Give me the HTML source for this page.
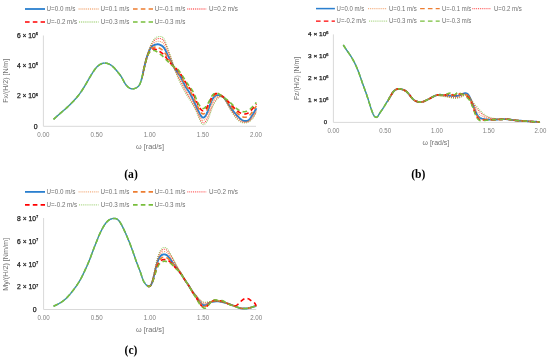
<!DOCTYPE html>
<html><head><meta charset="utf-8"><style>
html,body{margin:0;padding:0;background:#fff;}
svg{display:block;font-family:"Liberation Sans",sans-serif;}
.cap{font-family:"Liberation Serif",serif;font-weight:bold;}
.yt{font-family:"Liberation Sans",sans-serif;stroke:#1a1a1a;stroke-width:0.25px;}
</style></head><body>
<svg width="550" height="361" viewBox="0 0 550 361">
<rect width="550" height="361" fill="#fff"/>
<line x1="25" y1="9.0" x2="45" y2="9.0" stroke="#2a7fcf" stroke-width="1.80"/>
<text x="46.5" y="11.38" font-size="6.6" textLength="28.8" lengthAdjust="spacingAndGlyphs" fill="#707070">U=0.0 m/s</text>
<line x1="78.6" y1="9.0" x2="98.6" y2="9.0" stroke="#ED7D31" stroke-width="1.40" stroke-dasharray="1 0.9" stroke-opacity="0.6"/>
<text x="100.5" y="11.38" font-size="6.6" textLength="28.8" lengthAdjust="spacingAndGlyphs" fill="#707070">U=0.1 m/s</text>
<line x1="133" y1="9.0" x2="153" y2="9.0" stroke="#ED7D31" stroke-width="1.70" stroke-dasharray="4.6 3.2"/>
<text x="154.7" y="11.38" font-size="6.6" textLength="30.6" lengthAdjust="spacingAndGlyphs" fill="#707070">U=-0.1 m/s</text>
<line x1="187.3" y1="9.0" x2="206.5" y2="9.0" stroke="#FF0000" stroke-width="1.40" stroke-dasharray="1 0.9" stroke-opacity="0.6"/>
<text x="209" y="11.38" font-size="6.6" textLength="28.8" lengthAdjust="spacingAndGlyphs" fill="#707070">U=0.2 m/s</text>
<line x1="25" y1="22.0" x2="45" y2="22.0" stroke="#FF0000" stroke-width="1.70" stroke-dasharray="4.6 3.2"/>
<text x="46.5" y="24.38" font-size="6.6" textLength="30.6" lengthAdjust="spacingAndGlyphs" fill="#707070">U=-0.2 m/s</text>
<line x1="79" y1="22.0" x2="98.6" y2="22.0" stroke="#78BE3C" stroke-width="1.40" stroke-dasharray="1 0.9" stroke-opacity="0.6"/>
<text x="100.7" y="24.38" font-size="6.6" textLength="28.8" lengthAdjust="spacingAndGlyphs" fill="#707070">U=0.3 m/s</text>
<line x1="133" y1="22.0" x2="153" y2="22.0" stroke="#78BE3C" stroke-width="1.70" stroke-dasharray="4.6 3.2"/>
<text x="154.7" y="24.38" font-size="6.6" textLength="30.6" lengthAdjust="spacingAndGlyphs" fill="#707070">U=-0.3 m/s</text>
<line x1="43.4" y1="35.5" x2="43.4" y2="126.3" stroke="#d9d9d9" stroke-width="1"/>
<line x1="43.4" y1="126.3" x2="256" y2="126.3" stroke="#d9d9d9" stroke-width="1"/>
<text x="16.90" y="37.90" font-size="6.9" textLength="21.2" lengthAdjust="spacingAndGlyphs" fill="#1a1a1a" class="yt">6 × 10<tspan font-size="4.21" dy="-2.69">6</tspan></text>
<text x="16.90" y="68.10" font-size="6.9" textLength="21.2" lengthAdjust="spacingAndGlyphs" fill="#1a1a1a" class="yt">4 × 10<tspan font-size="4.21" dy="-2.69">6</tspan></text>
<text x="16.90" y="98.40" font-size="6.9" textLength="21.2" lengthAdjust="spacingAndGlyphs" fill="#1a1a1a" class="yt">2 × 10<tspan font-size="4.21" dy="-2.69">6</tspan></text>
<text x="37.70" y="128.70" font-size="6.9" text-anchor="end" fill="#1a1a1a" class="yt">0</text>
<text x="37.35" y="137.00" font-size="6.6" textLength="12.1" lengthAdjust="spacingAndGlyphs" fill="#7f7f7f">0.00</text>
<text x="90.50" y="137.00" font-size="6.6" textLength="12.1" lengthAdjust="spacingAndGlyphs" fill="#7f7f7f">0.50</text>
<text x="143.65" y="137.00" font-size="6.6" textLength="12.1" lengthAdjust="spacingAndGlyphs" fill="#7f7f7f">1.00</text>
<text x="196.80" y="137.00" font-size="6.6" textLength="12.1" lengthAdjust="spacingAndGlyphs" fill="#7f7f7f">1.50</text>
<text x="249.95" y="137.00" font-size="6.6" textLength="12.1" lengthAdjust="spacingAndGlyphs" fill="#7f7f7f">2.00</text>
<text x="136.00" y="148.90" font-size="6.3" textLength="28" lengthAdjust="spacingAndGlyphs" fill="#707070">ω [rad/s]</text>
<text transform="translate(5.8,80.8) rotate(-90)" x="-21.90" y="2.2" font-size="6.4" textLength="43.8" lengthAdjust="spacingAndGlyphs" fill="#707070">Fx/(H/2) [N/m]</text>
<clipPath id="cl1"><rect x="142" y="0" width="600" height="400"/></clipPath>
<clipPath id="sh1"><rect x="0" y="0" width="142" height="400"/></clipPath>
<path d="M53.60,119.30 L54.10,118.85 L54.60,118.39 L55.10,117.94 L55.60,117.48 L56.10,117.03 L56.60,116.58 L57.10,116.13 L57.60,115.68 L58.10,115.24 L58.60,114.79 L59.10,114.35 L59.60,113.91 L60.10,113.47 L60.60,113.04 L61.10,112.61 L61.60,112.18 L62.10,111.75 L62.60,111.33 L63.10,110.90 L63.60,110.47 L64.10,110.04 L64.60,109.61 L65.10,109.17 L65.60,108.74 L66.10,108.29 L66.60,107.85 L67.10,107.39 L67.60,106.93 L68.10,106.46 L68.60,105.99 L69.10,105.51 L69.60,105.03 L70.10,104.54 L70.60,104.04 L71.10,103.53 L71.60,103.03 L72.10,102.51 L72.60,101.99 L73.10,101.47 L73.60,100.94 L74.10,100.40 L74.60,99.86 L75.10,99.31 L75.60,98.76 L76.10,98.19 L76.60,97.62 L77.10,97.03 L77.60,96.43 L78.10,95.81 L78.60,95.18 L79.10,94.53 L79.60,93.86 L80.10,93.18 L80.60,92.47 L81.10,91.75 L81.60,91.01 L82.10,90.25 L82.60,89.48 L83.10,88.70 L83.60,87.90 L84.10,87.09 L84.60,86.27 L85.10,85.44 L85.60,84.60 L86.10,83.75 L86.60,82.89 L87.10,82.03 L87.60,81.17 L88.10,80.30 L88.60,79.44 L89.10,78.58 L89.60,77.71 L90.10,76.86 L90.60,76.01 L91.10,75.17 L91.60,74.34 L92.10,73.52 L92.60,72.73 L93.10,71.95 L93.60,71.20 L94.10,70.47 L94.60,69.77 L95.10,69.11 L95.60,68.48 L96.10,67.88 L96.60,67.33 L97.10,66.81 L97.60,66.32 L98.10,65.87 L98.60,65.46 L99.10,65.08 L99.60,64.73 L100.10,64.42 L100.60,64.15 L101.10,63.90 L101.60,63.69 L102.10,63.52 L102.60,63.37 L103.10,63.26 L103.60,63.17 L104.10,63.12 L104.60,63.09 L105.10,63.10 L105.60,63.13 L106.10,63.19 L106.60,63.27 L107.10,63.39 L107.60,63.53 L108.10,63.70 L108.60,63.89 L109.10,64.11 L109.60,64.35 L110.10,64.62 L110.60,64.92 L111.10,65.24 L111.60,65.59 L112.10,65.97 L112.60,66.38 L113.10,66.82 L113.60,67.30 L114.10,67.80 L114.60,68.34 L115.10,68.89 L115.60,69.47 L116.10,70.06 L116.60,70.67 L117.10,71.28 L117.60,71.90 L118.10,72.51 L118.60,73.12 L119.10,73.73 L119.60,74.34 L120.10,74.98 L120.60,75.66 L121.10,76.40 L121.60,77.20 L122.10,78.08 L122.60,79.01 L123.10,79.97 L123.60,80.93 L124.10,81.87 L124.60,82.74 L125.10,83.55 L125.60,84.28 L126.10,84.95 L126.60,85.56 L127.10,86.11 L127.60,86.60 L128.10,87.04 L128.60,87.43 L129.10,87.76 L129.60,88.05 L130.10,88.29 L130.60,88.49 L131.10,88.64 L131.60,88.75 L132.10,88.81 L132.60,88.83 L133.10,88.82 L133.60,88.76 L134.10,88.66 L134.60,88.53 L135.10,88.35 L135.60,88.14 L136.10,87.89 L136.60,87.61 L137.10,87.28 L137.60,86.93 L138.10,86.52 L138.60,86.02 L139.10,85.39 L139.60,84.57 L140.10,83.53 L140.60,82.21 L141.10,80.61 L141.60,78.77 L142.10,76.76 L142.60,74.64 L143.10,72.47 L143.60,70.27 L144.10,68.07 L144.60,65.90 L145.10,63.79 L145.60,61.76 L146.10,59.83 L146.60,58.02 L147.10,56.35 L147.60,54.83 L148.10,53.43 L148.60,52.16 L149.10,51.00 L149.60,49.93 L150.10,48.97 L150.60,48.10 L151.10,47.35 L151.60,46.72 L152.10,46.21 L152.60,45.81 L153.10,45.50 L153.60,45.26 L154.10,45.06 L154.60,44.90 L155.10,44.75 L155.60,44.61 L156.10,44.49 L156.60,44.39 L157.10,44.32 L157.60,44.30 L158.10,44.31 L158.60,44.37 L159.10,44.48 L159.60,44.62 L160.10,44.81 L160.60,45.03 L161.10,45.29 L161.60,45.58 L162.10,45.91 L162.60,46.29 L163.10,46.75 L163.60,47.29 L164.10,47.94 L164.60,48.70 L165.10,49.59 L165.60,50.57 L166.10,51.62 L166.60,52.70 L167.10,53.78 L167.60,54.82 L168.10,55.82 L168.60,56.79 L169.10,57.76 L169.60,58.72 L170.10,59.70 L170.60,60.70 L171.10,61.72 L171.60,62.74 L172.10,63.76 L172.60,64.76 L173.10,65.73 L173.60,66.67 L174.10,67.56 L174.60,68.39 L175.10,69.17 L175.60,69.90 L176.10,70.60 L176.60,71.27 L177.10,71.93 L177.60,72.58 L178.10,73.23 L178.60,73.90 L179.10,74.59 L179.60,75.31 L180.10,76.08 L180.60,76.90 L181.10,77.78 L181.60,78.73 L182.10,79.73 L182.60,80.77 L183.10,81.82 L183.60,82.88 L184.10,83.92 L184.60,84.92 L185.10,85.88 L185.60,86.77 L186.10,87.59 L186.60,88.35 L187.10,89.08 L187.60,89.78 L188.10,90.47 L188.60,91.18 L189.10,91.91 L189.60,92.70 L190.10,93.55 L190.60,94.47 L191.10,95.45 L191.60,96.47 L192.10,97.53 L192.60,98.61 L193.10,99.70 L193.60,100.79 L194.10,101.88 L194.60,102.96 L195.10,104.04 L195.60,105.12 L196.10,106.19 L196.60,107.25 L197.10,108.31 L197.60,109.36 L198.10,110.39 L198.60,111.41 L199.10,112.40 L199.60,113.38 L200.10,114.30 L200.60,115.16 L201.10,115.93 L201.60,116.57 L202.10,117.07 L202.60,117.41 L203.10,117.57 L203.60,117.55 L204.10,117.35 L204.60,116.97 L205.10,116.43 L205.60,115.72 L206.10,114.86 L206.60,113.87 L207.10,112.76 L207.60,111.54 L208.10,110.23 L208.60,108.85 L209.10,107.44 L209.60,106.02 L210.10,104.63 L210.60,103.30 L211.10,102.06 L211.60,100.93 L212.10,99.89 L212.60,98.96 L213.10,98.14 L213.60,97.43 L214.10,96.83 L214.60,96.33 L215.10,95.92 L215.60,95.60 L216.10,95.37 L216.60,95.21 L217.10,95.12 L217.60,95.09 L218.10,95.09 L218.60,95.14 L219.10,95.21 L219.60,95.32 L220.10,95.45 L220.60,95.62 L221.10,95.81 L221.60,96.04 L222.10,96.30 L222.60,96.60 L223.10,96.95 L223.60,97.35 L224.10,97.82 L224.60,98.35 L225.10,98.95 L225.60,99.63 L226.10,100.36 L226.60,101.14 L227.10,101.96 L227.60,102.80 L228.10,103.64 L228.60,104.48 L229.10,105.30 L229.60,106.09 L230.10,106.85 L230.60,107.59 L231.10,108.30 L231.60,108.99 L232.10,109.66 L232.60,110.31 L233.10,110.95 L233.60,111.58 L234.10,112.19 L234.60,112.80 L235.10,113.39 L235.60,113.97 L236.10,114.54 L236.60,115.10 L237.10,115.65 L237.60,116.18 L238.10,116.70 L238.60,117.20 L239.10,117.68 L239.60,118.15 L240.10,118.59 L240.60,119.00 L241.10,119.39 L241.60,119.74 L242.10,120.05 L242.60,120.32 L243.10,120.54 L243.60,120.72 L244.10,120.85 L244.60,120.94 L245.10,121.00 L245.60,121.01 L246.10,120.99 L246.60,120.93 L247.10,120.81 L247.60,120.64 L248.10,120.39 L248.60,120.06 L249.10,119.63 L249.60,119.10 L250.10,118.50 L250.60,117.82 L251.10,117.10 L251.60,116.32 L252.10,115.52 L252.60,114.71 L253.10,113.89 L253.60,113.05 L254.10,112.21 L254.60,111.37 L255.10,110.52 L255.60,109.67 L256.10,108.81 L256.40,108.30" stroke="#2a7fcf" stroke-width="1.9" fill="none" stroke-linejoin="round" clip-path="url(#cl1)"/>
<path d="M53.60,119.30 L54.10,118.85 L54.60,118.39 L55.10,117.94 L55.60,117.48 L56.10,117.03 L56.60,116.58 L57.10,116.13 L57.60,115.68 L58.10,115.24 L58.60,114.79 L59.10,114.35 L59.60,113.91 L60.10,113.47 L60.60,113.04 L61.10,112.61 L61.60,112.18 L62.10,111.75 L62.60,111.33 L63.10,110.90 L63.60,110.47 L64.10,110.04 L64.60,109.61 L65.10,109.17 L65.60,108.74 L66.10,108.29 L66.60,107.85 L67.10,107.39 L67.60,106.93 L68.10,106.46 L68.60,105.99 L69.10,105.51 L69.60,105.03 L70.10,104.54 L70.60,104.04 L71.10,103.53 L71.60,103.03 L72.10,102.51 L72.60,101.99 L73.10,101.47 L73.60,100.94 L74.10,100.40 L74.60,99.86 L75.10,99.31 L75.60,98.76 L76.10,98.19 L76.60,97.62 L77.10,97.03 L77.60,96.43 L78.10,95.81 L78.60,95.18 L79.10,94.53 L79.60,93.86 L80.10,93.18 L80.60,92.47 L81.10,91.75 L81.60,91.01 L82.10,90.25 L82.60,89.48 L83.10,88.70 L83.60,87.90 L84.10,87.09 L84.60,86.27 L85.10,85.44 L85.60,84.60 L86.10,83.75 L86.60,82.89 L87.10,82.03 L87.60,81.17 L88.10,80.30 L88.60,79.44 L89.10,78.58 L89.60,77.71 L90.10,76.86 L90.60,76.01 L91.10,75.17 L91.60,74.34 L92.10,73.52 L92.60,72.73 L93.10,71.95 L93.60,71.20 L94.10,70.47 L94.60,69.77 L95.10,69.11 L95.60,68.48 L96.10,67.88 L96.60,67.33 L97.10,66.81 L97.60,66.32 L98.10,65.87 L98.60,65.46 L99.10,65.08 L99.60,64.73 L100.10,64.42 L100.60,64.15 L101.10,63.90 L101.60,63.69 L102.10,63.52 L102.60,63.37 L103.10,63.26 L103.60,63.17 L104.10,63.12 L104.60,63.09 L105.10,63.10 L105.60,63.13 L106.10,63.19 L106.60,63.27 L107.10,63.39 L107.60,63.53 L108.10,63.70 L108.60,63.89 L109.10,64.11 L109.60,64.35 L110.10,64.62 L110.60,64.92 L111.10,65.24 L111.60,65.59 L112.10,65.97 L112.60,66.38 L113.10,66.82 L113.60,67.30 L114.10,67.80 L114.60,68.34 L115.10,68.89 L115.60,69.47 L116.10,70.06 L116.60,70.67 L117.10,71.28 L117.60,71.90 L118.10,72.51 L118.60,73.12 L119.10,73.73 L119.60,74.34 L120.10,74.98 L120.60,75.66 L121.10,76.40 L121.60,77.20 L122.10,78.08 L122.60,79.01 L123.10,79.97 L123.60,80.93 L124.10,81.87 L124.60,82.74 L125.10,83.55 L125.60,84.28 L126.10,84.95 L126.60,85.56 L127.10,86.11 L127.60,86.60 L128.10,87.04 L128.60,87.43 L129.10,87.76 L129.60,88.05 L130.10,88.29 L130.60,88.49 L131.10,88.64 L131.60,88.75 L132.10,88.81 L132.60,88.83 L133.10,88.82 L133.60,88.76 L134.10,88.66 L134.60,88.53 L135.10,88.35 L135.60,88.14 L136.10,87.89 L136.60,87.61 L137.10,87.28 L137.60,86.93 L138.10,86.52 L138.60,86.02 L139.10,85.39 L139.60,84.57 L140.10,83.53 L140.60,82.21 L141.10,80.61 L141.60,78.77 L142.10,76.76 L142.60,74.64 L143.10,72.47 L143.60,70.27 L144.10,68.07 L144.60,65.90 L145.10,63.79 L145.60,61.76 L146.10,59.83 L146.60,58.02 L147.10,56.35 L147.60,54.83 L148.10,53.43 L148.60,52.16 L149.10,51.00 L149.60,49.93 L150.10,48.97 L150.60,48.10 L151.10,47.35 L151.60,46.72 L152.10,46.21 L152.60,45.81 L153.10,45.50 L153.60,45.26 L154.10,45.06 L154.60,44.90 L155.10,44.75 L155.60,44.61 L156.10,44.49 L156.60,44.39 L157.10,44.32 L157.60,44.30 L158.10,44.31 L158.60,44.37 L159.10,44.48 L159.60,44.62 L160.10,44.81 L160.60,45.03 L161.10,45.29 L161.60,45.58 L162.10,45.91 L162.60,46.29 L163.10,46.75 L163.60,47.29 L164.10,47.94 L164.60,48.70 L165.10,49.59 L165.60,50.57 L166.10,51.62 L166.60,52.70 L167.10,53.78 L167.60,54.82 L168.10,55.82 L168.60,56.79 L169.10,57.76 L169.60,58.72 L170.10,59.70 L170.60,60.70 L171.10,61.72 L171.60,62.74 L172.10,63.76 L172.60,64.76 L173.10,65.73 L173.60,66.67 L174.10,67.56 L174.60,68.39 L175.10,69.17 L175.60,69.90 L176.10,70.60 L176.60,71.27 L177.10,71.93 L177.60,72.58 L178.10,73.23 L178.60,73.90 L179.10,74.59 L179.60,75.31 L180.10,76.08 L180.60,76.90 L181.10,77.78 L181.60,78.73 L182.10,79.73 L182.60,80.77 L183.10,81.82 L183.60,82.88 L184.10,83.92 L184.60,84.92 L185.10,85.88 L185.60,86.77 L186.10,87.59 L186.60,88.35 L187.10,89.08 L187.60,89.78 L188.10,90.47 L188.60,91.18 L189.10,91.91 L189.60,92.70 L190.10,93.55 L190.60,94.47 L191.10,95.45 L191.60,96.47 L192.10,97.53 L192.60,98.61 L193.10,99.70 L193.60,100.79 L194.10,101.88 L194.60,102.96 L195.10,104.04 L195.60,105.12 L196.10,106.19 L196.60,107.25 L197.10,108.31 L197.60,109.36 L198.10,110.39 L198.60,111.41 L199.10,112.40 L199.60,113.38 L200.10,114.30 L200.60,115.16 L201.10,115.93 L201.60,116.57 L202.10,117.07 L202.60,117.41 L203.10,117.57 L203.60,117.55 L204.10,117.35 L204.60,116.97 L205.10,116.43 L205.60,115.72 L206.10,114.86 L206.60,113.87 L207.10,112.76 L207.60,111.54 L208.10,110.23 L208.60,108.85 L209.10,107.44 L209.60,106.02 L210.10,104.63 L210.60,103.30 L211.10,102.06 L211.60,100.93 L212.10,99.89 L212.60,98.96 L213.10,98.14 L213.60,97.43 L214.10,96.83 L214.60,96.33 L215.10,95.92 L215.60,95.60 L216.10,95.37 L216.60,95.21 L217.10,95.12 L217.60,95.09 L218.10,95.09 L218.60,95.14 L219.10,95.21 L219.60,95.32 L220.10,95.45 L220.60,95.62 L221.10,95.81 L221.60,96.04 L222.10,96.30 L222.60,96.60 L223.10,96.95 L223.60,97.35 L224.10,97.82 L224.60,98.35 L225.10,98.95 L225.60,99.63 L226.10,100.36 L226.60,101.14 L227.10,101.96 L227.60,102.80 L228.10,103.64 L228.60,104.48 L229.10,105.30 L229.60,106.09 L230.10,106.85 L230.60,107.59 L231.10,108.30 L231.60,108.99 L232.10,109.66 L232.60,110.31 L233.10,110.95 L233.60,111.58 L234.10,112.19 L234.60,112.80 L235.10,113.39 L235.60,113.97 L236.10,114.54 L236.60,115.10 L237.10,115.65 L237.60,116.18 L238.10,116.70 L238.60,117.20 L239.10,117.68 L239.60,118.15 L240.10,118.59 L240.60,119.00 L241.10,119.39 L241.60,119.74 L242.10,120.05 L242.60,120.32 L243.10,120.54 L243.60,120.72 L244.10,120.85 L244.60,120.94 L245.10,121.00 L245.60,121.01 L246.10,120.99 L246.60,120.93 L247.10,120.81 L247.60,120.64 L248.10,120.39 L248.60,120.06 L249.10,119.63 L249.60,119.10 L250.10,118.50 L250.60,117.82 L251.10,117.10 L251.60,116.32 L252.10,115.52 L252.60,114.71 L253.10,113.89 L253.60,113.05 L254.10,112.21 L254.60,111.37 L255.10,110.52 L255.60,109.67 L256.10,108.81 L256.40,108.30" stroke="#2a7fcf" stroke-width="1.4" fill="none" stroke-linejoin="round" clip-path="url(#sh1)"/>
<path d="M53.60,119.30 L54.10,118.85 L54.60,118.39 L55.10,117.94 L55.60,117.48 L56.10,117.03 L56.60,116.58 L57.10,116.13 L57.60,115.68 L58.10,115.24 L58.60,114.79 L59.10,114.35 L59.60,113.91 L60.10,113.47 L60.60,113.04 L61.10,112.61 L61.60,112.18 L62.10,111.75 L62.60,111.33 L63.10,110.90 L63.60,110.47 L64.10,110.04 L64.60,109.61 L65.10,109.17 L65.60,108.74 L66.10,108.29 L66.60,107.85 L67.10,107.39 L67.60,106.93 L68.10,106.46 L68.60,105.99 L69.10,105.51 L69.60,105.03 L70.10,104.54 L70.60,104.04 L71.10,103.53 L71.60,103.03 L72.10,102.51 L72.60,101.99 L73.10,101.47 L73.60,100.94 L74.10,100.40 L74.60,99.86 L75.10,99.31 L75.60,98.76 L76.10,98.19 L76.60,97.62 L77.10,97.03 L77.60,96.43 L78.10,95.81 L78.60,95.18 L79.10,94.53 L79.60,93.86 L80.10,93.18 L80.60,92.47 L81.10,91.75 L81.60,91.01 L82.10,90.25 L82.60,89.48 L83.10,88.70 L83.60,87.90 L84.10,87.09 L84.60,86.27 L85.10,85.44 L85.60,84.60 L86.10,83.75 L86.60,82.89 L87.10,82.03 L87.60,81.17 L88.10,80.30 L88.60,79.44 L89.10,78.58 L89.60,77.71 L90.10,76.86 L90.60,76.01 L91.10,75.17 L91.60,74.34 L92.10,73.52 L92.60,72.73 L93.10,71.95 L93.60,71.20 L94.10,70.47 L94.60,69.77 L95.10,69.11 L95.60,68.48 L96.10,67.88 L96.60,67.33 L97.10,66.81 L97.60,66.32 L98.10,65.87 L98.60,65.46 L99.10,65.08 L99.60,64.73 L100.10,64.42 L100.60,64.15 L101.10,63.90 L101.60,63.69 L102.10,63.52 L102.60,63.37 L103.10,63.26 L103.60,63.17 L104.10,63.12 L104.60,63.09 L105.10,63.10 L105.60,63.13 L106.10,63.19 L106.60,63.27 L107.10,63.39 L107.60,63.53 L108.10,63.70 L108.60,63.89 L109.10,64.11 L109.60,64.35 L110.10,64.62 L110.60,64.92 L111.10,65.24 L111.60,65.59 L112.10,65.97 L112.60,66.38 L113.10,66.82 L113.60,67.30 L114.10,67.80 L114.60,68.34 L115.10,68.89 L115.60,69.47 L116.10,70.06 L116.60,70.67 L117.10,71.28 L117.60,71.90 L118.10,72.51 L118.60,73.12 L119.10,73.73 L119.60,74.34 L120.10,74.98 L120.60,75.66 L121.10,76.40 L121.60,77.20 L122.10,78.08 L122.60,79.01 L123.10,79.97 L123.60,80.93 L124.10,81.87 L124.60,82.74 L125.10,83.55 L125.60,84.28 L126.10,84.95 L126.60,85.56 L127.10,86.11 L127.60,86.60 L128.10,87.04 L128.60,87.43 L129.10,87.76 L129.60,88.05 L130.10,88.29 L130.60,88.49 L131.10,88.64 L131.60,88.75 L132.10,88.81 L132.60,88.83 L133.10,88.82 L133.60,88.76 L134.10,88.66 L134.60,88.53 L135.10,88.35 L135.60,88.14 L136.10,87.89 L136.60,87.61 L137.10,87.28 L137.60,86.93 L138.10,86.52 L138.60,86.02 L139.10,85.39 L139.60,84.57 L140.10,83.53 L140.60,82.21 L141.10,80.61 L141.60,78.77 L142.10,76.76 L142.60,74.64 L143.10,72.47 L143.60,70.26 L144.10,68.06 L144.60,65.90 L145.10,63.80 L145.60,61.78 L146.10,59.85 L146.60,58.02 L147.10,56.29 L147.60,54.68 L148.10,53.16 L148.60,51.75 L149.10,50.43 L149.60,49.20 L150.10,48.07 L150.60,47.04 L151.10,46.12 L151.60,45.31 L152.10,44.61 L152.60,44.02 L153.10,43.52 L153.60,43.10 L154.10,42.74 L154.60,42.42 L155.10,42.15 L155.60,41.90 L156.10,41.70 L156.60,41.53 L157.10,41.40 L157.60,41.32 L158.10,41.27 L158.60,41.27 L159.10,41.31 L159.60,41.37 L160.10,41.47 L160.60,41.61 L161.10,41.78 L161.60,42.01 L162.10,42.30 L162.60,42.67 L163.10,43.13 L163.60,43.71 L164.10,44.40 L164.60,45.23 L165.10,46.18 L165.60,47.24 L166.10,48.39 L166.60,49.59 L167.10,50.81 L167.60,52.00 L168.10,53.16 L168.60,54.30 L169.10,55.42 L169.60,56.55 L170.10,57.69 L170.60,58.86 L171.10,60.06 L171.60,61.29 L172.10,62.54 L172.60,63.80 L173.10,65.04 L173.60,66.26 L174.10,67.44 L174.60,68.57 L175.10,69.63 L175.60,70.65 L176.10,71.62 L176.60,72.56 L177.10,73.47 L177.60,74.35 L178.10,75.22 L178.60,76.09 L179.10,76.95 L179.60,77.82 L180.10,78.71 L180.60,79.61 L181.10,80.55 L181.60,81.51 L182.10,82.50 L182.60,83.50 L183.10,84.51 L183.60,85.51 L184.10,86.50 L184.60,87.47 L185.10,88.41 L185.60,89.30 L186.10,90.14 L186.60,90.95 L187.10,91.72 L187.60,92.47 L188.10,93.21 L188.60,93.95 L189.10,94.71 L189.60,95.49 L190.10,96.31 L190.60,97.18 L191.10,98.09 L191.60,99.04 L192.10,100.01 L192.60,101.00 L193.10,102.00 L193.60,103.02 L194.10,104.04 L194.60,105.07 L195.10,106.10 L195.60,107.14 L196.10,108.20 L196.60,109.26 L197.10,110.34 L197.60,111.43 L198.10,112.53 L198.60,113.64 L199.10,114.74 L199.60,115.82 L200.10,116.85 L200.60,117.79 L201.10,118.63 L201.60,119.32 L202.10,119.85 L202.60,120.20 L203.10,120.38 L203.60,120.38 L204.10,120.21 L204.60,119.88 L205.10,119.40 L205.60,118.79 L206.10,118.06 L206.60,117.20 L207.10,116.23 L207.60,115.13 L208.10,113.93 L208.60,112.62 L209.10,111.25 L209.60,109.83 L210.10,108.41 L210.60,107.01 L211.10,105.67 L211.60,104.41 L212.10,103.24 L212.60,102.17 L213.10,101.21 L213.60,100.36 L214.10,99.60 L214.60,98.93 L215.10,98.35 L215.60,97.86 L216.10,97.43 L216.60,97.08 L217.10,96.78 L217.60,96.53 L218.10,96.33 L218.60,96.18 L219.10,96.08 L219.60,96.03 L220.10,96.03 L220.60,96.08 L221.10,96.20 L221.60,96.36 L222.10,96.59 L222.60,96.88 L223.10,97.23 L223.60,97.65 L224.10,98.14 L224.60,98.71 L225.10,99.36 L225.60,100.07 L226.10,100.85 L226.60,101.67 L227.10,102.52 L227.60,103.40 L228.10,104.29 L228.60,105.18 L229.10,106.06 L229.60,106.91 L230.10,107.73 L230.60,108.53 L231.10,109.31 L231.60,110.07 L232.10,110.81 L232.60,111.52 L233.10,112.22 L233.60,112.90 L234.10,113.56 L234.60,114.20 L235.10,114.82 L235.60,115.42 L236.10,116.01 L236.60,116.57 L237.10,117.11 L237.60,117.63 L238.10,118.12 L238.60,118.60 L239.10,119.04 L239.60,119.46 L240.10,119.85 L240.60,120.21 L241.10,120.54 L241.60,120.83 L242.10,121.08 L242.60,121.30 L243.10,121.47 L243.60,121.61 L244.10,121.71 L244.60,121.77 L245.10,121.79 L245.60,121.78 L246.10,121.74 L246.60,121.67 L247.10,121.55 L247.60,121.37 L248.10,121.14 L248.60,120.85 L249.10,120.48 L249.60,120.04 L250.10,119.53 L250.60,118.96 L251.10,118.35 L251.60,117.69 L252.10,116.99 L252.60,116.26 L253.10,115.51 L253.60,114.73 L254.10,113.93 L254.60,113.10 L255.10,112.25 L255.60,111.38 L256.10,110.51 L256.40,109.98" stroke="#ED7D31" stroke-width="1.1" stroke-dasharray="1 1.1" fill="none" stroke-linejoin="round" clip-path="url(#cl1)" stroke-opacity="0.75"/>
<path d="M53.60,119.30 L54.10,118.85 L54.60,118.39 L55.10,117.94 L55.60,117.48 L56.10,117.03 L56.60,116.58 L57.10,116.13 L57.60,115.68 L58.10,115.24 L58.60,114.79 L59.10,114.35 L59.60,113.91 L60.10,113.47 L60.60,113.04 L61.10,112.61 L61.60,112.18 L62.10,111.75 L62.60,111.33 L63.10,110.90 L63.60,110.47 L64.10,110.04 L64.60,109.61 L65.10,109.17 L65.60,108.74 L66.10,108.29 L66.60,107.85 L67.10,107.39 L67.60,106.93 L68.10,106.46 L68.60,105.99 L69.10,105.51 L69.60,105.03 L70.10,104.54 L70.60,104.04 L71.10,103.53 L71.60,103.03 L72.10,102.51 L72.60,101.99 L73.10,101.47 L73.60,100.94 L74.10,100.40 L74.60,99.86 L75.10,99.31 L75.60,98.76 L76.10,98.19 L76.60,97.62 L77.10,97.03 L77.60,96.43 L78.10,95.81 L78.60,95.18 L79.10,94.53 L79.60,93.86 L80.10,93.18 L80.60,92.47 L81.10,91.75 L81.60,91.01 L82.10,90.25 L82.60,89.48 L83.10,88.70 L83.60,87.90 L84.10,87.09 L84.60,86.27 L85.10,85.44 L85.60,84.60 L86.10,83.75 L86.60,82.89 L87.10,82.03 L87.60,81.17 L88.10,80.30 L88.60,79.44 L89.10,78.58 L89.60,77.71 L90.10,76.86 L90.60,76.01 L91.10,75.17 L91.60,74.34 L92.10,73.52 L92.60,72.73 L93.10,71.95 L93.60,71.20 L94.10,70.47 L94.60,69.77 L95.10,69.11 L95.60,68.48 L96.10,67.88 L96.60,67.33 L97.10,66.81 L97.60,66.32 L98.10,65.87 L98.60,65.46 L99.10,65.08 L99.60,64.73 L100.10,64.42 L100.60,64.15 L101.10,63.90 L101.60,63.69 L102.10,63.52 L102.60,63.37 L103.10,63.26 L103.60,63.17 L104.10,63.12 L104.60,63.09 L105.10,63.10 L105.60,63.13 L106.10,63.19 L106.60,63.27 L107.10,63.39 L107.60,63.53 L108.10,63.70 L108.60,63.89 L109.10,64.11 L109.60,64.35 L110.10,64.62 L110.60,64.92 L111.10,65.24 L111.60,65.59 L112.10,65.97 L112.60,66.38 L113.10,66.82 L113.60,67.30 L114.10,67.80 L114.60,68.34 L115.10,68.89 L115.60,69.47 L116.10,70.06 L116.60,70.67 L117.10,71.28 L117.60,71.90 L118.10,72.51 L118.60,73.12 L119.10,73.73 L119.60,74.34 L120.10,74.98 L120.60,75.66 L121.10,76.40 L121.60,77.20 L122.10,78.08 L122.60,79.01 L123.10,79.97 L123.60,80.93 L124.10,81.87 L124.60,82.74 L125.10,83.55 L125.60,84.28 L126.10,84.95 L126.60,85.56 L127.10,86.11 L127.60,86.60 L128.10,87.04 L128.60,87.43 L129.10,87.76 L129.60,88.05 L130.10,88.29 L130.60,88.49 L131.10,88.64 L131.60,88.75 L132.10,88.81 L132.60,88.83 L133.10,88.82 L133.60,88.76 L134.10,88.66 L134.60,88.53 L135.10,88.35 L135.60,88.14 L136.10,87.89 L136.60,87.61 L137.10,87.28 L137.60,86.93 L138.10,86.52 L138.60,86.02 L139.10,85.39 L139.60,84.57 L140.10,83.53 L140.60,82.21 L141.10,80.61 L141.60,78.77 L142.10,76.76 L142.60,74.64 L143.10,72.46 L143.60,70.25 L144.10,68.05 L144.60,65.90 L145.10,63.82 L145.60,61.84 L146.10,59.97 L146.60,58.23 L147.10,56.63 L147.60,55.20 L148.10,53.91 L148.60,52.76 L149.10,51.74 L149.60,50.83 L150.10,50.03 L150.60,49.35 L151.10,48.76 L151.60,48.29 L152.10,47.91 L152.60,47.63 L153.10,47.42 L153.60,47.29 L154.10,47.20 L154.60,47.15 L155.10,47.13 L155.60,47.14 L156.10,47.19 L156.60,47.26 L157.10,47.37 L157.60,47.50 L158.10,47.67 L158.60,47.85 L159.10,48.06 L159.60,48.29 L160.10,48.54 L160.60,48.81 L161.10,49.11 L161.60,49.44 L162.10,49.81 L162.60,50.22 L163.10,50.68 L163.60,51.21 L164.10,51.80 L164.60,52.46 L165.10,53.19 L165.60,53.98 L166.10,54.81 L166.60,55.65 L167.10,56.50 L167.60,57.32 L168.10,58.13 L168.60,58.92 L169.10,59.71 L169.60,60.50 L170.10,61.29 L170.60,62.10 L171.10,62.89 L171.60,63.68 L172.10,64.44 L172.60,65.17 L173.10,65.88 L173.60,66.56 L174.10,67.20 L174.60,67.81 L175.10,68.40 L175.60,68.97 L176.10,69.52 L176.60,70.08 L177.10,70.65 L177.60,71.24 L178.10,71.85 L178.60,72.49 L179.10,73.15 L179.60,73.85 L180.10,74.58 L180.60,75.36 L181.10,76.19 L181.60,77.06 L182.10,77.97 L182.60,78.90 L183.10,79.85 L183.60,80.80 L184.10,81.73 L184.60,82.65 L185.10,83.54 L185.60,84.39 L186.10,85.19 L186.60,85.95 L187.10,86.68 L187.60,87.39 L188.10,88.09 L188.60,88.80 L189.10,89.51 L189.60,90.25 L190.10,91.02 L190.60,91.85 L191.10,92.71 L191.60,93.62 L192.10,94.56 L192.60,95.54 L193.10,96.55 L193.60,97.59 L194.10,98.66 L194.60,99.77 L195.10,100.89 L195.60,102.01 L196.10,103.14 L196.60,104.24 L197.10,105.32 L197.60,106.37 L198.10,107.39 L198.60,108.38 L199.10,109.32 L199.60,110.23 L200.10,111.07 L200.60,111.85 L201.10,112.54 L201.60,113.11 L202.10,113.55 L202.60,113.83 L203.10,113.95 L203.60,113.89 L204.10,113.68 L204.60,113.32 L205.10,112.82 L205.60,112.19 L206.10,111.44 L206.60,110.59 L207.10,109.63 L207.60,108.58 L208.10,107.44 L208.60,106.24 L209.10,104.99 L209.60,103.73 L210.10,102.49 L210.60,101.30 L211.10,100.18 L211.60,99.16 L212.10,98.23 L212.60,97.40 L213.10,96.68 L213.60,96.06 L214.10,95.54 L214.60,95.11 L215.10,94.78 L215.60,94.54 L216.10,94.38 L216.60,94.30 L217.10,94.29 L217.60,94.33 L218.10,94.42 L218.60,94.56 L219.10,94.72 L219.60,94.91 L220.10,95.13 L220.60,95.38 L221.10,95.64 L221.60,95.92 L222.10,96.22 L222.60,96.55 L223.10,96.91 L223.60,97.30 L224.10,97.72 L224.60,98.19 L225.10,98.69 L225.60,99.25 L226.10,99.84 L226.60,100.45 L227.10,101.10 L227.60,101.76 L228.10,102.43 L228.60,103.11 L229.10,103.78 L229.60,104.44 L230.10,105.08 L230.60,105.72 L231.10,106.34 L231.60,106.95 L232.10,107.55 L232.60,108.14 L233.10,108.72 L233.60,109.29 L234.10,109.85 L234.60,110.40 L235.10,110.94 L235.60,111.46 L236.10,111.97 L236.60,112.47 L237.10,112.95 L237.60,113.42 L238.10,113.87 L238.60,114.30 L239.10,114.71 L239.60,115.10 L240.10,115.47 L240.60,115.80 L241.10,116.11 L241.60,116.39 L242.10,116.63 L242.60,116.83 L243.10,116.99 L243.60,117.12 L244.10,117.20 L244.60,117.24 L245.10,117.25 L245.60,117.22 L246.10,117.15 L246.60,117.05 L247.10,116.90 L247.60,116.70 L248.10,116.45 L248.60,116.13 L249.10,115.73 L249.60,115.27 L250.10,114.74 L250.60,114.16 L251.10,113.54 L251.60,112.88 L252.10,112.19 L252.60,111.49 L253.10,110.77 L253.60,110.05 L254.10,109.33 L254.60,108.60 L255.10,107.87 L255.60,107.15 L256.10,106.42 L256.40,105.98" stroke="#ED7D31" stroke-width="1.6" stroke-dasharray="4.6 3.2" fill="none" stroke-linejoin="round" clip-path="url(#cl1)"/>
<path d="M53.60,119.30 L54.10,118.85 L54.60,118.39 L55.10,117.94 L55.60,117.48 L56.10,117.03 L56.60,116.58 L57.10,116.13 L57.60,115.68 L58.10,115.24 L58.60,114.79 L59.10,114.35 L59.60,113.91 L60.10,113.47 L60.60,113.04 L61.10,112.61 L61.60,112.18 L62.10,111.75 L62.60,111.33 L63.10,110.90 L63.60,110.47 L64.10,110.04 L64.60,109.61 L65.10,109.17 L65.60,108.74 L66.10,108.29 L66.60,107.85 L67.10,107.39 L67.60,106.93 L68.10,106.46 L68.60,105.99 L69.10,105.51 L69.60,105.03 L70.10,104.54 L70.60,104.04 L71.10,103.53 L71.60,103.03 L72.10,102.51 L72.60,101.99 L73.10,101.47 L73.60,100.94 L74.10,100.40 L74.60,99.86 L75.10,99.31 L75.60,98.76 L76.10,98.19 L76.60,97.62 L77.10,97.03 L77.60,96.43 L78.10,95.81 L78.60,95.18 L79.10,94.53 L79.60,93.86 L80.10,93.18 L80.60,92.47 L81.10,91.75 L81.60,91.01 L82.10,90.25 L82.60,89.48 L83.10,88.70 L83.60,87.90 L84.10,87.09 L84.60,86.27 L85.10,85.44 L85.60,84.60 L86.10,83.75 L86.60,82.89 L87.10,82.03 L87.60,81.17 L88.10,80.30 L88.60,79.44 L89.10,78.58 L89.60,77.71 L90.10,76.86 L90.60,76.01 L91.10,75.17 L91.60,74.34 L92.10,73.52 L92.60,72.73 L93.10,71.95 L93.60,71.20 L94.10,70.47 L94.60,69.77 L95.10,69.11 L95.60,68.48 L96.10,67.88 L96.60,67.33 L97.10,66.81 L97.60,66.32 L98.10,65.87 L98.60,65.46 L99.10,65.08 L99.60,64.73 L100.10,64.42 L100.60,64.15 L101.10,63.90 L101.60,63.69 L102.10,63.52 L102.60,63.37 L103.10,63.26 L103.60,63.17 L104.10,63.12 L104.60,63.09 L105.10,63.10 L105.60,63.13 L106.10,63.19 L106.60,63.27 L107.10,63.39 L107.60,63.53 L108.10,63.70 L108.60,63.89 L109.10,64.11 L109.60,64.35 L110.10,64.62 L110.60,64.92 L111.10,65.24 L111.60,65.59 L112.10,65.97 L112.60,66.38 L113.10,66.82 L113.60,67.30 L114.10,67.80 L114.60,68.34 L115.10,68.89 L115.60,69.47 L116.10,70.06 L116.60,70.67 L117.10,71.28 L117.60,71.90 L118.10,72.51 L118.60,73.12 L119.10,73.73 L119.60,74.34 L120.10,74.98 L120.60,75.66 L121.10,76.40 L121.60,77.20 L122.10,78.08 L122.60,79.01 L123.10,79.97 L123.60,80.93 L124.10,81.87 L124.60,82.74 L125.10,83.55 L125.60,84.28 L126.10,84.95 L126.60,85.56 L127.10,86.11 L127.60,86.60 L128.10,87.04 L128.60,87.43 L129.10,87.76 L129.60,88.05 L130.10,88.29 L130.60,88.49 L131.10,88.64 L131.60,88.75 L132.10,88.81 L132.60,88.83 L133.10,88.82 L133.60,88.76 L134.10,88.66 L134.60,88.53 L135.10,88.35 L135.60,88.14 L136.10,87.89 L136.60,87.61 L137.10,87.28 L137.60,86.93 L138.10,86.52 L138.60,86.02 L139.10,85.39 L139.60,84.57 L140.10,83.53 L140.60,82.21 L141.10,80.61 L141.60,78.77 L142.10,76.76 L142.60,74.64 L143.10,72.46 L143.60,70.26 L144.10,68.06 L144.60,65.90 L145.10,63.81 L145.60,61.80 L146.10,59.87 L146.60,58.02 L147.10,56.24 L147.60,54.55 L148.10,52.93 L148.60,51.39 L149.10,49.93 L149.60,48.57 L150.10,47.29 L150.60,46.12 L151.10,45.04 L151.60,44.08 L152.10,43.22 L152.60,42.46 L153.10,41.80 L153.60,41.21 L154.10,40.70 L154.60,40.26 L155.10,39.87 L155.60,39.54 L156.10,39.26 L156.60,39.03 L157.10,38.85 L157.60,38.71 L158.10,38.62 L158.60,38.56 L159.10,38.53 L159.60,38.53 L160.10,38.55 L160.60,38.61 L161.10,38.72 L161.60,38.89 L162.10,39.14 L162.60,39.50 L163.10,39.97 L163.60,40.57 L164.10,41.31 L164.60,42.19 L165.10,43.19 L165.60,44.33 L166.10,45.57 L166.60,46.88 L167.10,48.21 L167.60,49.54 L168.10,50.84 L168.60,52.11 L169.10,53.37 L169.60,54.64 L170.10,55.93 L170.60,57.26 L171.10,58.62 L171.60,60.03 L172.10,61.48 L172.60,62.96 L173.10,64.44 L173.60,65.91 L174.10,67.34 L174.60,68.72 L175.10,70.04 L175.60,71.30 L176.10,72.52 L176.60,73.69 L177.10,74.81 L177.60,75.91 L178.10,76.97 L178.60,78.01 L179.10,79.02 L179.60,80.02 L180.10,81.01 L180.60,81.99 L181.10,82.97 L181.60,83.94 L182.10,84.92 L182.60,85.89 L183.10,86.86 L183.60,87.82 L184.10,88.77 L184.60,89.70 L185.10,90.62 L185.60,91.51 L186.10,92.37 L186.60,93.21 L187.10,94.03 L187.60,94.83 L188.10,95.61 L188.60,96.38 L189.10,97.15 L189.60,97.93 L190.10,98.73 L190.60,99.56 L191.10,100.41 L191.60,101.28 L192.10,102.18 L192.60,103.09 L193.10,104.02 L193.60,104.97 L194.10,105.93 L194.60,106.91 L195.10,107.90 L195.60,108.92 L196.10,109.96 L196.60,111.02 L197.10,112.12 L197.60,113.24 L198.10,114.41 L198.60,115.60 L199.10,116.79 L199.60,117.96 L200.10,119.07 L200.60,120.09 L201.10,120.99 L201.60,121.72 L202.10,122.27 L202.60,122.64 L203.10,122.83 L203.60,122.85 L204.10,122.70 L204.60,122.42 L205.10,122.01 L205.60,121.48 L206.10,120.85 L206.60,120.11 L207.10,119.26 L207.60,118.28 L208.10,117.17 L208.60,115.92 L209.10,114.58 L209.60,113.16 L210.10,111.71 L210.60,110.26 L211.10,108.83 L211.60,107.46 L212.10,106.17 L212.60,104.98 L213.10,103.90 L213.60,102.91 L214.10,102.02 L214.60,101.21 L215.10,100.49 L215.60,99.83 L216.10,99.24 L216.60,98.71 L217.10,98.22 L217.60,97.79 L218.10,97.42 L218.60,97.10 L219.10,96.84 L219.60,96.65 L220.10,96.53 L220.60,96.49 L221.10,96.53 L221.60,96.65 L222.10,96.84 L222.60,97.12 L223.10,97.48 L223.60,97.91 L224.10,98.43 L224.60,99.03 L225.10,99.71 L225.60,100.46 L226.10,101.27 L226.60,102.13 L227.10,103.02 L227.60,103.94 L228.10,104.87 L228.60,105.80 L229.10,106.72 L229.60,107.62 L230.10,108.50 L230.60,109.36 L231.10,110.20 L231.60,111.01 L232.10,111.81 L232.60,112.58 L233.10,113.33 L233.60,114.05 L234.10,114.75 L234.60,115.42 L235.10,116.07 L235.60,116.69 L236.10,117.29 L236.60,117.85 L237.10,118.39 L237.60,118.90 L238.10,119.37 L238.60,119.82 L239.10,120.23 L239.60,120.61 L240.10,120.96 L240.60,121.27 L241.10,121.54 L241.60,121.78 L242.10,121.99 L242.60,122.15 L243.10,122.29 L243.60,122.39 L244.10,122.45 L244.60,122.49 L245.10,122.49 L245.60,122.46 L246.10,122.40 L246.60,122.31 L247.10,122.18 L247.60,122.02 L248.10,121.80 L248.60,121.54 L249.10,121.22 L249.60,120.85 L250.10,120.43 L250.60,119.96 L251.10,119.44 L251.60,118.88 L252.10,118.27 L252.60,117.62 L253.10,116.93 L253.60,116.20 L254.10,115.43 L254.60,114.61 L255.10,113.76 L255.60,112.88 L256.10,111.99 L256.40,111.45" stroke="#FF0000" stroke-width="1.1" stroke-dasharray="1 1.1" fill="none" stroke-linejoin="round" clip-path="url(#cl1)" stroke-opacity="0.75"/>
<path d="M53.60,119.30 L54.10,118.85 L54.60,118.39 L55.10,117.94 L55.60,117.48 L56.10,117.03 L56.60,116.58 L57.10,116.13 L57.60,115.68 L58.10,115.24 L58.60,114.79 L59.10,114.35 L59.60,113.91 L60.10,113.47 L60.60,113.04 L61.10,112.61 L61.60,112.18 L62.10,111.75 L62.60,111.33 L63.10,110.90 L63.60,110.47 L64.10,110.04 L64.60,109.61 L65.10,109.17 L65.60,108.74 L66.10,108.29 L66.60,107.85 L67.10,107.39 L67.60,106.93 L68.10,106.46 L68.60,105.99 L69.10,105.51 L69.60,105.03 L70.10,104.54 L70.60,104.04 L71.10,103.53 L71.60,103.03 L72.10,102.51 L72.60,101.99 L73.10,101.47 L73.60,100.94 L74.10,100.40 L74.60,99.86 L75.10,99.31 L75.60,98.76 L76.10,98.19 L76.60,97.62 L77.10,97.03 L77.60,96.43 L78.10,95.81 L78.60,95.18 L79.10,94.53 L79.60,93.86 L80.10,93.18 L80.60,92.47 L81.10,91.75 L81.60,91.01 L82.10,90.25 L82.60,89.48 L83.10,88.70 L83.60,87.90 L84.10,87.09 L84.60,86.27 L85.10,85.44 L85.60,84.60 L86.10,83.75 L86.60,82.89 L87.10,82.03 L87.60,81.17 L88.10,80.30 L88.60,79.44 L89.10,78.58 L89.60,77.71 L90.10,76.86 L90.60,76.01 L91.10,75.17 L91.60,74.34 L92.10,73.52 L92.60,72.73 L93.10,71.95 L93.60,71.20 L94.10,70.47 L94.60,69.77 L95.10,69.11 L95.60,68.48 L96.10,67.88 L96.60,67.33 L97.10,66.81 L97.60,66.32 L98.10,65.87 L98.60,65.46 L99.10,65.08 L99.60,64.73 L100.10,64.42 L100.60,64.15 L101.10,63.90 L101.60,63.69 L102.10,63.52 L102.60,63.37 L103.10,63.26 L103.60,63.17 L104.10,63.12 L104.60,63.09 L105.10,63.10 L105.60,63.13 L106.10,63.19 L106.60,63.27 L107.10,63.39 L107.60,63.53 L108.10,63.70 L108.60,63.89 L109.10,64.11 L109.60,64.35 L110.10,64.62 L110.60,64.92 L111.10,65.24 L111.60,65.59 L112.10,65.97 L112.60,66.38 L113.10,66.82 L113.60,67.30 L114.10,67.80 L114.60,68.34 L115.10,68.89 L115.60,69.47 L116.10,70.06 L116.60,70.67 L117.10,71.28 L117.60,71.90 L118.10,72.51 L118.60,73.12 L119.10,73.73 L119.60,74.34 L120.10,74.98 L120.60,75.66 L121.10,76.40 L121.60,77.20 L122.10,78.08 L122.60,79.01 L123.10,79.97 L123.60,80.93 L124.10,81.87 L124.60,82.74 L125.10,83.55 L125.60,84.28 L126.10,84.95 L126.60,85.56 L127.10,86.11 L127.60,86.60 L128.10,87.04 L128.60,87.43 L129.10,87.76 L129.60,88.05 L130.10,88.29 L130.60,88.49 L131.10,88.64 L131.60,88.74 L132.10,88.81 L132.60,88.83 L133.10,88.82 L133.60,88.76 L134.10,88.66 L134.60,88.53 L135.10,88.36 L135.60,88.14 L136.10,87.89 L136.60,87.61 L137.10,87.28 L137.60,86.93 L138.10,86.52 L138.60,86.02 L139.10,85.38 L139.60,84.57 L140.10,83.53 L140.60,82.21 L141.10,80.61 L141.60,78.78 L142.10,76.77 L142.60,74.64 L143.10,72.45 L143.60,70.24 L144.10,68.04 L144.60,65.90 L145.10,63.85 L145.60,61.91 L146.10,60.09 L146.60,58.41 L147.10,56.88 L147.60,55.52 L148.10,54.33 L148.60,53.28 L149.10,52.38 L149.60,51.62 L150.10,50.97 L150.60,50.43 L151.10,50.00 L151.60,49.66 L152.10,49.41 L152.60,49.22 L153.10,49.11 L153.60,49.06 L154.10,49.07 L154.60,49.12 L155.10,49.22 L155.60,49.36 L156.10,49.55 L156.60,49.78 L157.10,50.03 L157.60,50.31 L158.10,50.60 L158.60,50.90 L159.10,51.19 L159.60,51.49 L160.10,51.80 L160.60,52.12 L161.10,52.46 L161.60,52.82 L162.10,53.22 L162.60,53.66 L163.10,54.13 L163.60,54.63 L164.10,55.17 L164.60,55.75 L165.10,56.35 L165.60,56.97 L166.10,57.60 L166.60,58.24 L167.10,58.88 L167.60,59.51 L168.10,60.14 L168.60,60.78 L169.10,61.42 L169.60,62.06 L170.10,62.69 L170.60,63.32 L171.10,63.92 L171.60,64.50 L172.10,65.03 L172.60,65.53 L173.10,66.01 L173.60,66.46 L174.10,66.89 L174.60,67.31 L175.10,67.72 L175.60,68.14 L176.10,68.58 L176.60,69.04 L177.10,69.54 L177.60,70.08 L178.10,70.65 L178.60,71.25 L179.10,71.89 L179.60,72.57 L180.10,73.27 L180.60,74.02 L181.10,74.79 L181.60,75.59 L182.10,76.42 L182.60,77.27 L183.10,78.12 L183.60,78.97 L184.10,79.83 L184.60,80.67 L185.10,81.49 L185.60,82.30 L186.10,83.08 L186.60,83.84 L187.10,84.58 L187.60,85.30 L188.10,86.01 L188.60,86.71 L189.10,87.41 L189.60,88.10 L190.10,88.82 L190.60,89.55 L191.10,90.32 L191.60,91.12 L192.10,91.96 L192.60,92.85 L193.10,93.79 L193.60,94.79 L194.10,95.85 L194.60,96.97 L195.10,98.13 L195.60,99.30 L196.10,100.47 L196.60,101.61 L197.10,102.71 L197.60,103.77 L198.10,104.77 L198.60,105.73 L199.10,106.63 L199.60,107.47 L200.10,108.25 L200.60,108.95 L201.10,109.57 L201.60,110.08 L202.10,110.46 L202.60,110.70 L203.10,110.78 L203.60,110.69 L204.10,110.47 L204.60,110.12 L205.10,109.65 L205.60,109.10 L206.10,108.45 L206.60,107.72 L207.10,106.90 L207.60,105.99 L208.10,105.00 L208.60,103.95 L209.10,102.85 L209.60,101.73 L210.10,100.62 L210.60,99.55 L211.10,98.54 L211.60,97.61 L212.10,96.77 L212.60,96.04 L213.10,95.40 L213.60,94.85 L214.10,94.41 L214.60,94.05 L215.10,93.79 L215.60,93.61 L216.10,93.51 L216.60,93.50 L217.10,93.55 L217.60,93.67 L218.10,93.84 L218.60,94.05 L219.10,94.29 L219.60,94.56 L220.10,94.86 L220.60,95.16 L221.10,95.48 L221.60,95.81 L222.10,96.15 L222.60,96.51 L223.10,96.87 L223.60,97.25 L224.10,97.64 L224.60,98.05 L225.10,98.47 L225.60,98.91 L226.10,99.37 L226.60,99.85 L227.10,100.34 L227.60,100.85 L228.10,101.37 L228.60,101.90 L229.10,102.44 L229.60,102.99 L230.10,103.53 L230.60,104.08 L231.10,104.62 L231.60,105.17 L232.10,105.70 L232.60,106.24 L233.10,106.77 L233.60,107.29 L234.10,107.80 L234.60,108.30 L235.10,108.79 L235.60,109.26 L236.10,109.72 L236.60,110.17 L237.10,110.59 L237.60,111.00 L238.10,111.39 L238.60,111.76 L239.10,112.11 L239.60,112.44 L240.10,112.73 L240.60,113.00 L241.10,113.25 L241.60,113.46 L242.10,113.64 L242.60,113.78 L243.10,113.89 L243.60,113.97 L244.10,114.00 L244.60,114.00 L245.10,113.97 L245.60,113.90 L246.10,113.80 L246.60,113.66 L247.10,113.48 L247.60,113.26 L248.10,113.00 L248.60,112.68 L249.10,112.32 L249.60,111.91 L250.10,111.45 L250.60,110.96 L251.10,110.43 L251.60,109.86 L252.10,109.27 L252.60,108.67 L253.10,108.05 L253.60,107.43 L254.10,106.80 L254.60,106.18 L255.10,105.56 L255.60,104.94 L256.10,104.32 L256.40,103.95" stroke="#FF0000" stroke-width="1.6" stroke-dasharray="4.6 3.2" fill="none" stroke-linejoin="round" clip-path="url(#cl1)"/>
<path d="M53.60,119.30 L54.10,118.85 L54.60,118.39 L55.10,117.94 L55.60,117.48 L56.10,117.03 L56.60,116.58 L57.10,116.13 L57.60,115.68 L58.10,115.24 L58.60,114.79 L59.10,114.35 L59.60,113.91 L60.10,113.47 L60.60,113.04 L61.10,112.61 L61.60,112.18 L62.10,111.75 L62.60,111.33 L63.10,110.90 L63.60,110.47 L64.10,110.04 L64.60,109.61 L65.10,109.17 L65.60,108.74 L66.10,108.29 L66.60,107.85 L67.10,107.39 L67.60,106.93 L68.10,106.46 L68.60,105.99 L69.10,105.51 L69.60,105.03 L70.10,104.54 L70.60,104.04 L71.10,103.53 L71.60,103.03 L72.10,102.51 L72.60,101.99 L73.10,101.47 L73.60,100.94 L74.10,100.40 L74.60,99.86 L75.10,99.31 L75.60,98.76 L76.10,98.19 L76.60,97.62 L77.10,97.03 L77.60,96.43 L78.10,95.81 L78.60,95.18 L79.10,94.53 L79.60,93.86 L80.10,93.18 L80.60,92.47 L81.10,91.75 L81.60,91.01 L82.10,90.25 L82.60,89.48 L83.10,88.70 L83.60,87.90 L84.10,87.09 L84.60,86.27 L85.10,85.44 L85.60,84.60 L86.10,83.75 L86.60,82.89 L87.10,82.03 L87.60,81.17 L88.10,80.30 L88.60,79.44 L89.10,78.58 L89.60,77.71 L90.10,76.86 L90.60,76.01 L91.10,75.17 L91.60,74.34 L92.10,73.52 L92.60,72.73 L93.10,71.95 L93.60,71.20 L94.10,70.47 L94.60,69.77 L95.10,69.11 L95.60,68.48 L96.10,67.88 L96.60,67.33 L97.10,66.81 L97.60,66.32 L98.10,65.87 L98.60,65.46 L99.10,65.08 L99.60,64.73 L100.10,64.42 L100.60,64.15 L101.10,63.90 L101.60,63.69 L102.10,63.52 L102.60,63.37 L103.10,63.26 L103.60,63.17 L104.10,63.12 L104.60,63.09 L105.10,63.10 L105.60,63.13 L106.10,63.19 L106.60,63.27 L107.10,63.39 L107.60,63.53 L108.10,63.70 L108.60,63.89 L109.10,64.11 L109.60,64.35 L110.10,64.62 L110.60,64.92 L111.10,65.24 L111.60,65.59 L112.10,65.97 L112.60,66.38 L113.10,66.82 L113.60,67.30 L114.10,67.80 L114.60,68.34 L115.10,68.89 L115.60,69.47 L116.10,70.06 L116.60,70.67 L117.10,71.28 L117.60,71.90 L118.10,72.51 L118.60,73.12 L119.10,73.73 L119.60,74.34 L120.10,74.98 L120.60,75.66 L121.10,76.40 L121.60,77.20 L122.10,78.08 L122.60,79.01 L123.10,79.97 L123.60,80.93 L124.10,81.87 L124.60,82.74 L125.10,83.55 L125.60,84.28 L126.10,84.95 L126.60,85.56 L127.10,86.11 L127.60,86.60 L128.10,87.04 L128.60,87.43 L129.10,87.76 L129.60,88.05 L130.10,88.29 L130.60,88.49 L131.10,88.64 L131.60,88.75 L132.10,88.81 L132.60,88.83 L133.10,88.82 L133.60,88.76 L134.10,88.66 L134.60,88.53 L135.10,88.35 L135.60,88.14 L136.10,87.89 L136.60,87.61 L137.10,87.28 L137.60,86.93 L138.10,86.52 L138.60,86.02 L139.10,85.39 L139.60,84.57 L140.10,83.53 L140.60,82.21 L141.10,80.61 L141.60,78.77 L142.10,76.76 L142.60,74.64 L143.10,72.46 L143.60,70.25 L144.10,68.05 L144.60,65.90 L145.10,63.82 L145.60,61.82 L146.10,59.88 L146.60,58.02 L147.10,56.21 L147.60,54.45 L148.10,52.76 L148.60,51.13 L149.10,49.58 L149.60,48.11 L150.10,46.73 L150.60,45.45 L151.10,44.27 L151.60,43.20 L152.10,42.23 L152.60,41.35 L153.10,40.57 L153.60,39.87 L154.10,39.25 L154.60,38.71 L155.10,38.25 L155.60,37.85 L156.10,37.52 L156.60,37.24 L157.10,37.02 L157.60,36.85 L158.10,36.72 L158.60,36.62 L159.10,36.55 L159.60,36.50 L160.10,36.47 L160.60,36.47 L161.10,36.53 L161.60,36.66 L162.10,36.89 L162.60,37.23 L163.10,37.71 L163.60,38.33 L164.10,39.10 L164.60,40.02 L165.10,41.06 L165.60,42.25 L166.10,43.55 L166.60,44.94 L167.10,46.36 L167.60,47.78 L168.10,49.17 L168.60,50.55 L169.10,51.91 L169.60,53.29 L170.10,54.68 L170.60,56.11 L171.10,57.58 L171.60,59.12 L172.10,60.72 L172.60,62.36 L173.10,64.01 L173.60,65.66 L174.10,67.27 L174.60,68.83 L175.10,70.33 L175.60,71.77 L176.10,73.16 L176.60,74.49 L177.10,75.78 L177.60,77.02 L178.10,78.22 L178.60,79.38 L179.10,80.50 L179.60,81.59 L180.10,82.65 L180.60,83.69 L181.10,84.69 L181.60,85.68 L182.10,86.65 L182.60,87.60 L183.10,88.54 L183.60,89.46 L184.10,90.38 L184.60,91.29 L185.10,92.20 L185.60,93.09 L186.10,93.97 L186.60,94.83 L187.10,95.68 L187.60,96.51 L188.10,97.32 L188.60,98.11 L189.10,98.89 L189.60,99.67 L190.10,100.46 L190.60,101.25 L191.10,102.06 L191.60,102.89 L192.10,103.73 L192.60,104.58 L193.10,105.46 L193.60,106.36 L194.10,107.28 L194.60,108.22 L195.10,109.19 L195.60,110.19 L196.10,111.21 L196.60,112.28 L197.10,113.39 L197.60,114.54 L198.10,115.75 L198.60,116.99 L199.10,118.26 L199.60,119.49 L200.10,120.66 L200.60,121.74 L201.10,122.67 L201.60,123.44 L202.10,124.00 L202.60,124.38 L203.10,124.58 L203.60,124.61 L204.10,124.49 L204.60,124.23 L205.10,123.87 L205.60,123.40 L206.10,122.85 L206.60,122.20 L207.10,121.43 L207.60,120.53 L208.10,119.48 L208.60,118.28 L209.10,116.96 L209.60,115.54 L210.10,114.07 L210.60,112.58 L211.10,111.09 L211.60,109.64 L212.10,108.26 L212.60,106.99 L213.10,105.81 L213.60,104.74 L214.10,103.75 L214.60,102.84 L215.10,102.01 L215.60,101.24 L216.10,100.53 L216.60,99.87 L217.10,99.26 L217.60,98.70 L218.10,98.19 L218.60,97.75 L219.10,97.39 L219.60,97.10 L220.10,96.90 L220.60,96.79 L221.10,96.77 L221.60,96.85 L222.10,97.03 L222.60,97.29 L223.10,97.65 L223.60,98.10 L224.10,98.64 L224.60,99.26 L225.10,99.96 L225.60,100.74 L226.10,101.57 L226.60,102.45 L227.10,103.37 L227.60,104.31 L228.10,105.27 L228.60,106.24 L229.10,107.19 L229.60,108.13 L230.10,109.05 L230.60,109.95 L231.10,110.83 L231.60,111.69 L232.10,112.52 L232.60,113.33 L233.10,114.12 L233.60,114.87 L234.10,115.60 L234.60,116.30 L235.10,116.97 L235.60,117.60 L236.10,118.20 L236.60,118.77 L237.10,119.31 L237.60,119.80 L238.10,120.27 L238.60,120.69 L239.10,121.08 L239.60,121.43 L240.10,121.75 L240.60,122.02 L241.10,122.26 L241.60,122.46 L242.10,122.63 L242.60,122.77 L243.10,122.87 L243.60,122.94 L244.10,122.99 L244.60,123.00 L245.10,122.99 L245.60,122.95 L246.10,122.88 L246.60,122.77 L247.10,122.64 L247.60,122.47 L248.10,122.27 L248.60,122.03 L249.10,121.75 L249.60,121.43 L250.10,121.07 L250.60,120.67 L251.10,120.22 L251.60,119.73 L252.10,119.19 L252.60,118.60 L253.10,117.95 L253.60,117.25 L254.10,116.50 L254.60,115.69 L255.10,114.84 L255.60,113.95 L256.10,113.05 L256.40,112.50" stroke="#78BE3C" stroke-width="1.1" stroke-dasharray="1 1.1" fill="none" stroke-linejoin="round" clip-path="url(#cl1)" stroke-opacity="0.75"/>
<path d="M53.60,119.30 L54.10,118.85 L54.60,118.39 L55.10,117.94 L55.60,117.48 L56.10,117.03 L56.60,116.58 L57.10,116.13 L57.60,115.68 L58.10,115.24 L58.60,114.79 L59.10,114.35 L59.60,113.91 L60.10,113.47 L60.60,113.04 L61.10,112.61 L61.60,112.18 L62.10,111.75 L62.60,111.33 L63.10,110.90 L63.60,110.47 L64.10,110.04 L64.60,109.61 L65.10,109.17 L65.60,108.74 L66.10,108.29 L66.60,107.85 L67.10,107.39 L67.60,106.93 L68.10,106.46 L68.60,105.99 L69.10,105.51 L69.60,105.03 L70.10,104.54 L70.60,104.04 L71.10,103.53 L71.60,103.03 L72.10,102.51 L72.60,101.99 L73.10,101.47 L73.60,100.94 L74.10,100.40 L74.60,99.86 L75.10,99.31 L75.60,98.76 L76.10,98.19 L76.60,97.62 L77.10,97.03 L77.60,96.43 L78.10,95.81 L78.60,95.18 L79.10,94.53 L79.60,93.86 L80.10,93.18 L80.60,92.47 L81.10,91.75 L81.60,91.01 L82.10,90.25 L82.60,89.48 L83.10,88.70 L83.60,87.90 L84.10,87.09 L84.60,86.27 L85.10,85.44 L85.60,84.60 L86.10,83.75 L86.60,82.89 L87.10,82.03 L87.60,81.17 L88.10,80.30 L88.60,79.44 L89.10,78.58 L89.60,77.71 L90.10,76.86 L90.60,76.01 L91.10,75.17 L91.60,74.34 L92.10,73.52 L92.60,72.73 L93.10,71.95 L93.60,71.20 L94.10,70.47 L94.60,69.77 L95.10,69.11 L95.60,68.48 L96.10,67.88 L96.60,67.33 L97.10,66.81 L97.60,66.32 L98.10,65.87 L98.60,65.46 L99.10,65.08 L99.60,64.73 L100.10,64.42 L100.60,64.15 L101.10,63.90 L101.60,63.69 L102.10,63.52 L102.60,63.37 L103.10,63.26 L103.60,63.17 L104.10,63.12 L104.60,63.09 L105.10,63.10 L105.60,63.13 L106.10,63.19 L106.60,63.27 L107.10,63.39 L107.60,63.53 L108.10,63.70 L108.60,63.89 L109.10,64.11 L109.60,64.35 L110.10,64.62 L110.60,64.92 L111.10,65.24 L111.60,65.59 L112.10,65.97 L112.60,66.38 L113.10,66.82 L113.60,67.30 L114.10,67.80 L114.60,68.34 L115.10,68.89 L115.60,69.47 L116.10,70.06 L116.60,70.67 L117.10,71.28 L117.60,71.90 L118.10,72.51 L118.60,73.12 L119.10,73.73 L119.60,74.34 L120.10,74.98 L120.60,75.66 L121.10,76.40 L121.60,77.20 L122.10,78.08 L122.60,79.01 L123.10,79.97 L123.60,80.93 L124.10,81.87 L124.60,82.74 L125.10,83.55 L125.60,84.28 L126.10,84.95 L126.60,85.56 L127.10,86.11 L127.60,86.60 L128.10,87.04 L128.60,87.43 L129.10,87.76 L129.60,88.05 L130.10,88.29 L130.60,88.49 L131.10,88.64 L131.60,88.75 L132.10,88.81 L132.60,88.83 L133.10,88.82 L133.60,88.76 L134.10,88.66 L134.60,88.53 L135.10,88.35 L135.60,88.14 L136.10,87.89 L136.60,87.61 L137.10,87.28 L137.60,86.93 L138.10,86.52 L138.60,86.02 L139.10,85.39 L139.60,84.57 L140.10,83.53 L140.60,82.21 L141.10,80.61 L141.60,78.77 L142.10,76.76 L142.60,74.64 L143.10,72.46 L143.60,70.25 L144.10,68.05 L144.60,65.90 L145.10,63.82 L145.60,61.82 L146.10,59.88 L146.60,58.02 L147.10,56.21 L147.60,54.45 L148.10,52.76 L148.60,51.13 L149.10,49.58 L149.60,48.11 L150.10,46.73 L150.60,45.45 L151.10,44.27 L151.60,43.20 L152.10,42.23 L152.60,41.35 L153.10,40.57 L153.60,39.87 L154.10,39.25 L154.60,38.71 L155.10,38.25 L155.60,37.85 L156.10,37.52 L156.60,37.24 L157.10,37.02 L157.60,36.85 L158.10,36.72 L158.60,36.62 L159.10,36.55 L159.60,36.50 L160.10,36.47 L160.60,36.47 L161.10,36.53 L161.60,36.66 L162.10,36.89 L162.60,37.23 L163.10,37.71 L163.60,38.33 L164.10,39.10 L164.60,40.02 L165.10,41.06 L165.60,42.25 L166.10,43.55 L166.60,44.94 L167.10,46.36 L167.60,47.78 L168.10,49.17 L168.60,50.55 L169.10,51.91 L169.60,53.29 L170.10,54.68 L170.60,56.11 L171.10,57.58 L171.60,59.12 L172.10,60.72 L172.60,62.36 L173.10,64.01 L173.60,65.66 L174.10,67.27 L174.60,68.83 L175.10,70.33 L175.60,71.77 L176.10,73.16 L176.60,74.49 L177.10,75.78 L177.60,77.02 L178.10,78.22 L178.60,79.38 L179.10,80.50 L179.60,81.59 L180.10,82.65 L180.60,83.69 L181.10,84.69 L181.60,85.68 L182.10,86.65 L182.60,87.60 L183.10,88.54 L183.60,89.46 L184.10,90.38 L184.60,91.29 L185.10,92.20 L185.60,93.09 L186.10,93.97 L186.60,94.83 L187.10,95.68 L187.60,96.51 L188.10,97.32 L188.60,98.11 L189.10,98.89 L189.60,99.67 L190.10,100.46 L190.60,101.25 L191.10,102.06 L191.60,102.89 L192.10,103.73 L192.60,104.58 L193.10,105.46 L193.60,106.36 L194.10,107.28 L194.60,108.22 L195.10,109.19 L195.60,110.19 L196.10,111.21 L196.60,112.28 L197.10,113.39 L197.60,114.54 L198.10,115.75 L198.60,116.99 L199.10,118.26 L199.60,119.49 L200.10,120.66 L200.60,121.74 L201.10,122.67 L201.60,123.44 L202.10,124.00 L202.60,124.38 L203.10,124.58 L203.60,124.61 L204.10,124.49 L204.60,124.23 L205.10,123.87 L205.60,123.40 L206.10,122.85 L206.60,122.20 L207.10,121.43 L207.60,120.53 L208.10,119.48 L208.60,118.28 L209.10,116.96 L209.60,115.54 L210.10,114.07 L210.60,112.58 L211.10,111.09 L211.60,109.64 L212.10,108.26 L212.60,106.99 L213.10,105.81 L213.60,104.74 L214.10,103.75 L214.60,102.84 L215.10,102.01 L215.60,101.24 L216.10,100.53 L216.60,99.87 L217.10,99.26 L217.60,98.70 L218.10,98.19 L218.60,97.75 L219.10,97.39 L219.60,97.10 L220.10,96.90 L220.60,96.79 L221.10,96.77 L221.60,96.85 L222.10,97.03 L222.60,97.29 L223.10,97.65 L223.60,98.10 L224.10,98.64 L224.60,99.26 L225.10,99.96 L225.60,100.74 L226.10,101.57 L226.60,102.45 L227.10,103.37 L227.60,104.31 L228.10,105.27 L228.60,106.24 L229.10,107.19 L229.60,108.13 L230.10,109.05 L230.60,109.95 L231.10,110.83 L231.60,111.69 L232.10,112.52 L232.60,113.33 L233.10,114.12 L233.60,114.87 L234.10,115.60 L234.60,116.30 L235.10,116.97 L235.60,117.60 L236.10,118.20 L236.60,118.77 L237.10,119.31 L237.60,119.80 L238.10,120.27 L238.60,120.69 L239.10,121.08 L239.60,121.43 L240.10,121.75 L240.60,122.02 L241.10,122.26 L241.60,122.46 L242.10,122.63 L242.60,122.77 L243.10,122.87 L243.60,122.94 L244.10,122.99 L244.60,123.00 L245.10,122.99 L245.60,122.95 L246.10,122.88 L246.60,122.77 L247.10,122.64 L247.60,122.47 L248.10,122.27 L248.60,122.03 L249.10,121.75 L249.60,121.43 L250.10,121.07 L250.60,120.67 L251.10,120.22 L251.60,119.73 L252.10,119.19 L252.60,118.60 L253.10,117.95 L253.60,117.25 L254.10,116.50 L254.60,115.69 L255.10,114.84 L255.60,113.95 L256.10,113.05 L256.40,112.50" stroke="#78BE3C" stroke-width="1.1" stroke-dasharray="1 1.1" fill="none" stroke-linejoin="round" clip-path="url(#sh1)" stroke-opacity="1.0"/>
<path d="M53.60,119.30 L54.10,118.85 L54.60,118.39 L55.10,117.94 L55.60,117.48 L56.10,117.03 L56.60,116.58 L57.10,116.13 L57.60,115.68 L58.10,115.24 L58.60,114.79 L59.10,114.35 L59.60,113.91 L60.10,113.47 L60.60,113.04 L61.10,112.61 L61.60,112.18 L62.10,111.75 L62.60,111.33 L63.10,110.90 L63.60,110.47 L64.10,110.04 L64.60,109.61 L65.10,109.17 L65.60,108.74 L66.10,108.29 L66.60,107.85 L67.10,107.39 L67.60,106.93 L68.10,106.46 L68.60,105.99 L69.10,105.51 L69.60,105.03 L70.10,104.54 L70.60,104.04 L71.10,103.53 L71.60,103.03 L72.10,102.51 L72.60,101.99 L73.10,101.47 L73.60,100.94 L74.10,100.40 L74.60,99.86 L75.10,99.31 L75.60,98.76 L76.10,98.19 L76.60,97.62 L77.10,97.03 L77.60,96.43 L78.10,95.81 L78.60,95.18 L79.10,94.53 L79.60,93.86 L80.10,93.18 L80.60,92.47 L81.10,91.75 L81.60,91.01 L82.10,90.25 L82.60,89.48 L83.10,88.70 L83.60,87.90 L84.10,87.09 L84.60,86.27 L85.10,85.44 L85.60,84.60 L86.10,83.75 L86.60,82.89 L87.10,82.03 L87.60,81.17 L88.10,80.30 L88.60,79.44 L89.10,78.58 L89.60,77.71 L90.10,76.86 L90.60,76.01 L91.10,75.17 L91.60,74.34 L92.10,73.52 L92.60,72.73 L93.10,71.95 L93.60,71.20 L94.10,70.47 L94.60,69.77 L95.10,69.11 L95.60,68.48 L96.10,67.88 L96.60,67.33 L97.10,66.81 L97.60,66.32 L98.10,65.87 L98.60,65.46 L99.10,65.08 L99.60,64.73 L100.10,64.42 L100.60,64.15 L101.10,63.90 L101.60,63.69 L102.10,63.52 L102.60,63.37 L103.10,63.26 L103.60,63.17 L104.10,63.12 L104.60,63.09 L105.10,63.10 L105.60,63.13 L106.10,63.19 L106.60,63.27 L107.10,63.39 L107.60,63.53 L108.10,63.70 L108.60,63.89 L109.10,64.11 L109.60,64.35 L110.10,64.62 L110.60,64.92 L111.10,65.24 L111.60,65.59 L112.10,65.97 L112.60,66.38 L113.10,66.82 L113.60,67.30 L114.10,67.80 L114.60,68.34 L115.10,68.89 L115.60,69.47 L116.10,70.06 L116.60,70.67 L117.10,71.28 L117.60,71.90 L118.10,72.51 L118.60,73.12 L119.10,73.73 L119.60,74.34 L120.10,74.98 L120.60,75.66 L121.10,76.40 L121.60,77.20 L122.10,78.08 L122.60,79.01 L123.10,79.97 L123.60,80.93 L124.10,81.87 L124.60,82.74 L125.10,83.55 L125.60,84.28 L126.10,84.95 L126.60,85.56 L127.10,86.11 L127.60,86.60 L128.10,87.04 L128.60,87.43 L129.10,87.76 L129.60,88.05 L130.10,88.29 L130.60,88.49 L131.10,88.64 L131.60,88.74 L132.10,88.81 L132.60,88.83 L133.10,88.82 L133.60,88.76 L134.10,88.66 L134.60,88.53 L135.10,88.36 L135.60,88.14 L136.10,87.89 L136.60,87.61 L137.10,87.28 L137.60,86.93 L138.10,86.52 L138.60,86.02 L139.10,85.38 L139.60,84.57 L140.10,83.53 L140.60,82.21 L141.10,80.61 L141.60,78.78 L142.10,76.77 L142.60,74.64 L143.10,72.44 L143.60,70.23 L144.10,68.03 L144.60,65.90 L145.10,63.87 L145.60,61.96 L146.10,60.17 L146.60,58.54 L147.10,57.06 L147.60,55.75 L148.10,54.62 L148.60,53.66 L149.10,52.85 L149.60,52.18 L150.10,51.64 L150.60,51.21 L151.10,50.88 L151.60,50.64 L152.10,50.47 L152.60,50.36 L153.10,50.32 L153.60,50.33 L154.10,50.40 L154.60,50.53 L155.10,50.71 L155.60,50.95 L156.10,51.24 L156.60,51.57 L157.10,51.93 L157.60,52.31 L158.10,52.70 L158.60,53.07 L159.10,53.43 L159.60,53.78 L160.10,54.12 L160.60,54.48 L161.10,54.84 L161.60,55.24 L162.10,55.66 L162.60,56.11 L163.10,56.59 L163.60,57.08 L164.10,57.59 L164.60,58.10 L165.10,58.60 L165.60,59.10 L166.10,59.59 L166.60,60.08 L167.10,60.58 L167.60,61.08 L168.10,61.59 L168.60,62.10 L169.10,62.64 L169.60,63.17 L170.10,63.69 L170.60,64.19 L171.10,64.66 L171.60,65.08 L172.10,65.46 L172.60,65.79 L173.10,66.10 L173.60,66.39 L174.10,66.67 L174.60,66.95 L175.10,67.24 L175.60,67.56 L176.10,67.91 L176.60,68.30 L177.10,68.75 L177.60,69.24 L178.10,69.79 L178.60,70.37 L179.10,70.99 L179.60,71.65 L180.10,72.34 L180.60,73.06 L181.10,73.79 L181.60,74.55 L182.10,75.32 L182.60,76.10 L183.10,76.88 L183.60,77.67 L184.10,78.46 L184.60,79.25 L185.10,80.03 L185.60,80.81 L186.10,81.57 L186.60,82.33 L187.10,83.08 L187.60,83.81 L188.10,84.53 L188.60,85.23 L189.10,85.91 L189.60,86.57 L190.10,87.24 L190.60,87.91 L191.10,88.61 L191.60,89.33 L192.10,90.10 L192.60,90.93 L193.10,91.82 L193.60,92.79 L194.10,93.84 L194.60,94.98 L195.10,96.16 L195.60,97.36 L196.10,98.56 L196.60,99.73 L197.10,100.84 L197.60,101.90 L198.10,102.90 L198.60,103.83 L199.10,104.70 L199.60,105.50 L200.10,106.23 L200.60,106.88 L201.10,107.45 L201.60,107.91 L202.10,108.26 L202.60,108.46 L203.10,108.51 L203.60,108.41 L204.10,108.17 L204.60,107.83 L205.10,107.40 L205.60,106.89 L206.10,106.31 L206.60,105.67 L207.10,104.94 L207.60,104.14 L208.10,103.26 L208.60,102.31 L209.10,101.32 L209.60,100.30 L210.10,99.29 L210.60,98.30 L211.10,97.36 L211.60,96.50 L212.10,95.73 L212.60,95.06 L213.10,94.48 L213.60,94.00 L214.10,93.60 L214.60,93.30 L215.10,93.08 L215.60,92.95 L216.10,92.90 L216.60,92.93 L217.10,93.03 L217.60,93.20 L218.10,93.42 L218.60,93.68 L219.10,93.98 L219.60,94.31 L220.10,94.66 L220.60,95.01 L221.10,95.37 L221.60,95.74 L222.10,96.11 L222.60,96.47 L223.10,96.84 L223.60,97.21 L224.10,97.58 L224.60,97.95 L225.10,98.31 L225.60,98.68 L226.10,99.04 L226.60,99.42 L227.10,99.80 L227.60,100.20 L228.10,100.62 L228.60,101.05 L229.10,101.49 L229.60,101.95 L230.10,102.43 L230.60,102.91 L231.10,103.40 L231.60,103.89 L232.10,104.39 L232.60,104.88 L233.10,105.37 L233.60,105.86 L234.10,106.33 L234.60,106.80 L235.10,107.25 L235.60,107.69 L236.10,108.12 L236.60,108.52 L237.10,108.91 L237.60,109.28 L238.10,109.63 L238.60,109.95 L239.10,110.25 L239.60,110.53 L240.10,110.78 L240.60,111.01 L241.10,111.20 L241.60,111.37 L242.10,111.50 L242.60,111.60 L243.10,111.67 L243.60,111.71 L244.10,111.72 L244.60,111.69 L245.10,111.63 L245.60,111.53 L246.10,111.40 L246.60,111.24 L247.10,111.04 L247.60,110.80 L248.10,110.53 L248.60,110.22 L249.10,109.88 L249.60,109.51 L250.10,109.11 L250.60,108.67 L251.10,108.20 L251.60,107.71 L252.10,107.19 L252.60,106.65 L253.10,106.11 L253.60,105.55 L254.10,105.00 L254.60,104.45 L255.10,103.91 L255.60,103.36 L256.10,102.82 L256.40,102.50" stroke="#78BE3C" stroke-width="1.6" stroke-dasharray="4.6 3.2" fill="none" stroke-linejoin="round"/>
<line x1="316" y1="8.6" x2="334.9" y2="8.6" stroke="#2a7fcf" stroke-width="1.53"/>
<text x="336.6" y="10.87" font-size="6.3" textLength="27.7" lengthAdjust="spacingAndGlyphs" fill="#707070">U=0.0 m/s</text>
<line x1="368" y1="8.6" x2="386.8" y2="8.6" stroke="#ED7D31" stroke-width="1.19" stroke-dasharray="1 0.9" stroke-opacity="0.6"/>
<text x="389" y="10.87" font-size="6.3" textLength="27.7" lengthAdjust="spacingAndGlyphs" fill="#707070">U=0.1 m/s</text>
<line x1="420.1" y1="8.6" x2="439.7" y2="8.6" stroke="#ED7D31" stroke-width="1.44" stroke-dasharray="4.6 3.2"/>
<text x="441.9" y="10.87" font-size="6.3" textLength="29.4" lengthAdjust="spacingAndGlyphs" fill="#707070">U=-0.1 m/s</text>
<line x1="472.3" y1="8.6" x2="491.3" y2="8.6" stroke="#FF0000" stroke-width="1.19" stroke-dasharray="1 0.9" stroke-opacity="0.6"/>
<text x="494" y="10.87" font-size="6.3" textLength="27.7" lengthAdjust="spacingAndGlyphs" fill="#707070">U=0.2 m/s</text>
<line x1="316" y1="21.1" x2="334.9" y2="21.1" stroke="#FF0000" stroke-width="1.44" stroke-dasharray="4.6 3.2"/>
<text x="336.6" y="23.37" font-size="6.3" textLength="29.4" lengthAdjust="spacingAndGlyphs" fill="#707070">U=-0.2 m/s</text>
<line x1="369" y1="21.1" x2="387.2" y2="21.1" stroke="#78BE3C" stroke-width="1.19" stroke-dasharray="1 0.9" stroke-opacity="0.6"/>
<text x="389" y="23.37" font-size="6.3" textLength="27.7" lengthAdjust="spacingAndGlyphs" fill="#707070">U=0.3 m/s</text>
<line x1="420.1" y1="21.1" x2="439.7" y2="21.1" stroke="#78BE3C" stroke-width="1.44" stroke-dasharray="4.6 3.2"/>
<text x="441.9" y="23.37" font-size="6.3" textLength="29.4" lengthAdjust="spacingAndGlyphs" fill="#707070">U=-0.3 m/s</text>
<line x1="333.4" y1="34.4" x2="333.4" y2="122.4" stroke="#d9d9d9" stroke-width="1"/>
<line x1="333.4" y1="122.4" x2="540.4" y2="122.4" stroke="#d9d9d9" stroke-width="1"/>
<text x="308.10" y="35.89" font-size="6.0" textLength="20.4" lengthAdjust="spacingAndGlyphs" fill="#1a1a1a" class="yt">4 × 10<tspan font-size="3.66" dy="-2.34">6</tspan></text>
<text x="308.10" y="57.89" font-size="6.0" textLength="20.4" lengthAdjust="spacingAndGlyphs" fill="#1a1a1a" class="yt">3 × 10<tspan font-size="3.66" dy="-2.34">6</tspan></text>
<text x="308.10" y="79.89" font-size="6.0" textLength="20.4" lengthAdjust="spacingAndGlyphs" fill="#1a1a1a" class="yt">2 × 10<tspan font-size="3.66" dy="-2.34">6</tspan></text>
<text x="308.10" y="101.89" font-size="6.0" textLength="20.4" lengthAdjust="spacingAndGlyphs" fill="#1a1a1a" class="yt">1 × 10<tspan font-size="3.66" dy="-2.34">6</tspan></text>
<text x="327.00" y="123.89" font-size="6.0" text-anchor="end" fill="#1a1a1a" class="yt">0</text>
<text x="327.50" y="133.00" font-size="6.6" textLength="11.8" lengthAdjust="spacingAndGlyphs" fill="#7f7f7f">0.00</text>
<text x="379.25" y="133.00" font-size="6.6" textLength="11.8" lengthAdjust="spacingAndGlyphs" fill="#7f7f7f">0.50</text>
<text x="431.00" y="133.00" font-size="6.6" textLength="11.8" lengthAdjust="spacingAndGlyphs" fill="#7f7f7f">1.00</text>
<text x="482.75" y="133.00" font-size="6.6" textLength="11.8" lengthAdjust="spacingAndGlyphs" fill="#7f7f7f">1.50</text>
<text x="534.50" y="133.00" font-size="6.6" textLength="11.8" lengthAdjust="spacingAndGlyphs" fill="#7f7f7f">2.00</text>
<text x="422.55" y="144.80" font-size="6.3" textLength="26.7" lengthAdjust="spacingAndGlyphs" fill="#707070">ω [rad/s]</text>
<text transform="translate(297.1,78.5) rotate(-90)" x="-21.60" y="2.2" font-size="6.4" textLength="43.2" lengthAdjust="spacingAndGlyphs" fill="#707070">Fz/(H/2) [N/m]</text>
<clipPath id="cl2"><rect x="388" y="0" width="600" height="400"/></clipPath>
<clipPath id="sh2"><rect x="0" y="0" width="388" height="400"/></clipPath>
<path d="M343.30,45.00 L343.80,45.77 L344.30,46.54 L344.80,47.31 L345.30,48.07 L345.80,48.82 L346.30,49.56 L346.80,50.29 L347.30,51.01 L347.80,51.72 L348.30,52.43 L348.80,53.15 L349.30,53.87 L349.80,54.60 L350.30,55.35 L350.80,56.12 L351.30,56.92 L351.80,57.75 L352.30,58.60 L352.80,59.49 L353.30,60.40 L353.80,61.34 L354.30,62.30 L354.80,63.30 L355.30,64.32 L355.80,65.38 L356.30,66.48 L356.80,67.62 L357.30,68.81 L357.80,70.05 L358.30,71.34 L358.80,72.68 L359.30,74.05 L359.80,75.46 L360.30,76.89 L360.80,78.33 L361.30,79.79 L361.80,81.24 L362.30,82.68 L362.80,84.10 L363.30,85.49 L363.80,86.86 L364.30,88.22 L364.80,89.58 L365.30,90.95 L365.80,92.35 L366.30,93.78 L366.80,95.24 L367.30,96.74 L367.80,98.28 L368.30,99.83 L368.80,101.41 L369.30,103.00 L369.80,104.60 L370.30,106.19 L370.80,107.76 L371.30,109.27 L371.80,110.72 L372.30,112.08 L372.80,113.33 L373.30,114.43 L373.80,115.38 L374.30,116.14 L374.80,116.69 L375.30,117.06 L375.80,117.28 L376.30,117.34 L376.80,117.23 L377.30,116.90 L377.80,116.30 L378.30,115.52 L378.80,114.65 L379.30,113.80 L379.80,113.02 L380.30,112.29 L380.80,111.59 L381.30,110.90 L381.80,110.21 L382.30,109.50 L382.80,108.75 L383.30,107.97 L383.80,107.17 L384.30,106.34 L384.80,105.51 L385.30,104.67 L385.80,103.83 L386.30,103.00 L386.80,102.19 L387.30,101.38 L387.80,100.59 L388.30,99.80 L388.80,99.00 L389.30,98.19 L389.80,97.37 L390.30,96.53 L390.80,95.67 L391.30,94.82 L391.80,93.98 L392.30,93.18 L392.80,92.43 L393.30,91.76 L393.80,91.18 L394.30,90.70 L394.80,90.30 L395.30,89.97 L395.80,89.70 L396.30,89.46 L396.80,89.26 L397.30,89.09 L397.80,88.97 L398.30,88.89 L398.80,88.85 L399.30,88.85 L399.80,88.89 L400.30,88.96 L400.80,89.06 L401.30,89.18 L401.80,89.32 L402.30,89.47 L402.80,89.63 L403.30,89.80 L403.80,89.99 L404.30,90.20 L404.80,90.44 L405.30,90.72 L405.80,91.04 L406.30,91.42 L406.80,91.85 L407.30,92.35 L407.80,92.89 L408.30,93.47 L408.80,94.07 L409.30,94.70 L409.80,95.34 L410.30,95.99 L410.80,96.62 L411.30,97.25 L411.80,97.85 L412.30,98.42 L412.80,98.95 L413.30,99.43 L413.80,99.86 L414.30,100.24 L414.80,100.56 L415.30,100.83 L415.80,101.07 L416.30,101.27 L416.80,101.45 L417.30,101.60 L417.80,101.74 L418.30,101.86 L418.80,101.95 L419.30,102.03 L419.80,102.08 L420.30,102.11 L420.80,102.10 L421.30,102.07 L421.80,102.00 L422.30,101.90 L422.80,101.76 L423.30,101.60 L423.80,101.41 L424.30,101.20 L424.80,100.98 L425.30,100.74 L425.80,100.50 L426.30,100.25 L426.80,100.00 L427.30,99.75 L427.80,99.50 L428.30,99.25 L428.80,99.00 L429.30,98.74 L429.80,98.48 L430.30,98.22 L430.80,97.95 L431.30,97.68 L431.80,97.41 L432.30,97.13 L432.80,96.86 L433.30,96.60 L433.80,96.35 L434.30,96.10 L434.80,95.88 L435.30,95.68 L435.80,95.49 L436.30,95.33 L436.80,95.20 L437.30,95.08 L437.80,94.99 L438.30,94.91 L438.80,94.86 L439.30,94.82 L439.80,94.80 L440.30,94.80 L440.80,94.81 L441.30,94.84 L441.80,94.87 L442.30,94.92 L442.80,94.97 L443.30,95.03 L443.80,95.09 L444.30,95.15 L444.80,95.22 L445.30,95.28 L445.80,95.33 L446.30,95.38 L446.80,95.43 L447.30,95.48 L447.80,95.52 L448.30,95.56 L448.80,95.60 L449.30,95.64 L449.80,95.68 L450.30,95.73 L450.80,95.77 L451.30,95.82 L451.80,95.87 L452.30,95.92 L452.80,95.97 L453.30,96.01 L453.80,96.05 L454.30,96.08 L454.80,96.09 L455.30,96.09 L455.80,96.07 L456.30,96.03 L456.80,95.97 L457.30,95.89 L457.80,95.79 L458.30,95.66 L458.80,95.52 L459.30,95.36 L459.80,95.19 L460.30,95.00 L460.80,94.80 L461.30,94.60 L461.80,94.38 L462.30,94.15 L462.80,93.93 L463.30,93.71 L463.80,93.52 L464.30,93.36 L464.80,93.25 L465.30,93.19 L465.80,93.21 L466.30,93.31 L466.80,93.51 L467.30,93.81 L467.80,94.23 L468.30,94.78 L468.80,95.47 L469.30,96.31 L469.80,97.31 L470.30,98.44 L470.80,99.66 L471.30,100.93 L471.80,102.20 L472.30,103.45 L472.80,104.68 L473.30,105.91 L473.80,107.15 L474.30,108.41 L474.80,109.66 L475.30,110.89 L475.80,112.06 L476.30,113.17 L476.80,114.19 L477.30,115.08 L477.80,115.83 L478.30,116.45 L478.80,116.95 L479.30,117.36 L479.80,117.70 L480.30,117.99 L480.80,118.24 L481.30,118.46 L481.80,118.64 L482.30,118.79 L482.80,118.93 L483.30,119.04 L483.80,119.14 L484.30,119.23 L484.80,119.31 L485.30,119.37 L485.80,119.43 L486.30,119.49 L486.80,119.53 L487.30,119.56 L487.80,119.59 L488.30,119.61 L488.80,119.63 L489.30,119.64 L489.80,119.64 L490.30,119.64 L490.80,119.64 L491.30,119.63 L491.80,119.62 L492.30,119.61 L492.80,119.60 L493.30,119.59 L493.80,119.57 L494.30,119.56 L494.80,119.54 L495.30,119.53 L495.80,119.51 L496.30,119.49 L496.80,119.47 L497.30,119.45 L497.80,119.43 L498.30,119.41 L498.80,119.38 L499.30,119.36 L499.80,119.34 L500.30,119.31 L500.80,119.28 L501.30,119.26 L501.80,119.23 L502.30,119.21 L502.80,119.18 L503.30,119.16 L503.80,119.15 L504.30,119.14 L504.80,119.14 L505.30,119.14 L505.80,119.15 L506.30,119.17 L506.80,119.20 L507.30,119.24 L507.80,119.29 L508.30,119.35 L508.80,119.41 L509.30,119.49 L509.80,119.56 L510.30,119.64 L510.80,119.72 L511.30,119.80 L511.80,119.88 L512.30,119.96 L512.80,120.04 L513.30,120.11 L513.80,120.18 L514.30,120.25 L514.80,120.30 L515.30,120.36 L515.80,120.41 L516.30,120.46 L516.80,120.50 L517.30,120.54 L517.80,120.58 L518.30,120.62 L518.80,120.65 L519.30,120.69 L519.80,120.72 L520.30,120.75 L520.80,120.78 L521.30,120.81 L521.80,120.84 L522.30,120.87 L522.80,120.90 L523.30,120.93 L523.80,120.96 L524.30,120.99 L524.80,121.02 L525.30,121.06 L525.80,121.09 L526.30,121.13 L526.80,121.17 L527.30,121.21 L527.80,121.25 L528.30,121.29 L528.80,121.33 L529.30,121.37 L529.80,121.41 L530.30,121.45 L530.80,121.49 L531.30,121.53 L531.80,121.57 L532.30,121.60 L532.80,121.63 L533.30,121.66 L533.80,121.69 L534.30,121.71 L534.80,121.73 L535.30,121.76 L535.80,121.77 L536.30,121.79 L536.80,121.81 L537.30,121.83 L537.80,121.84 L538.30,121.86 L538.80,121.87 L539.30,121.88 L539.80,121.90 L539.90,121.90" stroke="#2a7fcf" stroke-width="1.9" fill="none" stroke-linejoin="round" clip-path="url(#cl2)"/>
<path d="M343.30,45.00 L343.80,45.77 L344.30,46.54 L344.80,47.31 L345.30,48.07 L345.80,48.82 L346.30,49.56 L346.80,50.29 L347.30,51.01 L347.80,51.72 L348.30,52.43 L348.80,53.15 L349.30,53.87 L349.80,54.60 L350.30,55.35 L350.80,56.12 L351.30,56.92 L351.80,57.75 L352.30,58.60 L352.80,59.49 L353.30,60.40 L353.80,61.34 L354.30,62.30 L354.80,63.30 L355.30,64.32 L355.80,65.38 L356.30,66.48 L356.80,67.62 L357.30,68.81 L357.80,70.05 L358.30,71.34 L358.80,72.68 L359.30,74.05 L359.80,75.46 L360.30,76.89 L360.80,78.33 L361.30,79.79 L361.80,81.24 L362.30,82.68 L362.80,84.10 L363.30,85.49 L363.80,86.86 L364.30,88.22 L364.80,89.58 L365.30,90.95 L365.80,92.35 L366.30,93.78 L366.80,95.24 L367.30,96.74 L367.80,98.28 L368.30,99.83 L368.80,101.41 L369.30,103.00 L369.80,104.60 L370.30,106.19 L370.80,107.76 L371.30,109.27 L371.80,110.72 L372.30,112.08 L372.80,113.33 L373.30,114.43 L373.80,115.38 L374.30,116.14 L374.80,116.69 L375.30,117.06 L375.80,117.28 L376.30,117.34 L376.80,117.23 L377.30,116.90 L377.80,116.30 L378.30,115.52 L378.80,114.65 L379.30,113.80 L379.80,113.02 L380.30,112.29 L380.80,111.59 L381.30,110.90 L381.80,110.21 L382.30,109.50 L382.80,108.75 L383.30,107.97 L383.80,107.17 L384.30,106.34 L384.80,105.51 L385.30,104.67 L385.80,103.83 L386.30,103.00 L386.80,102.19 L387.30,101.38 L387.80,100.59 L388.30,99.80 L388.80,99.00 L389.30,98.19 L389.80,97.37 L390.30,96.53 L390.80,95.67 L391.30,94.82 L391.80,93.98 L392.30,93.18 L392.80,92.43 L393.30,91.76 L393.80,91.18 L394.30,90.70 L394.80,90.30 L395.30,89.97 L395.80,89.70 L396.30,89.46 L396.80,89.26 L397.30,89.09 L397.80,88.97 L398.30,88.89 L398.80,88.85 L399.30,88.85 L399.80,88.89 L400.30,88.96 L400.80,89.06 L401.30,89.18 L401.80,89.32 L402.30,89.47 L402.80,89.63 L403.30,89.80 L403.80,89.99 L404.30,90.20 L404.80,90.44 L405.30,90.72 L405.80,91.04 L406.30,91.42 L406.80,91.85 L407.30,92.35 L407.80,92.89 L408.30,93.47 L408.80,94.07 L409.30,94.70 L409.80,95.34 L410.30,95.99 L410.80,96.62 L411.30,97.25 L411.80,97.85 L412.30,98.42 L412.80,98.95 L413.30,99.43 L413.80,99.86 L414.30,100.24 L414.80,100.56 L415.30,100.83 L415.80,101.07 L416.30,101.27 L416.80,101.45 L417.30,101.60 L417.80,101.74 L418.30,101.86 L418.80,101.95 L419.30,102.03 L419.80,102.08 L420.30,102.11 L420.80,102.10 L421.30,102.07 L421.80,102.00 L422.30,101.90 L422.80,101.76 L423.30,101.60 L423.80,101.41 L424.30,101.20 L424.80,100.98 L425.30,100.74 L425.80,100.50 L426.30,100.25 L426.80,100.00 L427.30,99.75 L427.80,99.50 L428.30,99.25 L428.80,99.00 L429.30,98.74 L429.80,98.48 L430.30,98.22 L430.80,97.95 L431.30,97.68 L431.80,97.41 L432.30,97.13 L432.80,96.86 L433.30,96.60 L433.80,96.35 L434.30,96.10 L434.80,95.88 L435.30,95.68 L435.80,95.49 L436.30,95.33 L436.80,95.20 L437.30,95.08 L437.80,94.99 L438.30,94.91 L438.80,94.86 L439.30,94.82 L439.80,94.80 L440.30,94.80 L440.80,94.81 L441.30,94.84 L441.80,94.87 L442.30,94.92 L442.80,94.97 L443.30,95.03 L443.80,95.09 L444.30,95.15 L444.80,95.22 L445.30,95.28 L445.80,95.33 L446.30,95.38 L446.80,95.43 L447.30,95.48 L447.80,95.52 L448.30,95.56 L448.80,95.60 L449.30,95.64 L449.80,95.68 L450.30,95.73 L450.80,95.77 L451.30,95.82 L451.80,95.87 L452.30,95.92 L452.80,95.97 L453.30,96.01 L453.80,96.05 L454.30,96.08 L454.80,96.09 L455.30,96.09 L455.80,96.07 L456.30,96.03 L456.80,95.97 L457.30,95.89 L457.80,95.79 L458.30,95.66 L458.80,95.52 L459.30,95.36 L459.80,95.19 L460.30,95.00 L460.80,94.80 L461.30,94.60 L461.80,94.38 L462.30,94.15 L462.80,93.93 L463.30,93.71 L463.80,93.52 L464.30,93.36 L464.80,93.25 L465.30,93.19 L465.80,93.21 L466.30,93.31 L466.80,93.51 L467.30,93.81 L467.80,94.23 L468.30,94.78 L468.80,95.47 L469.30,96.31 L469.80,97.31 L470.30,98.44 L470.80,99.66 L471.30,100.93 L471.80,102.20 L472.30,103.45 L472.80,104.68 L473.30,105.91 L473.80,107.15 L474.30,108.41 L474.80,109.66 L475.30,110.89 L475.80,112.06 L476.30,113.17 L476.80,114.19 L477.30,115.08 L477.80,115.83 L478.30,116.45 L478.80,116.95 L479.30,117.36 L479.80,117.70 L480.30,117.99 L480.80,118.24 L481.30,118.46 L481.80,118.64 L482.30,118.79 L482.80,118.93 L483.30,119.04 L483.80,119.14 L484.30,119.23 L484.80,119.31 L485.30,119.37 L485.80,119.43 L486.30,119.49 L486.80,119.53 L487.30,119.56 L487.80,119.59 L488.30,119.61 L488.80,119.63 L489.30,119.64 L489.80,119.64 L490.30,119.64 L490.80,119.64 L491.30,119.63 L491.80,119.62 L492.30,119.61 L492.80,119.60 L493.30,119.59 L493.80,119.57 L494.30,119.56 L494.80,119.54 L495.30,119.53 L495.80,119.51 L496.30,119.49 L496.80,119.47 L497.30,119.45 L497.80,119.43 L498.30,119.41 L498.80,119.38 L499.30,119.36 L499.80,119.34 L500.30,119.31 L500.80,119.28 L501.30,119.26 L501.80,119.23 L502.30,119.21 L502.80,119.18 L503.30,119.16 L503.80,119.15 L504.30,119.14 L504.80,119.14 L505.30,119.14 L505.80,119.15 L506.30,119.17 L506.80,119.20 L507.30,119.24 L507.80,119.29 L508.30,119.35 L508.80,119.41 L509.30,119.49 L509.80,119.56 L510.30,119.64 L510.80,119.72 L511.30,119.80 L511.80,119.88 L512.30,119.96 L512.80,120.04 L513.30,120.11 L513.80,120.18 L514.30,120.25 L514.80,120.30 L515.30,120.36 L515.80,120.41 L516.30,120.46 L516.80,120.50 L517.30,120.54 L517.80,120.58 L518.30,120.62 L518.80,120.65 L519.30,120.69 L519.80,120.72 L520.30,120.75 L520.80,120.78 L521.30,120.81 L521.80,120.84 L522.30,120.87 L522.80,120.90 L523.30,120.93 L523.80,120.96 L524.30,120.99 L524.80,121.02 L525.30,121.06 L525.80,121.09 L526.30,121.13 L526.80,121.17 L527.30,121.21 L527.80,121.25 L528.30,121.29 L528.80,121.33 L529.30,121.37 L529.80,121.41 L530.30,121.45 L530.80,121.49 L531.30,121.53 L531.80,121.57 L532.30,121.60 L532.80,121.63 L533.30,121.66 L533.80,121.69 L534.30,121.71 L534.80,121.73 L535.30,121.76 L535.80,121.77 L536.30,121.79 L536.80,121.81 L537.30,121.83 L537.80,121.84 L538.30,121.86 L538.80,121.87 L539.30,121.88 L539.80,121.90 L539.90,121.90" stroke="#2a7fcf" stroke-width="1.4" fill="none" stroke-linejoin="round" clip-path="url(#sh2)"/>
<path d="M343.30,45.00 L343.80,45.77 L344.30,46.54 L344.80,47.31 L345.30,48.07 L345.80,48.82 L346.30,49.56 L346.80,50.29 L347.30,51.01 L347.80,51.72 L348.30,52.43 L348.80,53.15 L349.30,53.87 L349.80,54.60 L350.30,55.35 L350.80,56.12 L351.30,56.92 L351.80,57.75 L352.30,58.60 L352.80,59.49 L353.30,60.40 L353.80,61.34 L354.30,62.30 L354.80,63.30 L355.30,64.32 L355.80,65.38 L356.30,66.48 L356.80,67.62 L357.30,68.81 L357.80,70.05 L358.30,71.34 L358.80,72.68 L359.30,74.05 L359.80,75.46 L360.30,76.89 L360.80,78.33 L361.30,79.79 L361.80,81.24 L362.30,82.68 L362.80,84.10 L363.30,85.49 L363.80,86.86 L364.30,88.22 L364.80,89.58 L365.30,90.95 L365.80,92.35 L366.30,93.78 L366.80,95.24 L367.30,96.74 L367.80,98.28 L368.30,99.83 L368.80,101.41 L369.30,103.00 L369.80,104.60 L370.30,106.19 L370.80,107.76 L371.30,109.27 L371.80,110.72 L372.30,112.08 L372.80,113.33 L373.30,114.43 L373.80,115.38 L374.30,116.14 L374.80,116.69 L375.30,117.06 L375.80,117.28 L376.30,117.34 L376.80,117.23 L377.30,116.90 L377.80,116.30 L378.30,115.52 L378.80,114.65 L379.30,113.80 L379.80,113.02 L380.30,112.29 L380.80,111.59 L381.30,110.90 L381.80,110.21 L382.30,109.50 L382.80,108.75 L383.30,107.97 L383.80,107.17 L384.30,106.34 L384.80,105.51 L385.30,104.67 L385.80,103.83 L386.30,103.00 L386.80,102.19 L387.30,101.38 L387.80,100.59 L388.30,99.80 L388.80,99.00 L389.30,98.19 L389.80,97.37 L390.30,96.53 L390.80,95.67 L391.30,94.82 L391.80,93.98 L392.30,93.18 L392.80,92.43 L393.30,91.76 L393.80,91.18 L394.30,90.70 L394.80,90.30 L395.30,89.97 L395.80,89.70 L396.30,89.46 L396.80,89.26 L397.30,89.09 L397.80,88.97 L398.30,88.89 L398.80,88.85 L399.30,88.85 L399.80,88.89 L400.30,88.96 L400.80,89.06 L401.30,89.18 L401.80,89.32 L402.30,89.47 L402.80,89.63 L403.30,89.80 L403.80,89.99 L404.30,90.20 L404.80,90.44 L405.30,90.72 L405.80,91.04 L406.30,91.42 L406.80,91.85 L407.30,92.35 L407.80,92.89 L408.30,93.47 L408.80,94.07 L409.30,94.70 L409.80,95.34 L410.30,95.99 L410.80,96.62 L411.30,97.25 L411.80,97.85 L412.30,98.42 L412.80,98.95 L413.30,99.43 L413.80,99.86 L414.30,100.24 L414.80,100.56 L415.30,100.83 L415.80,101.07 L416.30,101.27 L416.80,101.45 L417.30,101.60 L417.80,101.74 L418.30,101.86 L418.80,101.95 L419.30,102.03 L419.80,102.08 L420.30,102.11 L420.80,102.10 L421.30,102.07 L421.80,102.00 L422.30,101.90 L422.80,101.76 L423.30,101.59 L423.80,101.41 L424.30,101.20 L424.80,100.97 L425.30,100.74 L425.80,100.50 L426.30,100.25 L426.80,100.00 L427.30,99.76 L427.80,99.51 L428.30,99.26 L428.80,99.01 L429.30,98.76 L429.80,98.50 L430.30,98.23 L430.80,97.96 L431.30,97.67 L431.80,97.39 L432.30,97.10 L432.80,96.82 L433.30,96.55 L433.80,96.29 L434.30,96.06 L434.80,95.85 L435.30,95.66 L435.80,95.52 L436.30,95.40 L436.80,95.32 L437.30,95.26 L437.80,95.23 L438.30,95.22 L438.80,95.22 L439.30,95.24 L439.80,95.27 L440.30,95.30 L440.80,95.34 L441.30,95.39 L441.80,95.43 L442.30,95.49 L442.80,95.54 L443.30,95.60 L443.80,95.66 L444.30,95.72 L444.80,95.78 L445.30,95.84 L445.80,95.91 L446.30,95.97 L446.80,96.03 L447.30,96.10 L447.80,96.16 L448.30,96.23 L448.80,96.30 L449.30,96.36 L449.80,96.43 L450.30,96.50 L450.80,96.57 L451.30,96.63 L451.80,96.70 L452.30,96.77 L452.80,96.82 L453.30,96.88 L453.80,96.92 L454.30,96.96 L454.80,96.98 L455.30,96.98 L455.80,96.97 L456.30,96.95 L456.80,96.90 L457.30,96.83 L457.80,96.74 L458.30,96.63 L458.80,96.50 L459.30,96.35 L459.80,96.19 L460.30,96.00 L460.80,95.80 L461.30,95.58 L461.80,95.35 L462.30,95.11 L462.80,94.86 L463.30,94.63 L463.80,94.42 L464.30,94.25 L464.80,94.12 L465.30,94.04 L465.80,94.04 L466.30,94.12 L466.80,94.28 L467.30,94.53 L467.80,94.88 L468.30,95.33 L468.80,95.90 L469.30,96.58 L469.80,97.38 L470.30,98.29 L470.80,99.28 L471.30,100.33 L471.80,101.41 L472.30,102.49 L472.80,103.55 L473.30,104.59 L473.80,105.60 L474.30,106.61 L474.80,107.59 L475.30,108.55 L475.80,109.48 L476.30,110.36 L476.80,111.19 L477.30,111.95 L477.80,112.63 L478.30,113.22 L478.80,113.74 L479.30,114.21 L479.80,114.63 L480.30,115.01 L480.80,115.37 L481.30,115.71 L481.80,116.03 L482.30,116.32 L482.80,116.60 L483.30,116.85 L483.80,117.09 L484.30,117.31 L484.80,117.51 L485.30,117.69 L485.80,117.86 L486.30,118.00 L486.80,118.14 L487.30,118.26 L487.80,118.37 L488.30,118.47 L488.80,118.57 L489.30,118.65 L489.80,118.73 L490.30,118.80 L490.80,118.86 L491.30,118.91 L491.80,118.96 L492.30,119.00 L492.80,119.04 L493.30,119.07 L493.80,119.10 L494.30,119.12 L494.80,119.14 L495.30,119.16 L495.80,119.18 L496.30,119.20 L496.80,119.21 L497.30,119.22 L497.80,119.23 L498.30,119.23 L498.80,119.24 L499.30,119.24 L499.80,119.24 L500.30,119.24 L500.80,119.23 L501.30,119.23 L501.80,119.22 L502.30,119.20 L502.80,119.19 L503.30,119.18 L503.80,119.16 L504.30,119.15 L504.80,119.15 L505.30,119.15 L505.80,119.16 L506.30,119.17 L506.80,119.20 L507.30,119.24 L507.80,119.29 L508.30,119.34 L508.80,119.41 L509.30,119.48 L509.80,119.55 L510.30,119.63 L510.80,119.72 L511.30,119.80 L511.80,119.88 L512.30,119.96 L512.80,120.04 L513.30,120.11 L513.80,120.18 L514.30,120.25 L514.80,120.31 L515.30,120.36 L515.80,120.41 L516.30,120.46 L516.80,120.50 L517.30,120.54 L517.80,120.58 L518.30,120.62 L518.80,120.65 L519.30,120.69 L519.80,120.72 L520.30,120.75 L520.80,120.78 L521.30,120.81 L521.80,120.84 L522.30,120.87 L522.80,120.90 L523.30,120.93 L523.80,120.96 L524.30,120.99 L524.80,121.02 L525.30,121.06 L525.80,121.09 L526.30,121.13 L526.80,121.17 L527.30,121.21 L527.80,121.25 L528.30,121.29 L528.80,121.33 L529.30,121.37 L529.80,121.41 L530.30,121.45 L530.80,121.49 L531.30,121.53 L531.80,121.57 L532.30,121.60 L532.80,121.63 L533.30,121.66 L533.80,121.69 L534.30,121.71 L534.80,121.73 L535.30,121.76 L535.80,121.77 L536.30,121.79 L536.80,121.81 L537.30,121.83 L537.80,121.84 L538.30,121.86 L538.80,121.87 L539.30,121.88 L539.80,121.90 L539.90,121.90" stroke="#ED7D31" stroke-width="1.1" stroke-dasharray="1 1.1" fill="none" stroke-linejoin="round" clip-path="url(#cl2)" stroke-opacity="0.75"/>
<path d="M343.30,45.00 L343.80,45.77 L344.30,46.54 L344.80,47.31 L345.30,48.07 L345.80,48.82 L346.30,49.56 L346.80,50.29 L347.30,51.01 L347.80,51.72 L348.30,52.43 L348.80,53.15 L349.30,53.87 L349.80,54.60 L350.30,55.35 L350.80,56.12 L351.30,56.92 L351.80,57.75 L352.30,58.60 L352.80,59.49 L353.30,60.40 L353.80,61.34 L354.30,62.30 L354.80,63.30 L355.30,64.32 L355.80,65.38 L356.30,66.48 L356.80,67.62 L357.30,68.81 L357.80,70.05 L358.30,71.34 L358.80,72.68 L359.30,74.05 L359.80,75.46 L360.30,76.89 L360.80,78.33 L361.30,79.79 L361.80,81.24 L362.30,82.68 L362.80,84.10 L363.30,85.49 L363.80,86.86 L364.30,88.22 L364.80,89.58 L365.30,90.95 L365.80,92.35 L366.30,93.78 L366.80,95.24 L367.30,96.74 L367.80,98.28 L368.30,99.83 L368.80,101.41 L369.30,103.00 L369.80,104.60 L370.30,106.19 L370.80,107.76 L371.30,109.27 L371.80,110.72 L372.30,112.08 L372.80,113.33 L373.30,114.43 L373.80,115.38 L374.30,116.14 L374.80,116.69 L375.30,117.06 L375.80,117.28 L376.30,117.34 L376.80,117.23 L377.30,116.90 L377.80,116.30 L378.30,115.52 L378.80,114.65 L379.30,113.80 L379.80,113.02 L380.30,112.29 L380.80,111.59 L381.30,110.90 L381.80,110.21 L382.30,109.50 L382.80,108.75 L383.30,107.97 L383.80,107.17 L384.30,106.34 L384.80,105.51 L385.30,104.67 L385.80,103.83 L386.30,103.00 L386.80,102.19 L387.30,101.38 L387.80,100.59 L388.30,99.80 L388.80,99.00 L389.30,98.19 L389.80,97.37 L390.30,96.53 L390.80,95.67 L391.30,94.82 L391.80,93.98 L392.30,93.18 L392.80,92.43 L393.30,91.76 L393.80,91.18 L394.30,90.70 L394.80,90.30 L395.30,89.97 L395.80,89.70 L396.30,89.46 L396.80,89.26 L397.30,89.09 L397.80,88.97 L398.30,88.89 L398.80,88.85 L399.30,88.85 L399.80,88.89 L400.30,88.96 L400.80,89.06 L401.30,89.18 L401.80,89.32 L402.30,89.47 L402.80,89.63 L403.30,89.80 L403.80,89.99 L404.30,90.20 L404.80,90.44 L405.30,90.72 L405.80,91.04 L406.30,91.42 L406.80,91.85 L407.30,92.35 L407.80,92.89 L408.30,93.47 L408.80,94.07 L409.30,94.70 L409.80,95.34 L410.30,95.99 L410.80,96.62 L411.30,97.25 L411.80,97.85 L412.30,98.42 L412.80,98.95 L413.30,99.43 L413.80,99.86 L414.30,100.24 L414.80,100.56 L415.30,100.83 L415.80,101.07 L416.30,101.27 L416.80,101.45 L417.30,101.60 L417.80,101.74 L418.30,101.86 L418.80,101.95 L419.30,102.03 L419.80,102.08 L420.30,102.11 L420.80,102.10 L421.30,102.07 L421.80,102.00 L422.30,101.90 L422.80,101.76 L423.30,101.60 L423.80,101.41 L424.30,101.20 L424.80,100.98 L425.30,100.74 L425.80,100.50 L426.30,100.25 L426.80,100.00 L427.30,99.75 L427.80,99.50 L428.30,99.25 L428.80,99.00 L429.30,98.74 L429.80,98.49 L430.30,98.22 L430.80,97.95 L431.30,97.68 L431.80,97.40 L432.30,97.13 L432.80,96.85 L433.30,96.59 L433.80,96.34 L434.30,96.10 L434.80,95.87 L435.30,95.67 L435.80,95.50 L436.30,95.35 L436.80,95.22 L437.30,95.12 L437.80,95.03 L438.30,94.97 L438.80,94.92 L439.30,94.90 L439.80,94.88 L440.30,94.88 L440.80,94.89 L441.30,94.91 L441.80,94.94 L442.30,94.97 L442.80,94.99 L443.30,95.02 L443.80,95.04 L444.30,95.06 L444.80,95.06 L445.30,95.05 L445.80,95.03 L446.30,94.99 L446.80,94.93 L447.30,94.87 L447.80,94.80 L448.30,94.74 L448.80,94.69 L449.30,94.66 L449.80,94.66 L450.30,94.68 L450.80,94.74 L451.30,94.85 L451.80,94.99 L452.30,95.15 L452.80,95.31 L453.30,95.45 L453.80,95.55 L454.30,95.58 L454.80,95.53 L455.30,95.40 L455.80,95.23 L456.30,95.02 L456.80,94.80 L457.30,94.61 L457.80,94.46 L458.30,94.37 L458.80,94.33 L459.30,94.33 L459.80,94.34 L460.30,94.35 L460.80,94.36 L461.30,94.34 L461.80,94.29 L462.30,94.22 L462.80,94.15 L463.30,94.10 L463.80,94.07 L464.30,94.09 L464.80,94.16 L465.30,94.29 L465.80,94.48 L466.30,94.72 L466.80,95.03 L467.30,95.40 L467.80,95.84 L468.30,96.37 L468.80,97.00 L469.30,97.76 L469.80,98.64 L470.30,99.66 L470.80,100.77 L471.30,101.96 L471.80,103.20 L472.30,104.46 L472.80,105.74 L473.30,107.04 L473.80,108.36 L474.30,109.69 L474.80,110.99 L475.30,112.23 L475.80,113.41 L476.30,114.49 L476.80,115.48 L477.30,116.33 L477.80,117.06 L478.30,117.64 L478.80,118.12 L479.30,118.49 L479.80,118.79 L480.30,119.03 L480.80,119.22 L481.30,119.36 L481.80,119.47 L482.30,119.54 L482.80,119.60 L483.30,119.65 L483.80,119.69 L484.30,119.72 L484.80,119.75 L485.30,119.77 L485.80,119.79 L486.30,119.80 L486.80,119.80 L487.30,119.81 L487.80,119.80 L488.30,119.80 L488.80,119.79 L489.30,119.78 L489.80,119.77 L490.30,119.75 L490.80,119.73 L491.30,119.72 L491.80,119.70 L492.30,119.68 L492.80,119.66 L493.30,119.65 L493.80,119.63 L494.30,119.61 L494.80,119.60 L495.30,119.58 L495.80,119.56 L496.30,119.55 L496.80,119.53 L497.30,119.51 L497.80,119.49 L498.30,119.47 L498.80,119.45 L499.30,119.43 L499.80,119.41 L500.30,119.38 L500.80,119.36 L501.30,119.33 L501.80,119.30 L502.30,119.28 L502.80,119.25 L503.30,119.22 L503.80,119.20 L504.30,119.18 L504.80,119.17 L505.30,119.16 L505.80,119.16 L506.30,119.18 L506.80,119.20 L507.30,119.24 L507.80,119.28 L508.30,119.34 L508.80,119.40 L509.30,119.47 L509.80,119.55 L510.30,119.63 L510.80,119.71 L511.30,119.80 L511.80,119.88 L512.30,119.96 L512.80,120.04 L513.30,120.11 L513.80,120.18 L514.30,120.25 L514.80,120.31 L515.30,120.36 L515.80,120.41 L516.30,120.46 L516.80,120.50 L517.30,120.55 L517.80,120.58 L518.30,120.62 L518.80,120.65 L519.30,120.69 L519.80,120.72 L520.30,120.75 L520.80,120.78 L521.30,120.81 L521.80,120.84 L522.30,120.87 L522.80,120.90 L523.30,120.93 L523.80,120.96 L524.30,120.99 L524.80,121.02 L525.30,121.06 L525.80,121.09 L526.30,121.13 L526.80,121.17 L527.30,121.21 L527.80,121.25 L528.30,121.29 L528.80,121.33 L529.30,121.37 L529.80,121.41 L530.30,121.45 L530.80,121.49 L531.30,121.53 L531.80,121.57 L532.30,121.60 L532.80,121.63 L533.30,121.66 L533.80,121.69 L534.30,121.71 L534.80,121.73 L535.30,121.76 L535.80,121.77 L536.30,121.79 L536.80,121.81 L537.30,121.83 L537.80,121.84 L538.30,121.86 L538.80,121.87 L539.30,121.88 L539.80,121.90 L539.90,121.90" stroke="#ED7D31" stroke-width="1.6" stroke-dasharray="4.6 3.2" stroke-dashoffset="3.2" fill="none" stroke-linejoin="round" clip-path="url(#cl2)"/>
<path d="M343.30,45.00 L343.80,45.77 L344.30,46.54 L344.80,47.31 L345.30,48.07 L345.80,48.82 L346.30,49.56 L346.80,50.29 L347.30,51.01 L347.80,51.72 L348.30,52.43 L348.80,53.15 L349.30,53.87 L349.80,54.60 L350.30,55.35 L350.80,56.12 L351.30,56.92 L351.80,57.75 L352.30,58.60 L352.80,59.49 L353.30,60.40 L353.80,61.34 L354.30,62.30 L354.80,63.30 L355.30,64.32 L355.80,65.38 L356.30,66.48 L356.80,67.62 L357.30,68.81 L357.80,70.05 L358.30,71.34 L358.80,72.68 L359.30,74.05 L359.80,75.46 L360.30,76.89 L360.80,78.33 L361.30,79.79 L361.80,81.24 L362.30,82.68 L362.80,84.10 L363.30,85.49 L363.80,86.86 L364.30,88.22 L364.80,89.58 L365.30,90.95 L365.80,92.35 L366.30,93.78 L366.80,95.24 L367.30,96.74 L367.80,98.28 L368.30,99.83 L368.80,101.41 L369.30,103.00 L369.80,104.60 L370.30,106.19 L370.80,107.76 L371.30,109.27 L371.80,110.72 L372.30,112.08 L372.80,113.33 L373.30,114.43 L373.80,115.38 L374.30,116.14 L374.80,116.69 L375.30,117.06 L375.80,117.28 L376.30,117.34 L376.80,117.23 L377.30,116.90 L377.80,116.30 L378.30,115.52 L378.80,114.65 L379.30,113.80 L379.80,113.02 L380.30,112.29 L380.80,111.59 L381.30,110.90 L381.80,110.21 L382.30,109.50 L382.80,108.75 L383.30,107.97 L383.80,107.17 L384.30,106.34 L384.80,105.51 L385.30,104.67 L385.80,103.83 L386.30,103.00 L386.80,102.19 L387.30,101.38 L387.80,100.59 L388.30,99.80 L388.80,99.00 L389.30,98.19 L389.80,97.37 L390.30,96.53 L390.80,95.67 L391.30,94.82 L391.80,93.98 L392.30,93.18 L392.80,92.43 L393.30,91.76 L393.80,91.18 L394.30,90.70 L394.80,90.30 L395.30,89.97 L395.80,89.70 L396.30,89.46 L396.80,89.26 L397.30,89.09 L397.80,88.97 L398.30,88.89 L398.80,88.85 L399.30,88.85 L399.80,88.89 L400.30,88.96 L400.80,89.06 L401.30,89.18 L401.80,89.32 L402.30,89.47 L402.80,89.63 L403.30,89.80 L403.80,89.99 L404.30,90.20 L404.80,90.44 L405.30,90.72 L405.80,91.04 L406.30,91.42 L406.80,91.85 L407.30,92.35 L407.80,92.89 L408.30,93.47 L408.80,94.07 L409.30,94.70 L409.80,95.34 L410.30,95.99 L410.80,96.62 L411.30,97.25 L411.80,97.85 L412.30,98.42 L412.80,98.95 L413.30,99.43 L413.80,99.86 L414.30,100.24 L414.80,100.56 L415.30,100.83 L415.80,101.07 L416.30,101.27 L416.80,101.45 L417.30,101.60 L417.80,101.74 L418.30,101.86 L418.80,101.96 L419.30,102.03 L419.80,102.08 L420.30,102.11 L420.80,102.11 L421.30,102.07 L421.80,102.00 L422.30,101.90 L422.80,101.76 L423.30,101.59 L423.80,101.40 L424.30,101.20 L424.80,100.97 L425.30,100.74 L425.80,100.49 L426.30,100.25 L426.80,100.00 L427.30,99.76 L427.80,99.52 L428.30,99.27 L428.80,99.02 L429.30,98.77 L429.80,98.51 L430.30,98.24 L430.80,97.96 L431.30,97.67 L431.80,97.37 L432.30,97.08 L432.80,96.79 L433.30,96.51 L433.80,96.25 L434.30,96.02 L434.80,95.82 L435.30,95.65 L435.80,95.53 L436.30,95.46 L436.80,95.42 L437.30,95.42 L437.80,95.44 L438.30,95.48 L438.80,95.54 L439.30,95.60 L439.80,95.67 L440.30,95.74 L440.80,95.81 L441.30,95.87 L441.80,95.93 L442.30,95.98 L442.80,96.04 L443.30,96.10 L443.80,96.16 L444.30,96.22 L444.80,96.28 L445.30,96.34 L445.80,96.41 L446.30,96.48 L446.80,96.56 L447.30,96.64 L447.80,96.73 L448.30,96.82 L448.80,96.91 L449.30,97.00 L449.80,97.09 L450.30,97.18 L450.80,97.26 L451.30,97.35 L451.80,97.43 L452.30,97.50 L452.80,97.57 L453.30,97.63 L453.80,97.69 L454.30,97.73 L454.80,97.75 L455.30,97.77 L455.80,97.76 L456.30,97.75 L456.80,97.71 L457.30,97.65 L457.80,97.57 L458.30,97.48 L458.80,97.36 L459.30,97.22 L459.80,97.06 L460.30,96.88 L460.80,96.67 L461.30,96.44 L461.80,96.19 L462.30,95.94 L462.80,95.68 L463.30,95.43 L463.80,95.21 L464.30,95.02 L464.80,94.88 L465.30,94.79 L465.80,94.77 L466.30,94.82 L466.80,94.95 L467.30,95.16 L467.80,95.45 L468.30,95.81 L468.80,96.27 L469.30,96.81 L469.80,97.44 L470.30,98.16 L470.80,98.95 L471.30,99.82 L471.80,100.73 L472.30,101.65 L472.80,102.55 L473.30,103.43 L473.80,104.25 L474.30,105.04 L474.80,105.79 L475.30,106.51 L475.80,107.22 L476.30,107.91 L476.80,108.58 L477.30,109.22 L477.80,109.83 L478.30,110.40 L478.80,110.94 L479.30,111.45 L479.80,111.93 L480.30,112.41 L480.80,112.86 L481.30,113.31 L481.80,113.74 L482.30,114.16 L482.80,114.56 L483.30,114.94 L483.80,115.30 L484.30,115.64 L484.80,115.95 L485.30,116.22 L485.80,116.48 L486.30,116.71 L486.80,116.92 L487.30,117.12 L487.80,117.30 L488.30,117.48 L488.80,117.64 L489.30,117.79 L489.80,117.93 L490.30,118.06 L490.80,118.18 L491.30,118.28 L491.80,118.38 L492.30,118.47 L492.80,118.54 L493.30,118.62 L493.80,118.68 L494.30,118.74 L494.80,118.80 L495.30,118.85 L495.80,118.89 L496.30,118.94 L496.80,118.98 L497.30,119.02 L497.80,119.05 L498.30,119.08 L498.80,119.11 L499.30,119.14 L499.80,119.16 L500.30,119.18 L500.80,119.19 L501.30,119.20 L501.80,119.21 L502.30,119.20 L502.80,119.20 L503.30,119.19 L503.80,119.18 L504.30,119.17 L504.80,119.16 L505.30,119.16 L505.80,119.16 L506.30,119.18 L506.80,119.20 L507.30,119.24 L507.80,119.28 L508.30,119.34 L508.80,119.40 L509.30,119.47 L509.80,119.55 L510.30,119.63 L510.80,119.71 L511.30,119.80 L511.80,119.88 L512.30,119.96 L512.80,120.04 L513.30,120.11 L513.80,120.18 L514.30,120.25 L514.80,120.31 L515.30,120.36 L515.80,120.41 L516.30,120.46 L516.80,120.50 L517.30,120.55 L517.80,120.58 L518.30,120.62 L518.80,120.65 L519.30,120.69 L519.80,120.72 L520.30,120.75 L520.80,120.78 L521.30,120.81 L521.80,120.84 L522.30,120.87 L522.80,120.90 L523.30,120.93 L523.80,120.96 L524.30,120.99 L524.80,121.02 L525.30,121.06 L525.80,121.09 L526.30,121.13 L526.80,121.17 L527.30,121.21 L527.80,121.25 L528.30,121.29 L528.80,121.33 L529.30,121.37 L529.80,121.41 L530.30,121.45 L530.80,121.49 L531.30,121.53 L531.80,121.57 L532.30,121.60 L532.80,121.63 L533.30,121.66 L533.80,121.69 L534.30,121.71 L534.80,121.73 L535.30,121.76 L535.80,121.77 L536.30,121.79 L536.80,121.81 L537.30,121.83 L537.80,121.84 L538.30,121.86 L538.80,121.87 L539.30,121.88 L539.80,121.90 L539.90,121.90" stroke="#FF0000" stroke-width="1.1" stroke-dasharray="1 1.1" fill="none" stroke-linejoin="round" clip-path="url(#cl2)" stroke-opacity="0.75"/>
<path d="M343.30,45.00 L343.80,45.77 L344.30,46.54 L344.80,47.31 L345.30,48.07 L345.80,48.82 L346.30,49.56 L346.80,50.29 L347.30,51.01 L347.80,51.72 L348.30,52.43 L348.80,53.15 L349.30,53.87 L349.80,54.60 L350.30,55.35 L350.80,56.12 L351.30,56.92 L351.80,57.75 L352.30,58.60 L352.80,59.49 L353.30,60.40 L353.80,61.34 L354.30,62.30 L354.80,63.30 L355.30,64.32 L355.80,65.38 L356.30,66.48 L356.80,67.62 L357.30,68.81 L357.80,70.05 L358.30,71.34 L358.80,72.68 L359.30,74.05 L359.80,75.46 L360.30,76.89 L360.80,78.33 L361.30,79.79 L361.80,81.24 L362.30,82.68 L362.80,84.10 L363.30,85.49 L363.80,86.86 L364.30,88.22 L364.80,89.58 L365.30,90.95 L365.80,92.35 L366.30,93.78 L366.80,95.24 L367.30,96.74 L367.80,98.28 L368.30,99.83 L368.80,101.41 L369.30,103.00 L369.80,104.60 L370.30,106.19 L370.80,107.76 L371.30,109.27 L371.80,110.72 L372.30,112.08 L372.80,113.33 L373.30,114.43 L373.80,115.38 L374.30,116.14 L374.80,116.69 L375.30,117.06 L375.80,117.28 L376.30,117.34 L376.80,117.23 L377.30,116.90 L377.80,116.30 L378.30,115.52 L378.80,114.65 L379.30,113.80 L379.80,113.02 L380.30,112.29 L380.80,111.59 L381.30,110.90 L381.80,110.21 L382.30,109.50 L382.80,108.75 L383.30,107.97 L383.80,107.17 L384.30,106.34 L384.80,105.51 L385.30,104.67 L385.80,103.83 L386.30,103.00 L386.80,102.19 L387.30,101.38 L387.80,100.59 L388.30,99.80 L388.80,99.00 L389.30,98.19 L389.80,97.37 L390.30,96.53 L390.80,95.67 L391.30,94.82 L391.80,93.98 L392.30,93.18 L392.80,92.43 L393.30,91.76 L393.80,91.18 L394.30,90.70 L394.80,90.30 L395.30,89.97 L395.80,89.70 L396.30,89.46 L396.80,89.26 L397.30,89.09 L397.80,88.97 L398.30,88.89 L398.80,88.85 L399.30,88.85 L399.80,88.89 L400.30,88.96 L400.80,89.06 L401.30,89.18 L401.80,89.32 L402.30,89.47 L402.80,89.63 L403.30,89.80 L403.80,89.99 L404.30,90.20 L404.80,90.44 L405.30,90.72 L405.80,91.04 L406.30,91.42 L406.80,91.85 L407.30,92.35 L407.80,92.89 L408.30,93.47 L408.80,94.07 L409.30,94.70 L409.80,95.34 L410.30,95.99 L410.80,96.62 L411.30,97.25 L411.80,97.85 L412.30,98.42 L412.80,98.95 L413.30,99.43 L413.80,99.86 L414.30,100.24 L414.80,100.56 L415.30,100.83 L415.80,101.07 L416.30,101.27 L416.80,101.45 L417.30,101.60 L417.80,101.74 L418.30,101.86 L418.80,101.95 L419.30,102.03 L419.80,102.08 L420.30,102.11 L420.80,102.10 L421.30,102.07 L421.80,102.00 L422.30,101.90 L422.80,101.76 L423.30,101.60 L423.80,101.41 L424.30,101.20 L424.80,100.98 L425.30,100.74 L425.80,100.50 L426.30,100.25 L426.80,100.00 L427.30,99.75 L427.80,99.50 L428.30,99.25 L428.80,99.00 L429.30,98.75 L429.80,98.49 L430.30,98.22 L430.80,97.95 L431.30,97.68 L431.80,97.40 L432.30,97.12 L432.80,96.85 L433.30,96.58 L433.80,96.33 L434.30,96.09 L434.80,95.87 L435.30,95.67 L435.80,95.50 L436.30,95.36 L436.80,95.24 L437.30,95.15 L437.80,95.07 L438.30,95.02 L438.80,94.98 L439.30,94.96 L439.80,94.95 L440.30,94.95 L440.80,94.96 L441.30,94.98 L441.80,94.99 L442.30,95.01 L442.80,95.01 L443.30,95.01 L443.80,95.00 L444.30,94.97 L444.80,94.93 L445.30,94.86 L445.80,94.76 L446.30,94.64 L446.80,94.49 L447.30,94.33 L447.80,94.17 L448.30,94.02 L448.80,93.90 L449.30,93.81 L449.80,93.76 L450.30,93.77 L450.80,93.84 L451.30,94.00 L451.80,94.22 L452.30,94.48 L452.80,94.74 L453.30,94.96 L453.80,95.11 L454.30,95.14 L454.80,95.04 L455.30,94.80 L455.80,94.49 L456.30,94.13 L456.80,93.78 L457.30,93.49 L457.80,93.30 L458.30,93.24 L458.80,93.29 L459.30,93.42 L459.80,93.60 L460.30,93.79 L460.80,93.97 L461.30,94.11 L461.80,94.21 L462.30,94.28 L462.80,94.35 L463.30,94.43 L463.80,94.55 L464.30,94.73 L464.80,94.96 L465.30,95.25 L465.80,95.59 L466.30,95.96 L466.80,96.36 L467.30,96.79 L467.80,97.25 L468.30,97.76 L468.80,98.34 L469.30,99.02 L469.80,99.81 L470.30,100.72 L470.80,101.75 L471.30,102.87 L471.80,104.07 L472.30,105.34 L472.80,106.66 L473.30,108.03 L473.80,109.42 L474.30,110.81 L474.80,112.15 L475.30,113.41 L475.80,114.58 L476.30,115.65 L476.80,116.60 L477.30,117.43 L477.80,118.12 L478.30,118.69 L478.80,119.14 L479.30,119.48 L479.80,119.75 L480.30,119.94 L480.80,120.07 L481.30,120.15 L481.80,120.19 L482.30,120.20 L482.80,120.20 L483.30,120.19 L483.80,120.17 L484.30,120.15 L484.80,120.14 L485.30,120.12 L485.80,120.09 L486.30,120.07 L486.80,120.05 L487.30,120.02 L487.80,119.99 L488.30,119.96 L488.80,119.93 L489.30,119.90 L489.80,119.88 L490.30,119.85 L490.80,119.82 L491.30,119.79 L491.80,119.76 L492.30,119.74 L492.80,119.72 L493.30,119.70 L493.80,119.68 L494.30,119.66 L494.80,119.64 L495.30,119.63 L495.80,119.61 L496.30,119.60 L496.80,119.58 L497.30,119.56 L497.80,119.55 L498.30,119.53 L498.80,119.51 L499.30,119.49 L499.80,119.47 L500.30,119.45 L500.80,119.42 L501.30,119.40 L501.80,119.37 L502.30,119.34 L502.80,119.30 L503.30,119.27 L503.80,119.24 L504.30,119.22 L504.80,119.19 L505.30,119.18 L505.80,119.18 L506.30,119.18 L506.80,119.20 L507.30,119.23 L507.80,119.27 L508.30,119.33 L508.80,119.39 L509.30,119.46 L509.80,119.54 L510.30,119.62 L510.80,119.70 L511.30,119.79 L511.80,119.87 L512.30,119.96 L512.80,120.04 L513.30,120.11 L513.80,120.19 L514.30,120.25 L514.80,120.31 L515.30,120.37 L515.80,120.42 L516.30,120.46 L516.80,120.51 L517.30,120.55 L517.80,120.59 L518.30,120.62 L518.80,120.66 L519.30,120.69 L519.80,120.72 L520.30,120.75 L520.80,120.78 L521.30,120.81 L521.80,120.84 L522.30,120.87 L522.80,120.90 L523.30,120.93 L523.80,120.96 L524.30,120.99 L524.80,121.02 L525.30,121.06 L525.80,121.09 L526.30,121.13 L526.80,121.17 L527.30,121.21 L527.80,121.25 L528.30,121.29 L528.80,121.33 L529.30,121.37 L529.80,121.41 L530.30,121.45 L530.80,121.49 L531.30,121.53 L531.80,121.57 L532.30,121.60 L532.80,121.63 L533.30,121.66 L533.80,121.69 L534.30,121.71 L534.80,121.73 L535.30,121.75 L535.80,121.77 L536.30,121.79 L536.80,121.81 L537.30,121.83 L537.80,121.84 L538.30,121.86 L538.80,121.87 L539.30,121.88 L539.80,121.90 L539.90,121.90" stroke="#FF0000" stroke-width="1.6" stroke-dasharray="4.6 3.2" stroke-dashoffset="1.5" fill="none" stroke-linejoin="round" clip-path="url(#cl2)"/>
<path d="M343.30,45.00 L343.80,45.77 L344.30,46.54 L344.80,47.31 L345.30,48.07 L345.80,48.82 L346.30,49.56 L346.80,50.29 L347.30,51.01 L347.80,51.72 L348.30,52.43 L348.80,53.15 L349.30,53.87 L349.80,54.60 L350.30,55.35 L350.80,56.12 L351.30,56.92 L351.80,57.75 L352.30,58.60 L352.80,59.49 L353.30,60.40 L353.80,61.34 L354.30,62.30 L354.80,63.30 L355.30,64.32 L355.80,65.38 L356.30,66.48 L356.80,67.62 L357.30,68.81 L357.80,70.05 L358.30,71.34 L358.80,72.68 L359.30,74.05 L359.80,75.46 L360.30,76.89 L360.80,78.33 L361.30,79.79 L361.80,81.24 L362.30,82.68 L362.80,84.10 L363.30,85.49 L363.80,86.86 L364.30,88.22 L364.80,89.58 L365.30,90.95 L365.80,92.35 L366.30,93.78 L366.80,95.24 L367.30,96.74 L367.80,98.28 L368.30,99.83 L368.80,101.41 L369.30,103.00 L369.80,104.60 L370.30,106.19 L370.80,107.76 L371.30,109.27 L371.80,110.72 L372.30,112.08 L372.80,113.33 L373.30,114.43 L373.80,115.38 L374.30,116.14 L374.80,116.69 L375.30,117.06 L375.80,117.28 L376.30,117.34 L376.80,117.23 L377.30,116.90 L377.80,116.30 L378.30,115.52 L378.80,114.65 L379.30,113.80 L379.80,113.02 L380.30,112.29 L380.80,111.59 L381.30,110.90 L381.80,110.21 L382.30,109.50 L382.80,108.75 L383.30,107.97 L383.80,107.17 L384.30,106.34 L384.80,105.51 L385.30,104.67 L385.80,103.83 L386.30,103.00 L386.80,102.19 L387.30,101.38 L387.80,100.59 L388.30,99.80 L388.80,99.00 L389.30,98.19 L389.80,97.37 L390.30,96.53 L390.80,95.67 L391.30,94.82 L391.80,93.98 L392.30,93.18 L392.80,92.43 L393.30,91.76 L393.80,91.18 L394.30,90.70 L394.80,90.30 L395.30,89.97 L395.80,89.70 L396.30,89.46 L396.80,89.26 L397.30,89.09 L397.80,88.97 L398.30,88.89 L398.80,88.85 L399.30,88.85 L399.80,88.89 L400.30,88.96 L400.80,89.06 L401.30,89.18 L401.80,89.32 L402.30,89.47 L402.80,89.63 L403.30,89.80 L403.80,89.99 L404.30,90.20 L404.80,90.44 L405.30,90.72 L405.80,91.04 L406.30,91.42 L406.80,91.85 L407.30,92.35 L407.80,92.89 L408.30,93.47 L408.80,94.07 L409.30,94.70 L409.80,95.34 L410.30,95.99 L410.80,96.62 L411.30,97.25 L411.80,97.85 L412.30,98.42 L412.80,98.95 L413.30,99.43 L413.80,99.86 L414.30,100.24 L414.80,100.56 L415.30,100.83 L415.80,101.07 L416.30,101.27 L416.80,101.45 L417.30,101.60 L417.80,101.74 L418.30,101.86 L418.80,101.96 L419.30,102.03 L419.80,102.08 L420.30,102.11 L420.80,102.11 L421.30,102.07 L421.80,102.00 L422.30,101.89 L422.80,101.76 L423.30,101.59 L423.80,101.40 L424.30,101.19 L424.80,100.97 L425.30,100.73 L425.80,100.49 L426.30,100.25 L426.80,100.01 L427.30,99.76 L427.80,99.52 L428.30,99.28 L428.80,99.03 L429.30,98.78 L429.80,98.51 L430.30,98.24 L430.80,97.96 L431.30,97.66 L431.80,97.36 L432.30,97.06 L432.80,96.76 L433.30,96.48 L433.80,96.22 L434.30,95.99 L434.80,95.79 L435.30,95.65 L435.80,95.55 L436.30,95.50 L436.80,95.50 L437.30,95.53 L437.80,95.59 L438.30,95.67 L438.80,95.76 L439.30,95.86 L439.80,95.96 L440.30,96.05 L440.80,96.14 L441.30,96.21 L441.80,96.28 L442.30,96.34 L442.80,96.40 L443.30,96.45 L443.80,96.51 L444.30,96.57 L444.80,96.63 L445.30,96.70 L445.80,96.77 L446.30,96.85 L446.80,96.94 L447.30,97.03 L447.80,97.13 L448.30,97.24 L448.80,97.34 L449.30,97.45 L449.80,97.55 L450.30,97.66 L450.80,97.76 L451.30,97.86 L451.80,97.95 L452.30,98.03 L452.80,98.11 L453.30,98.17 L453.80,98.23 L454.30,98.27 L454.80,98.31 L455.30,98.33 L455.80,98.33 L456.30,98.32 L456.80,98.29 L457.30,98.24 L457.80,98.17 L458.30,98.08 L458.80,97.97 L459.30,97.84 L459.80,97.68 L460.30,97.50 L460.80,97.29 L461.30,97.06 L461.80,96.80 L462.30,96.53 L462.80,96.26 L463.30,96.01 L463.80,95.77 L464.30,95.58 L464.80,95.42 L465.30,95.32 L465.80,95.29 L466.30,95.33 L466.80,95.43 L467.30,95.61 L467.80,95.85 L468.30,96.16 L468.80,96.53 L469.30,96.97 L469.80,97.48 L470.30,98.06 L470.80,98.72 L471.30,99.45 L471.80,100.23 L472.30,101.04 L472.80,101.84 L473.30,102.60 L473.80,103.29 L474.30,103.91 L474.80,104.50 L475.30,105.05 L475.80,105.60 L476.30,106.15 L476.80,106.71 L477.30,107.27 L477.80,107.82 L478.30,108.38 L478.80,108.93 L479.30,109.47 L479.80,110.01 L480.30,110.55 L480.80,111.07 L481.30,111.59 L481.80,112.11 L482.30,112.61 L482.80,113.11 L483.30,113.58 L483.80,114.02 L484.30,114.44 L484.80,114.83 L485.30,115.17 L485.80,115.49 L486.30,115.78 L486.80,116.05 L487.30,116.30 L487.80,116.54 L488.30,116.77 L488.80,116.98 L489.30,117.18 L489.80,117.36 L490.30,117.54 L490.80,117.69 L491.30,117.84 L491.80,117.97 L492.30,118.08 L492.80,118.19 L493.30,118.29 L493.80,118.38 L494.30,118.47 L494.80,118.55 L495.30,118.62 L495.80,118.69 L496.30,118.75 L496.80,118.81 L497.30,118.87 L497.80,118.92 L498.30,118.97 L498.80,119.02 L499.30,119.06 L499.80,119.10 L500.30,119.13 L500.80,119.16 L501.30,119.18 L501.80,119.20 L502.30,119.20 L502.80,119.20 L503.30,119.20 L503.80,119.19 L504.30,119.18 L504.80,119.17 L505.30,119.17 L505.80,119.17 L506.30,119.18 L506.80,119.20 L507.30,119.23 L507.80,119.28 L508.30,119.33 L508.80,119.40 L509.30,119.47 L509.80,119.54 L510.30,119.63 L510.80,119.71 L511.30,119.79 L511.80,119.88 L512.30,119.96 L512.80,120.04 L513.30,120.11 L513.80,120.18 L514.30,120.25 L514.80,120.31 L515.30,120.36 L515.80,120.41 L516.30,120.46 L516.80,120.51 L517.30,120.55 L517.80,120.58 L518.30,120.62 L518.80,120.65 L519.30,120.69 L519.80,120.72 L520.30,120.75 L520.80,120.78 L521.30,120.81 L521.80,120.84 L522.30,120.87 L522.80,120.90 L523.30,120.93 L523.80,120.96 L524.30,120.99 L524.80,121.02 L525.30,121.06 L525.80,121.09 L526.30,121.13 L526.80,121.17 L527.30,121.21 L527.80,121.25 L528.30,121.29 L528.80,121.33 L529.30,121.37 L529.80,121.41 L530.30,121.45 L530.80,121.49 L531.30,121.53 L531.80,121.57 L532.30,121.60 L532.80,121.63 L533.30,121.66 L533.80,121.69 L534.30,121.71 L534.80,121.73 L535.30,121.76 L535.80,121.77 L536.30,121.79 L536.80,121.81 L537.30,121.83 L537.80,121.84 L538.30,121.86 L538.80,121.87 L539.30,121.88 L539.80,121.90 L539.90,121.90" stroke="#78BE3C" stroke-width="1.1" stroke-dasharray="1 1.1" fill="none" stroke-linejoin="round" clip-path="url(#cl2)" stroke-opacity="0.75"/>
<path d="M343.30,45.00 L343.80,45.77 L344.30,46.54 L344.80,47.31 L345.30,48.07 L345.80,48.82 L346.30,49.56 L346.80,50.29 L347.30,51.01 L347.80,51.72 L348.30,52.43 L348.80,53.15 L349.30,53.87 L349.80,54.60 L350.30,55.35 L350.80,56.12 L351.30,56.92 L351.80,57.75 L352.30,58.60 L352.80,59.49 L353.30,60.40 L353.80,61.34 L354.30,62.30 L354.80,63.30 L355.30,64.32 L355.80,65.38 L356.30,66.48 L356.80,67.62 L357.30,68.81 L357.80,70.05 L358.30,71.34 L358.80,72.68 L359.30,74.05 L359.80,75.46 L360.30,76.89 L360.80,78.33 L361.30,79.79 L361.80,81.24 L362.30,82.68 L362.80,84.10 L363.30,85.49 L363.80,86.86 L364.30,88.22 L364.80,89.58 L365.30,90.95 L365.80,92.35 L366.30,93.78 L366.80,95.24 L367.30,96.74 L367.80,98.28 L368.30,99.83 L368.80,101.41 L369.30,103.00 L369.80,104.60 L370.30,106.19 L370.80,107.76 L371.30,109.27 L371.80,110.72 L372.30,112.08 L372.80,113.33 L373.30,114.43 L373.80,115.38 L374.30,116.14 L374.80,116.69 L375.30,117.06 L375.80,117.28 L376.30,117.34 L376.80,117.23 L377.30,116.90 L377.80,116.30 L378.30,115.52 L378.80,114.65 L379.30,113.80 L379.80,113.02 L380.30,112.29 L380.80,111.59 L381.30,110.90 L381.80,110.21 L382.30,109.50 L382.80,108.75 L383.30,107.97 L383.80,107.17 L384.30,106.34 L384.80,105.51 L385.30,104.67 L385.80,103.83 L386.30,103.00 L386.80,102.19 L387.30,101.38 L387.80,100.59 L388.30,99.80 L388.80,99.00 L389.30,98.19 L389.80,97.37 L390.30,96.53 L390.80,95.67 L391.30,94.82 L391.80,93.98 L392.30,93.18 L392.80,92.43 L393.30,91.76 L393.80,91.18 L394.30,90.70 L394.80,90.30 L395.30,89.97 L395.80,89.70 L396.30,89.46 L396.80,89.26 L397.30,89.09 L397.80,88.97 L398.30,88.89 L398.80,88.85 L399.30,88.85 L399.80,88.89 L400.30,88.96 L400.80,89.06 L401.30,89.18 L401.80,89.32 L402.30,89.47 L402.80,89.63 L403.30,89.80 L403.80,89.99 L404.30,90.20 L404.80,90.44 L405.30,90.72 L405.80,91.04 L406.30,91.42 L406.80,91.85 L407.30,92.35 L407.80,92.89 L408.30,93.47 L408.80,94.07 L409.30,94.70 L409.80,95.34 L410.30,95.99 L410.80,96.62 L411.30,97.25 L411.80,97.85 L412.30,98.42 L412.80,98.95 L413.30,99.43 L413.80,99.86 L414.30,100.24 L414.80,100.56 L415.30,100.83 L415.80,101.07 L416.30,101.27 L416.80,101.45 L417.30,101.60 L417.80,101.74 L418.30,101.86 L418.80,101.96 L419.30,102.03 L419.80,102.08 L420.30,102.11 L420.80,102.11 L421.30,102.07 L421.80,102.00 L422.30,101.89 L422.80,101.76 L423.30,101.59 L423.80,101.40 L424.30,101.19 L424.80,100.97 L425.30,100.73 L425.80,100.49 L426.30,100.25 L426.80,100.01 L427.30,99.76 L427.80,99.52 L428.30,99.28 L428.80,99.03 L429.30,98.78 L429.80,98.51 L430.30,98.24 L430.80,97.96 L431.30,97.66 L431.80,97.36 L432.30,97.06 L432.80,96.76 L433.30,96.48 L433.80,96.22 L434.30,95.99 L434.80,95.79 L435.30,95.65 L435.80,95.55 L436.30,95.50 L436.80,95.50 L437.30,95.53 L437.80,95.59 L438.30,95.67 L438.80,95.76 L439.30,95.86 L439.80,95.96 L440.30,96.05 L440.80,96.14 L441.30,96.21 L441.80,96.28 L442.30,96.34 L442.80,96.40 L443.30,96.45 L443.80,96.51 L444.30,96.57 L444.80,96.63 L445.30,96.70 L445.80,96.77 L446.30,96.85 L446.80,96.94 L447.30,97.03 L447.80,97.13 L448.30,97.24 L448.80,97.34 L449.30,97.45 L449.80,97.55 L450.30,97.66 L450.80,97.76 L451.30,97.86 L451.80,97.95 L452.30,98.03 L452.80,98.11 L453.30,98.17 L453.80,98.23 L454.30,98.27 L454.80,98.31 L455.30,98.33 L455.80,98.33 L456.30,98.32 L456.80,98.29 L457.30,98.24 L457.80,98.17 L458.30,98.08 L458.80,97.97 L459.30,97.84 L459.80,97.68 L460.30,97.50 L460.80,97.29 L461.30,97.06 L461.80,96.80 L462.30,96.53 L462.80,96.26 L463.30,96.01 L463.80,95.77 L464.30,95.58 L464.80,95.42 L465.30,95.32 L465.80,95.29 L466.30,95.33 L466.80,95.43 L467.30,95.61 L467.80,95.85 L468.30,96.16 L468.80,96.53 L469.30,96.97 L469.80,97.48 L470.30,98.06 L470.80,98.72 L471.30,99.45 L471.80,100.23 L472.30,101.04 L472.80,101.84 L473.30,102.60 L473.80,103.29 L474.30,103.91 L474.80,104.50 L475.30,105.05 L475.80,105.60 L476.30,106.15 L476.80,106.71 L477.30,107.27 L477.80,107.82 L478.30,108.38 L478.80,108.93 L479.30,109.47 L479.80,110.01 L480.30,110.55 L480.80,111.07 L481.30,111.59 L481.80,112.11 L482.30,112.61 L482.80,113.11 L483.30,113.58 L483.80,114.02 L484.30,114.44 L484.80,114.83 L485.30,115.17 L485.80,115.49 L486.30,115.78 L486.80,116.05 L487.30,116.30 L487.80,116.54 L488.30,116.77 L488.80,116.98 L489.30,117.18 L489.80,117.36 L490.30,117.54 L490.80,117.69 L491.30,117.84 L491.80,117.97 L492.30,118.08 L492.80,118.19 L493.30,118.29 L493.80,118.38 L494.30,118.47 L494.80,118.55 L495.30,118.62 L495.80,118.69 L496.30,118.75 L496.80,118.81 L497.30,118.87 L497.80,118.92 L498.30,118.97 L498.80,119.02 L499.30,119.06 L499.80,119.10 L500.30,119.13 L500.80,119.16 L501.30,119.18 L501.80,119.20 L502.30,119.20 L502.80,119.20 L503.30,119.20 L503.80,119.19 L504.30,119.18 L504.80,119.17 L505.30,119.17 L505.80,119.17 L506.30,119.18 L506.80,119.20 L507.30,119.23 L507.80,119.28 L508.30,119.33 L508.80,119.40 L509.30,119.47 L509.80,119.54 L510.30,119.63 L510.80,119.71 L511.30,119.79 L511.80,119.88 L512.30,119.96 L512.80,120.04 L513.30,120.11 L513.80,120.18 L514.30,120.25 L514.80,120.31 L515.30,120.36 L515.80,120.41 L516.30,120.46 L516.80,120.51 L517.30,120.55 L517.80,120.58 L518.30,120.62 L518.80,120.65 L519.30,120.69 L519.80,120.72 L520.30,120.75 L520.80,120.78 L521.30,120.81 L521.80,120.84 L522.30,120.87 L522.80,120.90 L523.30,120.93 L523.80,120.96 L524.30,120.99 L524.80,121.02 L525.30,121.06 L525.80,121.09 L526.30,121.13 L526.80,121.17 L527.30,121.21 L527.80,121.25 L528.30,121.29 L528.80,121.33 L529.30,121.37 L529.80,121.41 L530.30,121.45 L530.80,121.49 L531.30,121.53 L531.80,121.57 L532.30,121.60 L532.80,121.63 L533.30,121.66 L533.80,121.69 L534.30,121.71 L534.80,121.73 L535.30,121.76 L535.80,121.77 L536.30,121.79 L536.80,121.81 L537.30,121.83 L537.80,121.84 L538.30,121.86 L538.80,121.87 L539.30,121.88 L539.80,121.90 L539.90,121.90" stroke="#78BE3C" stroke-width="1.1" stroke-dasharray="1 1.1" fill="none" stroke-linejoin="round" clip-path="url(#sh2)" stroke-opacity="1.0"/>
<path d="M343.30,45.00 L343.80,45.77 L344.30,46.54 L344.80,47.31 L345.30,48.07 L345.80,48.82 L346.30,49.56 L346.80,50.29 L347.30,51.01 L347.80,51.72 L348.30,52.43 L348.80,53.15 L349.30,53.87 L349.80,54.60 L350.30,55.35 L350.80,56.12 L351.30,56.92 L351.80,57.75 L352.30,58.60 L352.80,59.49 L353.30,60.40 L353.80,61.34 L354.30,62.30 L354.80,63.30 L355.30,64.32 L355.80,65.38 L356.30,66.48 L356.80,67.62 L357.30,68.81 L357.80,70.05 L358.30,71.34 L358.80,72.68 L359.30,74.05 L359.80,75.46 L360.30,76.89 L360.80,78.33 L361.30,79.79 L361.80,81.24 L362.30,82.68 L362.80,84.10 L363.30,85.49 L363.80,86.86 L364.30,88.22 L364.80,89.58 L365.30,90.95 L365.80,92.35 L366.30,93.78 L366.80,95.24 L367.30,96.74 L367.80,98.28 L368.30,99.83 L368.80,101.41 L369.30,103.00 L369.80,104.60 L370.30,106.19 L370.80,107.76 L371.30,109.27 L371.80,110.72 L372.30,112.08 L372.80,113.33 L373.30,114.43 L373.80,115.38 L374.30,116.14 L374.80,116.69 L375.30,117.06 L375.80,117.28 L376.30,117.34 L376.80,117.23 L377.30,116.90 L377.80,116.30 L378.30,115.52 L378.80,114.65 L379.30,113.80 L379.80,113.02 L380.30,112.29 L380.80,111.59 L381.30,110.90 L381.80,110.21 L382.30,109.50 L382.80,108.75 L383.30,107.97 L383.80,107.17 L384.30,106.34 L384.80,105.51 L385.30,104.67 L385.80,103.83 L386.30,103.00 L386.80,102.19 L387.30,101.38 L387.80,100.59 L388.30,99.80 L388.80,99.00 L389.30,98.19 L389.80,97.37 L390.30,96.53 L390.80,95.67 L391.30,94.82 L391.80,93.98 L392.30,93.18 L392.80,92.43 L393.30,91.76 L393.80,91.18 L394.30,90.70 L394.80,90.30 L395.30,89.97 L395.80,89.70 L396.30,89.46 L396.80,89.26 L397.30,89.09 L397.80,88.97 L398.30,88.89 L398.80,88.85 L399.30,88.85 L399.80,88.89 L400.30,88.96 L400.80,89.06 L401.30,89.18 L401.80,89.32 L402.30,89.47 L402.80,89.63 L403.30,89.80 L403.80,89.99 L404.30,90.20 L404.80,90.44 L405.30,90.72 L405.80,91.04 L406.30,91.42 L406.80,91.85 L407.30,92.35 L407.80,92.89 L408.30,93.47 L408.80,94.07 L409.30,94.70 L409.80,95.34 L410.30,95.99 L410.80,96.62 L411.30,97.25 L411.80,97.85 L412.30,98.42 L412.80,98.95 L413.30,99.43 L413.80,99.86 L414.30,100.24 L414.80,100.56 L415.30,100.83 L415.80,101.07 L416.30,101.27 L416.80,101.45 L417.30,101.60 L417.80,101.74 L418.30,101.86 L418.80,101.95 L419.30,102.03 L419.80,102.08 L420.30,102.11 L420.80,102.10 L421.30,102.07 L421.80,102.00 L422.30,101.90 L422.80,101.76 L423.30,101.60 L423.80,101.41 L424.30,101.20 L424.80,100.98 L425.30,100.74 L425.80,100.50 L426.30,100.25 L426.80,100.00 L427.30,99.75 L427.80,99.51 L428.30,99.26 L428.80,99.00 L429.30,98.75 L429.80,98.49 L430.30,98.23 L430.80,97.95 L431.30,97.68 L431.80,97.40 L432.30,97.12 L432.80,96.84 L433.30,96.58 L433.80,96.32 L434.30,96.08 L434.80,95.86 L435.30,95.67 L435.80,95.50 L436.30,95.37 L436.80,95.26 L437.30,95.17 L437.80,95.10 L438.30,95.05 L438.80,95.02 L439.30,95.01 L439.80,95.00 L440.30,95.00 L440.80,95.01 L441.30,95.02 L441.80,95.03 L442.30,95.04 L442.80,95.03 L443.30,95.01 L443.80,94.97 L444.30,94.91 L444.80,94.83 L445.30,94.71 L445.80,94.57 L446.30,94.39 L446.80,94.17 L447.30,93.95 L447.80,93.72 L448.30,93.51 L448.80,93.33 L449.30,93.19 L449.80,93.12 L450.30,93.11 L450.80,93.20 L451.30,93.39 L451.80,93.67 L452.30,94.00 L452.80,94.33 L453.30,94.61 L453.80,94.79 L454.30,94.83 L454.80,94.69 L455.30,94.38 L455.80,93.96 L456.30,93.49 L456.80,93.05 L457.30,92.69 L457.80,92.47 L458.30,92.44 L458.80,92.55 L459.30,92.77 L459.80,93.06 L460.30,93.38 L460.80,93.69 L461.30,93.95 L461.80,94.15 L462.30,94.32 L462.80,94.49 L463.30,94.67 L463.80,94.89 L464.30,95.18 L464.80,95.53 L465.30,95.94 L465.80,96.38 L466.30,96.84 L466.80,97.31 L467.30,97.78 L467.80,98.25 L468.30,98.75 L468.80,99.30 L469.30,99.92 L469.80,100.64 L470.30,101.48 L470.80,102.44 L471.30,103.52 L471.80,104.69 L472.30,105.97 L472.80,107.32 L473.30,108.74 L473.80,110.18 L474.30,111.61 L474.80,112.98 L475.30,114.25 L475.80,115.42 L476.30,116.48 L476.80,117.41 L477.30,118.21 L477.80,118.89 L478.30,119.43 L478.80,119.86 L479.30,120.19 L479.80,120.43 L480.30,120.59 L480.80,120.68 L481.30,120.71 L481.80,120.71 L482.30,120.67 L482.80,120.62 L483.30,120.57 L483.80,120.51 L484.30,120.46 L484.80,120.41 L485.30,120.36 L485.80,120.31 L486.30,120.27 L486.80,120.22 L487.30,120.17 L487.80,120.13 L488.30,120.08 L488.80,120.04 L489.30,119.99 L489.80,119.95 L490.30,119.91 L490.80,119.88 L491.30,119.84 L491.80,119.81 L492.30,119.78 L492.80,119.76 L493.30,119.73 L493.80,119.71 L494.30,119.69 L494.80,119.68 L495.30,119.66 L495.80,119.65 L496.30,119.63 L496.80,119.62 L497.30,119.60 L497.80,119.59 L498.30,119.57 L498.80,119.55 L499.30,119.54 L499.80,119.52 L500.30,119.49 L500.80,119.47 L501.30,119.44 L501.80,119.41 L502.30,119.38 L502.80,119.34 L503.30,119.31 L503.80,119.27 L504.30,119.24 L504.80,119.21 L505.30,119.20 L505.80,119.19 L506.30,119.19 L506.80,119.20 L507.30,119.23 L507.80,119.27 L508.30,119.32 L508.80,119.38 L509.30,119.45 L509.80,119.53 L510.30,119.61 L510.80,119.70 L511.30,119.78 L511.80,119.87 L512.30,119.96 L512.80,120.04 L513.30,120.11 L513.80,120.19 L514.30,120.25 L514.80,120.31 L515.30,120.37 L515.80,120.42 L516.30,120.47 L516.80,120.51 L517.30,120.55 L517.80,120.59 L518.30,120.62 L518.80,120.66 L519.30,120.69 L519.80,120.72 L520.30,120.75 L520.80,120.78 L521.30,120.81 L521.80,120.84 L522.30,120.87 L522.80,120.90 L523.30,120.93 L523.80,120.96 L524.30,120.99 L524.80,121.02 L525.30,121.06 L525.80,121.09 L526.30,121.13 L526.80,121.17 L527.30,121.21 L527.80,121.25 L528.30,121.29 L528.80,121.33 L529.30,121.37 L529.80,121.41 L530.30,121.45 L530.80,121.49 L531.30,121.53 L531.80,121.57 L532.30,121.60 L532.80,121.63 L533.30,121.66 L533.80,121.69 L534.30,121.71 L534.80,121.73 L535.30,121.75 L535.80,121.77 L536.30,121.79 L536.80,121.81 L537.30,121.83 L537.80,121.84 L538.30,121.86 L538.80,121.87 L539.30,121.88 L539.80,121.90 L539.90,121.90" stroke="#78BE3C" stroke-width="1.6" stroke-dasharray="4.6 3.2" fill="none" stroke-linejoin="round"/>
<line x1="25" y1="191.9" x2="45" y2="191.9" stroke="#2a7fcf" stroke-width="1.80"/>
<text x="46.5" y="194.28" font-size="6.6" textLength="28.8" lengthAdjust="spacingAndGlyphs" fill="#707070">U=0.0 m/s</text>
<line x1="78.6" y1="191.9" x2="98.6" y2="191.9" stroke="#ED7D31" stroke-width="1.40" stroke-dasharray="1 0.9" stroke-opacity="0.6"/>
<text x="100.5" y="194.28" font-size="6.6" textLength="28.8" lengthAdjust="spacingAndGlyphs" fill="#707070">U=0.1 m/s</text>
<line x1="133" y1="191.9" x2="153" y2="191.9" stroke="#ED7D31" stroke-width="1.70" stroke-dasharray="4.6 3.2"/>
<text x="154.7" y="194.28" font-size="6.6" textLength="30.6" lengthAdjust="spacingAndGlyphs" fill="#707070">U=-0.1 m/s</text>
<line x1="187.3" y1="191.9" x2="206.5" y2="191.9" stroke="#FF0000" stroke-width="1.40" stroke-dasharray="1 0.9" stroke-opacity="0.6"/>
<text x="209" y="194.28" font-size="6.6" textLength="28.8" lengthAdjust="spacingAndGlyphs" fill="#707070">U=0.2 m/s</text>
<line x1="25" y1="204.9" x2="45" y2="204.9" stroke="#FF0000" stroke-width="1.70" stroke-dasharray="4.6 3.2"/>
<text x="46.5" y="207.28" font-size="6.6" textLength="30.6" lengthAdjust="spacingAndGlyphs" fill="#707070">U=-0.2 m/s</text>
<line x1="79" y1="204.9" x2="98.6" y2="204.9" stroke="#78BE3C" stroke-width="1.40" stroke-dasharray="1 0.9" stroke-opacity="0.6"/>
<text x="100.7" y="207.28" font-size="6.6" textLength="28.8" lengthAdjust="spacingAndGlyphs" fill="#707070">U=0.3 m/s</text>
<line x1="133" y1="204.9" x2="153" y2="204.9" stroke="#78BE3C" stroke-width="1.70" stroke-dasharray="4.6 3.2"/>
<text x="154.7" y="207.28" font-size="6.6" textLength="30.6" lengthAdjust="spacingAndGlyphs" fill="#707070">U=-0.3 m/s</text>
<line x1="43.6" y1="218" x2="43.6" y2="309.5" stroke="#d9d9d9" stroke-width="1"/>
<line x1="43.6" y1="309.5" x2="256.2" y2="309.5" stroke="#d9d9d9" stroke-width="1"/>
<text x="17.10" y="220.80" font-size="6.9" textLength="21.2" lengthAdjust="spacingAndGlyphs" fill="#1a1a1a" class="yt">8 × 10<tspan font-size="4.21" dy="-2.69">7</tspan></text>
<text x="17.10" y="243.70" font-size="6.9" textLength="21.2" lengthAdjust="spacingAndGlyphs" fill="#1a1a1a" class="yt">6 × 10<tspan font-size="4.21" dy="-2.69">7</tspan></text>
<text x="17.10" y="266.50" font-size="6.9" textLength="21.2" lengthAdjust="spacingAndGlyphs" fill="#1a1a1a" class="yt">4 × 10<tspan font-size="4.21" dy="-2.69">7</tspan></text>
<text x="17.10" y="289.40" font-size="6.9" textLength="21.2" lengthAdjust="spacingAndGlyphs" fill="#1a1a1a" class="yt">2 × 10<tspan font-size="4.21" dy="-2.69">7</tspan></text>
<text x="36.60" y="312.30" font-size="6.9" text-anchor="end" fill="#1a1a1a" class="yt">0</text>
<text x="37.55" y="320.40" font-size="6.6" textLength="12.1" lengthAdjust="spacingAndGlyphs" fill="#7f7f7f">0.00</text>
<text x="90.70" y="320.40" font-size="6.6" textLength="12.1" lengthAdjust="spacingAndGlyphs" fill="#7f7f7f">0.50</text>
<text x="143.85" y="320.40" font-size="6.6" textLength="12.1" lengthAdjust="spacingAndGlyphs" fill="#7f7f7f">1.00</text>
<text x="197.00" y="320.40" font-size="6.6" textLength="12.1" lengthAdjust="spacingAndGlyphs" fill="#7f7f7f">1.50</text>
<text x="250.15" y="320.40" font-size="6.6" textLength="12.1" lengthAdjust="spacingAndGlyphs" fill="#7f7f7f">2.00</text>
<text x="136.00" y="331.70" font-size="6.3" textLength="28" lengthAdjust="spacingAndGlyphs" fill="#707070">ω [rad/s]</text>
<text transform="translate(5.7,264.4) rotate(-90)" x="-26.40" y="2.2" font-size="6.4" textLength="52.8" lengthAdjust="spacingAndGlyphs" fill="#707070">My/(H/2) [Nm/m]</text>
<clipPath id="cl3"><rect x="147" y="0" width="600" height="400"/></clipPath>
<clipPath id="sh3"><rect x="0" y="0" width="147" height="400"/></clipPath>
<path d="M53.60,306.20 L54.10,305.97 L54.60,305.74 L55.10,305.51 L55.60,305.27 L56.10,305.04 L56.60,304.80 L57.10,304.55 L57.60,304.30 L58.10,304.04 L58.60,303.77 L59.10,303.50 L59.60,303.22 L60.10,302.93 L60.60,302.62 L61.10,302.31 L61.60,301.98 L62.10,301.65 L62.60,301.30 L63.10,300.93 L63.60,300.55 L64.10,300.16 L64.60,299.74 L65.10,299.32 L65.60,298.87 L66.10,298.41 L66.60,297.92 L67.10,297.42 L67.60,296.90 L68.10,296.37 L68.60,295.82 L69.10,295.26 L69.60,294.69 L70.10,294.10 L70.60,293.50 L71.10,292.89 L71.60,292.28 L72.10,291.65 L72.60,291.02 L73.10,290.37 L73.60,289.72 L74.10,289.06 L74.60,288.38 L75.10,287.70 L75.60,287.01 L76.10,286.30 L76.60,285.58 L77.10,284.85 L77.60,284.11 L78.10,283.35 L78.60,282.57 L79.10,281.78 L79.60,280.95 L80.10,280.11 L80.60,279.23 L81.10,278.32 L81.60,277.38 L82.10,276.40 L82.60,275.39 L83.10,274.35 L83.60,273.28 L84.10,272.19 L84.60,271.10 L85.10,269.99 L85.60,268.88 L86.10,267.78 L86.60,266.68 L87.10,265.59 L87.60,264.48 L88.10,263.35 L88.60,262.19 L89.10,260.99 L89.60,259.75 L90.10,258.45 L90.60,257.12 L91.10,255.76 L91.60,254.40 L92.10,253.04 L92.60,251.70 L93.10,250.38 L93.60,249.09 L94.10,247.81 L94.60,246.53 L95.10,245.27 L95.60,244.01 L96.10,242.74 L96.60,241.47 L97.10,240.21 L97.60,238.96 L98.10,237.73 L98.60,236.51 L99.10,235.33 L99.60,234.17 L100.10,233.06 L100.60,231.99 L101.10,230.96 L101.60,229.97 L102.10,229.02 L102.60,228.11 L103.10,227.23 L103.60,226.40 L104.10,225.60 L104.60,224.84 L105.10,224.11 L105.60,223.43 L106.10,222.79 L106.60,222.19 L107.10,221.64 L107.60,221.14 L108.10,220.68 L108.60,220.28 L109.10,219.93 L109.60,219.63 L110.10,219.37 L110.60,219.15 L111.10,218.96 L111.60,218.81 L112.10,218.68 L112.60,218.59 L113.10,218.51 L113.60,218.46 L114.10,218.43 L114.60,218.43 L115.10,218.47 L115.60,218.55 L116.10,218.69 L116.60,218.89 L117.10,219.15 L117.60,219.49 L118.10,219.91 L118.60,220.41 L119.10,221.00 L119.60,221.67 L120.10,222.40 L120.60,223.20 L121.10,224.06 L121.60,224.96 L122.10,225.91 L122.60,226.90 L123.10,227.91 L123.60,228.94 L124.10,230.00 L124.60,231.09 L125.10,232.19 L125.60,233.31 L126.10,234.45 L126.60,235.60 L127.10,236.78 L127.60,237.96 L128.10,239.16 L128.60,240.37 L129.10,241.60 L129.60,242.85 L130.10,244.12 L130.60,245.41 L131.10,246.72 L131.60,248.05 L132.10,249.41 L132.60,250.80 L133.10,252.22 L133.60,253.65 L134.10,255.10 L134.60,256.56 L135.10,258.01 L135.60,259.45 L136.10,260.87 L136.60,262.26 L137.10,263.61 L137.60,264.92 L138.10,266.19 L138.60,267.44 L139.10,268.70 L139.60,270.00 L140.10,271.36 L140.60,272.80 L141.10,274.32 L141.60,275.87 L142.10,277.39 L142.60,278.82 L143.10,280.10 L143.60,281.18 L144.10,282.08 L144.60,282.85 L145.10,283.51 L145.60,284.12 L146.10,284.68 L146.60,285.20 L147.10,285.64 L147.60,286.00 L148.10,286.26 L148.60,286.40 L149.10,286.41 L149.60,286.29 L150.10,285.99 L150.60,285.47 L151.10,284.71 L151.60,283.69 L152.10,282.43 L152.60,280.95 L153.10,279.27 L153.60,277.40 L154.10,275.37 L154.60,273.23 L155.10,271.06 L155.60,268.93 L156.10,266.89 L156.60,265.01 L157.10,263.31 L157.60,261.78 L158.10,260.43 L158.60,259.24 L159.10,258.21 L159.60,257.33 L160.10,256.60 L160.60,256.00 L161.10,255.51 L161.60,255.13 L162.10,254.84 L162.60,254.63 L163.10,254.49 L163.60,254.42 L164.10,254.40 L164.60,254.42 L165.10,254.49 L165.60,254.62 L166.10,254.82 L166.60,255.09 L167.10,255.45 L167.60,255.90 L168.10,256.42 L168.60,256.99 L169.10,257.61 L169.60,258.26 L170.10,258.93 L170.60,259.62 L171.10,260.31 L171.60,261.02 L172.10,261.74 L172.60,262.46 L173.10,263.19 L173.60,263.92 L174.10,264.64 L174.60,265.35 L175.10,266.06 L175.60,266.75 L176.10,267.43 L176.60,268.10 L177.10,268.74 L177.60,269.38 L178.10,270.02 L178.60,270.65 L179.10,271.30 L179.60,271.96 L180.10,272.64 L180.60,273.34 L181.10,274.08 L181.60,274.83 L182.10,275.60 L182.60,276.38 L183.10,277.17 L183.60,277.96 L184.10,278.74 L184.60,279.50 L185.10,280.25 L185.60,280.98 L186.10,281.71 L186.60,282.43 L187.10,283.15 L187.60,283.88 L188.10,284.63 L188.60,285.39 L189.10,286.17 L189.60,286.98 L190.10,287.80 L190.60,288.63 L191.10,289.45 L191.60,290.25 L192.10,291.04 L192.60,291.80 L193.10,292.52 L193.60,293.22 L194.10,293.89 L194.60,294.55 L195.10,295.21 L195.60,295.87 L196.10,296.54 L196.60,297.23 L197.10,297.95 L197.60,298.69 L198.10,299.46 L198.60,300.22 L199.10,300.97 L199.60,301.68 L200.10,302.35 L200.60,302.95 L201.10,303.49 L201.60,303.96 L202.10,304.36 L202.60,304.69 L203.10,304.95 L203.60,305.14 L204.10,305.27 L204.60,305.31 L205.10,305.28 L205.60,305.16 L206.10,304.98 L206.60,304.73 L207.10,304.44 L207.60,304.10 L208.10,303.74 L208.60,303.38 L209.10,303.04 L209.60,302.75 L210.10,302.50 L210.60,302.31 L211.10,302.15 L211.60,302.03 L212.10,301.93 L212.60,301.84 L213.10,301.75 L213.60,301.66 L214.10,301.58 L214.60,301.50 L215.10,301.43 L215.60,301.38 L216.10,301.33 L216.60,301.31 L217.10,301.30 L217.60,301.31 L218.10,301.34 L218.60,301.39 L219.10,301.45 L219.60,301.53 L220.10,301.61 L220.60,301.70 L221.10,301.80 L221.60,301.90 L222.10,302.01 L222.60,302.12 L223.10,302.23 L223.60,302.35 L224.10,302.48 L224.60,302.61 L225.10,302.74 L225.60,302.89 L226.10,303.03 L226.60,303.18 L227.10,303.34 L227.60,303.50 L228.10,303.67 L228.60,303.85 L229.10,304.03 L229.60,304.21 L230.10,304.40 L230.60,304.60 L231.10,304.79 L231.60,304.98 L232.10,305.18 L232.60,305.36 L233.10,305.55 L233.60,305.72 L234.10,305.90 L234.60,306.08 L235.10,306.26 L235.60,306.44 L236.10,306.64 L236.60,306.85 L237.10,307.06 L237.60,307.26 L238.10,307.47 L238.60,307.66 L239.10,307.84 L239.60,307.99 L240.10,308.12 L240.60,308.23 L241.10,308.32 L241.60,308.40 L242.10,308.46 L242.60,308.50 L243.10,308.53 L243.60,308.55 L244.10,308.56 L244.60,308.56 L245.10,308.55 L245.60,308.53 L246.10,308.49 L246.60,308.45 L247.10,308.39 L247.60,308.33 L248.10,308.25 L248.60,308.15 L249.10,308.05 L249.60,307.92 L250.10,307.79 L250.60,307.64 L251.10,307.49 L251.60,307.33 L252.10,307.16 L252.60,307.00 L253.10,306.84 L253.60,306.68 L254.10,306.53 L254.60,306.38 L255.10,306.23 L255.60,306.08 L256.10,305.93 L256.20,305.90" stroke="#2a7fcf" stroke-width="1.9" fill="none" stroke-linejoin="round" clip-path="url(#cl3)"/>
<path d="M53.60,306.20 L54.10,305.97 L54.60,305.74 L55.10,305.51 L55.60,305.27 L56.10,305.04 L56.60,304.80 L57.10,304.55 L57.60,304.30 L58.10,304.04 L58.60,303.77 L59.10,303.50 L59.60,303.22 L60.10,302.93 L60.60,302.62 L61.10,302.31 L61.60,301.98 L62.10,301.65 L62.60,301.30 L63.10,300.93 L63.60,300.55 L64.10,300.16 L64.60,299.74 L65.10,299.32 L65.60,298.87 L66.10,298.41 L66.60,297.92 L67.10,297.42 L67.60,296.90 L68.10,296.37 L68.60,295.82 L69.10,295.26 L69.60,294.69 L70.10,294.10 L70.60,293.50 L71.10,292.89 L71.60,292.28 L72.10,291.65 L72.60,291.02 L73.10,290.37 L73.60,289.72 L74.10,289.06 L74.60,288.38 L75.10,287.70 L75.60,287.01 L76.10,286.30 L76.60,285.58 L77.10,284.85 L77.60,284.11 L78.10,283.35 L78.60,282.57 L79.10,281.78 L79.60,280.95 L80.10,280.11 L80.60,279.23 L81.10,278.32 L81.60,277.38 L82.10,276.40 L82.60,275.39 L83.10,274.35 L83.60,273.28 L84.10,272.19 L84.60,271.10 L85.10,269.99 L85.60,268.88 L86.10,267.78 L86.60,266.68 L87.10,265.59 L87.60,264.48 L88.10,263.35 L88.60,262.19 L89.10,260.99 L89.60,259.75 L90.10,258.45 L90.60,257.12 L91.10,255.76 L91.60,254.40 L92.10,253.04 L92.60,251.70 L93.10,250.38 L93.60,249.09 L94.10,247.81 L94.60,246.53 L95.10,245.27 L95.60,244.01 L96.10,242.74 L96.60,241.47 L97.10,240.21 L97.60,238.96 L98.10,237.73 L98.60,236.51 L99.10,235.33 L99.60,234.17 L100.10,233.06 L100.60,231.99 L101.10,230.96 L101.60,229.97 L102.10,229.02 L102.60,228.11 L103.10,227.23 L103.60,226.40 L104.10,225.60 L104.60,224.84 L105.10,224.11 L105.60,223.43 L106.10,222.79 L106.60,222.19 L107.10,221.64 L107.60,221.14 L108.10,220.68 L108.60,220.28 L109.10,219.93 L109.60,219.63 L110.10,219.37 L110.60,219.15 L111.10,218.96 L111.60,218.81 L112.10,218.68 L112.60,218.59 L113.10,218.51 L113.60,218.46 L114.10,218.43 L114.60,218.43 L115.10,218.47 L115.60,218.55 L116.10,218.69 L116.60,218.89 L117.10,219.15 L117.60,219.49 L118.10,219.91 L118.60,220.41 L119.10,221.00 L119.60,221.67 L120.10,222.40 L120.60,223.20 L121.10,224.06 L121.60,224.96 L122.10,225.91 L122.60,226.90 L123.10,227.91 L123.60,228.94 L124.10,230.00 L124.60,231.09 L125.10,232.19 L125.60,233.31 L126.10,234.45 L126.60,235.60 L127.10,236.78 L127.60,237.96 L128.10,239.16 L128.60,240.37 L129.10,241.60 L129.60,242.85 L130.10,244.12 L130.60,245.41 L131.10,246.72 L131.60,248.05 L132.10,249.41 L132.60,250.80 L133.10,252.22 L133.60,253.65 L134.10,255.10 L134.60,256.56 L135.10,258.01 L135.60,259.45 L136.10,260.87 L136.60,262.26 L137.10,263.61 L137.60,264.92 L138.10,266.19 L138.60,267.44 L139.10,268.70 L139.60,270.00 L140.10,271.36 L140.60,272.80 L141.10,274.32 L141.60,275.87 L142.10,277.39 L142.60,278.82 L143.10,280.10 L143.60,281.18 L144.10,282.08 L144.60,282.85 L145.10,283.51 L145.60,284.12 L146.10,284.68 L146.60,285.20 L147.10,285.64 L147.60,286.00 L148.10,286.26 L148.60,286.40 L149.10,286.41 L149.60,286.29 L150.10,285.99 L150.60,285.47 L151.10,284.71 L151.60,283.69 L152.10,282.43 L152.60,280.95 L153.10,279.27 L153.60,277.40 L154.10,275.37 L154.60,273.23 L155.10,271.06 L155.60,268.93 L156.10,266.89 L156.60,265.01 L157.10,263.31 L157.60,261.78 L158.10,260.43 L158.60,259.24 L159.10,258.21 L159.60,257.33 L160.10,256.60 L160.60,256.00 L161.10,255.51 L161.60,255.13 L162.10,254.84 L162.60,254.63 L163.10,254.49 L163.60,254.42 L164.10,254.40 L164.60,254.42 L165.10,254.49 L165.60,254.62 L166.10,254.82 L166.60,255.09 L167.10,255.45 L167.60,255.90 L168.10,256.42 L168.60,256.99 L169.10,257.61 L169.60,258.26 L170.10,258.93 L170.60,259.62 L171.10,260.31 L171.60,261.02 L172.10,261.74 L172.60,262.46 L173.10,263.19 L173.60,263.92 L174.10,264.64 L174.60,265.35 L175.10,266.06 L175.60,266.75 L176.10,267.43 L176.60,268.10 L177.10,268.74 L177.60,269.38 L178.10,270.02 L178.60,270.65 L179.10,271.30 L179.60,271.96 L180.10,272.64 L180.60,273.34 L181.10,274.08 L181.60,274.83 L182.10,275.60 L182.60,276.38 L183.10,277.17 L183.60,277.96 L184.10,278.74 L184.60,279.50 L185.10,280.25 L185.60,280.98 L186.10,281.71 L186.60,282.43 L187.10,283.15 L187.60,283.88 L188.10,284.63 L188.60,285.39 L189.10,286.17 L189.60,286.98 L190.10,287.80 L190.60,288.63 L191.10,289.45 L191.60,290.25 L192.10,291.04 L192.60,291.80 L193.10,292.52 L193.60,293.22 L194.10,293.89 L194.60,294.55 L195.10,295.21 L195.60,295.87 L196.10,296.54 L196.60,297.23 L197.10,297.95 L197.60,298.69 L198.10,299.46 L198.60,300.22 L199.10,300.97 L199.60,301.68 L200.10,302.35 L200.60,302.95 L201.10,303.49 L201.60,303.96 L202.10,304.36 L202.60,304.69 L203.10,304.95 L203.60,305.14 L204.10,305.27 L204.60,305.31 L205.10,305.28 L205.60,305.16 L206.10,304.98 L206.60,304.73 L207.10,304.44 L207.60,304.10 L208.10,303.74 L208.60,303.38 L209.10,303.04 L209.60,302.75 L210.10,302.50 L210.60,302.31 L211.10,302.15 L211.60,302.03 L212.10,301.93 L212.60,301.84 L213.10,301.75 L213.60,301.66 L214.10,301.58 L214.60,301.50 L215.10,301.43 L215.60,301.38 L216.10,301.33 L216.60,301.31 L217.10,301.30 L217.60,301.31 L218.10,301.34 L218.60,301.39 L219.10,301.45 L219.60,301.53 L220.10,301.61 L220.60,301.70 L221.10,301.80 L221.60,301.90 L222.10,302.01 L222.60,302.12 L223.10,302.23 L223.60,302.35 L224.10,302.48 L224.60,302.61 L225.10,302.74 L225.60,302.89 L226.10,303.03 L226.60,303.18 L227.10,303.34 L227.60,303.50 L228.10,303.67 L228.60,303.85 L229.10,304.03 L229.60,304.21 L230.10,304.40 L230.60,304.60 L231.10,304.79 L231.60,304.98 L232.10,305.18 L232.60,305.36 L233.10,305.55 L233.60,305.72 L234.10,305.90 L234.60,306.08 L235.10,306.26 L235.60,306.44 L236.10,306.64 L236.60,306.85 L237.10,307.06 L237.60,307.26 L238.10,307.47 L238.60,307.66 L239.10,307.84 L239.60,307.99 L240.10,308.12 L240.60,308.23 L241.10,308.32 L241.60,308.40 L242.10,308.46 L242.60,308.50 L243.10,308.53 L243.60,308.55 L244.10,308.56 L244.60,308.56 L245.10,308.55 L245.60,308.53 L246.10,308.49 L246.60,308.45 L247.10,308.39 L247.60,308.33 L248.10,308.25 L248.60,308.15 L249.10,308.05 L249.60,307.92 L250.10,307.79 L250.60,307.64 L251.10,307.49 L251.60,307.33 L252.10,307.16 L252.60,307.00 L253.10,306.84 L253.60,306.68 L254.10,306.53 L254.60,306.38 L255.10,306.23 L255.60,306.08 L256.10,305.93 L256.20,305.90" stroke="#2a7fcf" stroke-width="1.4" fill="none" stroke-linejoin="round" clip-path="url(#sh3)"/>
<path d="M53.60,306.20 L54.10,305.97 L54.60,305.74 L55.10,305.51 L55.60,305.27 L56.10,305.04 L56.60,304.80 L57.10,304.55 L57.60,304.30 L58.10,304.04 L58.60,303.77 L59.10,303.50 L59.60,303.22 L60.10,302.93 L60.60,302.62 L61.10,302.31 L61.60,301.98 L62.10,301.65 L62.60,301.30 L63.10,300.93 L63.60,300.55 L64.10,300.16 L64.60,299.74 L65.10,299.32 L65.60,298.87 L66.10,298.41 L66.60,297.92 L67.10,297.42 L67.60,296.90 L68.10,296.37 L68.60,295.82 L69.10,295.26 L69.60,294.69 L70.10,294.10 L70.60,293.50 L71.10,292.89 L71.60,292.28 L72.10,291.65 L72.60,291.02 L73.10,290.37 L73.60,289.72 L74.10,289.06 L74.60,288.38 L75.10,287.70 L75.60,287.01 L76.10,286.30 L76.60,285.58 L77.10,284.85 L77.60,284.11 L78.10,283.35 L78.60,282.57 L79.10,281.78 L79.60,280.95 L80.10,280.11 L80.60,279.23 L81.10,278.32 L81.60,277.38 L82.10,276.40 L82.60,275.39 L83.10,274.35 L83.60,273.28 L84.10,272.19 L84.60,271.10 L85.10,269.99 L85.60,268.88 L86.10,267.78 L86.60,266.68 L87.10,265.59 L87.60,264.48 L88.10,263.35 L88.60,262.19 L89.10,260.99 L89.60,259.75 L90.10,258.45 L90.60,257.12 L91.10,255.76 L91.60,254.40 L92.10,253.04 L92.60,251.70 L93.10,250.38 L93.60,249.09 L94.10,247.81 L94.60,246.53 L95.10,245.27 L95.60,244.01 L96.10,242.74 L96.60,241.47 L97.10,240.21 L97.60,238.96 L98.10,237.73 L98.60,236.51 L99.10,235.33 L99.60,234.17 L100.10,233.06 L100.60,231.99 L101.10,230.96 L101.60,229.97 L102.10,229.02 L102.60,228.11 L103.10,227.23 L103.60,226.40 L104.10,225.60 L104.60,224.84 L105.10,224.11 L105.60,223.43 L106.10,222.79 L106.60,222.19 L107.10,221.64 L107.60,221.14 L108.10,220.68 L108.60,220.28 L109.10,219.93 L109.60,219.63 L110.10,219.37 L110.60,219.15 L111.10,218.96 L111.60,218.81 L112.10,218.68 L112.60,218.59 L113.10,218.51 L113.60,218.46 L114.10,218.43 L114.60,218.43 L115.10,218.47 L115.60,218.55 L116.10,218.69 L116.60,218.89 L117.10,219.15 L117.60,219.49 L118.10,219.91 L118.60,220.41 L119.10,221.00 L119.60,221.67 L120.10,222.40 L120.60,223.20 L121.10,224.06 L121.60,224.96 L122.10,225.91 L122.60,226.90 L123.10,227.91 L123.60,228.94 L124.10,230.00 L124.60,231.09 L125.10,232.19 L125.60,233.31 L126.10,234.45 L126.60,235.60 L127.10,236.78 L127.60,237.96 L128.10,239.16 L128.60,240.37 L129.10,241.60 L129.60,242.85 L130.10,244.12 L130.60,245.41 L131.10,246.72 L131.60,248.05 L132.10,249.41 L132.60,250.80 L133.10,252.22 L133.60,253.65 L134.10,255.10 L134.60,256.56 L135.10,258.01 L135.60,259.45 L136.10,260.87 L136.60,262.26 L137.10,263.61 L137.60,264.92 L138.10,266.19 L138.60,267.44 L139.10,268.70 L139.60,270.00 L140.10,271.36 L140.60,272.80 L141.10,274.32 L141.60,275.87 L142.10,277.39 L142.60,278.82 L143.10,280.10 L143.60,281.18 L144.10,282.08 L144.60,282.85 L145.10,283.51 L145.60,284.12 L146.10,284.69 L146.60,285.20 L147.10,285.64 L147.60,286.00 L148.10,286.25 L148.60,286.39 L149.10,286.41 L149.60,286.31 L150.10,286.02 L150.60,285.50 L151.10,284.65 L151.60,283.49 L152.10,282.05 L152.60,280.38 L153.10,278.50 L153.60,276.47 L154.10,274.33 L154.60,272.11 L155.10,269.88 L155.60,267.69 L156.10,265.59 L156.60,263.62 L157.10,261.80 L157.60,260.15 L158.10,258.66 L158.60,257.34 L159.10,256.20 L159.60,255.22 L160.10,254.39 L160.60,253.70 L161.10,253.13 L161.60,252.66 L162.10,252.30 L162.60,252.02 L163.10,251.83 L163.60,251.70 L164.10,251.64 L164.60,251.63 L165.10,251.69 L165.60,251.82 L166.10,252.04 L166.60,252.35 L167.10,252.76 L167.60,253.27 L168.10,253.86 L168.60,254.52 L169.10,255.22 L169.60,255.94 L170.10,256.67 L170.60,257.41 L171.10,258.16 L171.60,258.92 L172.10,259.69 L172.60,260.49 L173.10,261.29 L173.60,262.10 L174.10,262.92 L174.60,263.74 L175.10,264.55 L175.60,265.36 L176.10,266.15 L176.60,266.92 L177.10,267.68 L177.60,268.42 L178.10,269.15 L178.60,269.89 L179.10,270.62 L179.60,271.36 L180.10,272.11 L180.60,272.87 L181.10,273.66 L181.60,274.46 L182.10,275.26 L182.60,276.08 L183.10,276.89 L183.60,277.70 L184.10,278.51 L184.60,279.30 L185.10,280.08 L185.60,280.85 L186.10,281.61 L186.60,282.36 L187.10,283.11 L187.60,283.87 L188.10,284.62 L188.60,285.39 L189.10,286.17 L189.60,286.96 L190.10,287.75 L190.60,288.54 L191.10,289.32 L191.60,290.09 L192.10,290.84 L192.60,291.56 L193.10,292.26 L193.60,292.93 L194.10,293.58 L194.60,294.22 L195.10,294.85 L195.60,295.48 L196.10,296.11 L196.60,296.76 L197.10,297.41 L197.60,298.09 L198.10,298.77 L198.60,299.44 L199.10,300.10 L199.60,300.74 L200.10,301.33 L200.60,301.88 L201.10,302.38 L201.60,302.81 L202.10,303.19 L202.60,303.49 L203.10,303.74 L203.60,303.91 L204.10,304.02 L204.60,304.06 L205.10,304.05 L205.60,303.97 L206.10,303.84 L206.60,303.67 L207.10,303.45 L207.60,303.21 L208.10,302.96 L208.60,302.70 L209.10,302.45 L209.60,302.24 L210.10,302.06 L210.60,301.92 L211.10,301.81 L211.60,301.72 L212.10,301.65 L212.60,301.58 L213.10,301.53 L213.60,301.47 L214.10,301.42 L214.60,301.38 L215.10,301.34 L215.60,301.31 L216.10,301.30 L216.60,301.29 L217.10,301.30 L217.60,301.33 L218.10,301.36 L218.60,301.41 L219.10,301.47 L219.60,301.54 L220.10,301.62 L220.60,301.71 L221.10,301.80 L221.60,301.90 L222.10,302.00 L222.60,302.11 L223.10,302.23 L223.60,302.35 L224.10,302.48 L224.60,302.61 L225.10,302.74 L225.60,302.89 L226.10,303.03 L226.60,303.18 L227.10,303.34 L227.60,303.50 L228.10,303.66 L228.60,303.83 L229.10,304.00 L229.60,304.18 L230.10,304.37 L230.60,304.55 L231.10,304.74 L231.60,304.93 L232.10,305.12 L232.60,305.31 L233.10,305.49 L233.60,305.68 L234.10,305.86 L234.60,306.05 L235.10,306.24 L235.60,306.44 L236.10,306.64 L236.60,306.85 L237.10,307.06 L237.60,307.27 L238.10,307.47 L238.60,307.66 L239.10,307.84 L239.60,307.99 L240.10,308.12 L240.60,308.23 L241.10,308.32 L241.60,308.40 L242.10,308.45 L242.60,308.50 L243.10,308.53 L243.60,308.55 L244.10,308.56 L244.60,308.56 L245.10,308.55 L245.60,308.53 L246.10,308.49 L246.60,308.45 L247.10,308.39 L247.60,308.33 L248.10,308.25 L248.60,308.15 L249.10,308.05 L249.60,307.92 L250.10,307.79 L250.60,307.64 L251.10,307.49 L251.60,307.33 L252.10,307.16 L252.60,307.00 L253.10,306.84 L253.60,306.68 L254.10,306.53 L254.60,306.38 L255.10,306.23 L255.60,306.08 L256.10,305.93 L256.20,305.90" stroke="#ED7D31" stroke-width="1.1" stroke-dasharray="1 1.1" fill="none" stroke-linejoin="round" clip-path="url(#cl3)" stroke-opacity="0.75"/>
<path d="M53.60,306.20 L54.10,305.97 L54.60,305.74 L55.10,305.51 L55.60,305.27 L56.10,305.04 L56.60,304.80 L57.10,304.55 L57.60,304.30 L58.10,304.04 L58.60,303.77 L59.10,303.50 L59.60,303.22 L60.10,302.93 L60.60,302.62 L61.10,302.31 L61.60,301.98 L62.10,301.65 L62.60,301.30 L63.10,300.93 L63.60,300.55 L64.10,300.16 L64.60,299.74 L65.10,299.32 L65.60,298.87 L66.10,298.41 L66.60,297.92 L67.10,297.42 L67.60,296.90 L68.10,296.37 L68.60,295.82 L69.10,295.26 L69.60,294.69 L70.10,294.10 L70.60,293.50 L71.10,292.89 L71.60,292.28 L72.10,291.65 L72.60,291.02 L73.10,290.37 L73.60,289.72 L74.10,289.06 L74.60,288.38 L75.10,287.70 L75.60,287.01 L76.10,286.30 L76.60,285.58 L77.10,284.85 L77.60,284.11 L78.10,283.35 L78.60,282.57 L79.10,281.78 L79.60,280.95 L80.10,280.11 L80.60,279.23 L81.10,278.32 L81.60,277.38 L82.10,276.40 L82.60,275.39 L83.10,274.35 L83.60,273.28 L84.10,272.19 L84.60,271.10 L85.10,269.99 L85.60,268.88 L86.10,267.78 L86.60,266.68 L87.10,265.59 L87.60,264.48 L88.10,263.35 L88.60,262.19 L89.10,260.99 L89.60,259.75 L90.10,258.45 L90.60,257.12 L91.10,255.76 L91.60,254.40 L92.10,253.04 L92.60,251.70 L93.10,250.38 L93.60,249.09 L94.10,247.81 L94.60,246.53 L95.10,245.27 L95.60,244.01 L96.10,242.74 L96.60,241.47 L97.10,240.21 L97.60,238.96 L98.10,237.73 L98.60,236.51 L99.10,235.33 L99.60,234.17 L100.10,233.06 L100.60,231.99 L101.10,230.96 L101.60,229.97 L102.10,229.02 L102.60,228.11 L103.10,227.23 L103.60,226.40 L104.10,225.60 L104.60,224.84 L105.10,224.11 L105.60,223.43 L106.10,222.79 L106.60,222.19 L107.10,221.64 L107.60,221.14 L108.10,220.68 L108.60,220.28 L109.10,219.93 L109.60,219.63 L110.10,219.37 L110.60,219.15 L111.10,218.96 L111.60,218.81 L112.10,218.68 L112.60,218.59 L113.10,218.51 L113.60,218.46 L114.10,218.43 L114.60,218.43 L115.10,218.47 L115.60,218.55 L116.10,218.69 L116.60,218.89 L117.10,219.15 L117.60,219.49 L118.10,219.91 L118.60,220.41 L119.10,221.00 L119.60,221.67 L120.10,222.40 L120.60,223.20 L121.10,224.06 L121.60,224.96 L122.10,225.91 L122.60,226.90 L123.10,227.91 L123.60,228.94 L124.10,230.00 L124.60,231.09 L125.10,232.19 L125.60,233.31 L126.10,234.45 L126.60,235.60 L127.10,236.78 L127.60,237.96 L128.10,239.16 L128.60,240.37 L129.10,241.60 L129.60,242.85 L130.10,244.12 L130.60,245.41 L131.10,246.72 L131.60,248.05 L132.10,249.41 L132.60,250.80 L133.10,252.22 L133.60,253.65 L134.10,255.10 L134.60,256.56 L135.10,258.01 L135.60,259.45 L136.10,260.87 L136.60,262.26 L137.10,263.61 L137.60,264.92 L138.10,266.19 L138.60,267.44 L139.10,268.70 L139.60,270.00 L140.10,271.36 L140.60,272.80 L141.10,274.32 L141.60,275.87 L142.10,277.39 L142.60,278.82 L143.10,280.10 L143.60,281.18 L144.10,282.08 L144.60,282.85 L145.10,283.51 L145.60,284.12 L146.10,284.68 L146.60,285.19 L147.10,285.64 L147.60,286.00 L148.10,286.26 L148.60,286.40 L149.10,286.41 L149.60,286.28 L150.10,285.97 L150.60,285.46 L151.10,284.74 L151.60,283.78 L152.10,282.62 L152.60,281.27 L153.10,279.73 L153.60,278.04 L154.10,276.21 L154.60,274.29 L155.10,272.33 L155.60,270.41 L156.10,268.57 L156.60,266.87 L157.10,265.32 L157.60,263.93 L158.10,262.69 L158.60,261.60 L159.10,260.66 L159.60,259.87 L160.10,259.21 L160.60,258.67 L161.10,258.23 L161.60,257.88 L162.10,257.61 L162.60,257.41 L163.10,257.28 L163.60,257.20 L164.10,257.16 L164.60,257.17 L165.10,257.22 L165.60,257.31 L166.10,257.46 L166.60,257.66 L167.10,257.92 L167.60,258.25 L168.10,258.63 L168.60,259.06 L169.10,259.52 L169.60,260.02 L170.10,260.55 L170.60,261.11 L171.10,261.69 L171.60,262.29 L172.10,262.92 L172.60,263.56 L173.10,264.20 L173.60,264.85 L174.10,265.49 L174.60,266.13 L175.10,266.75 L175.60,267.36 L176.10,267.95 L176.60,268.53 L177.10,269.10 L177.60,269.66 L178.10,270.23 L178.60,270.81 L179.10,271.40 L179.60,272.02 L180.10,272.66 L180.60,273.34 L181.10,274.06 L181.60,274.80 L182.10,275.57 L182.60,276.36 L183.10,277.15 L183.60,277.95 L184.10,278.73 L184.60,279.50 L185.10,280.25 L185.60,280.98 L186.10,281.69 L186.60,282.41 L187.10,283.13 L187.60,283.86 L188.10,284.61 L188.60,285.38 L189.10,286.19 L189.60,287.02 L190.10,287.87 L190.60,288.73 L191.10,289.59 L191.60,290.45 L192.10,291.28 L192.60,292.08 L193.10,292.85 L193.60,293.58 L194.10,294.30 L194.60,295.00 L195.10,295.70 L195.60,296.41 L196.10,297.13 L196.60,297.87 L197.10,298.64 L197.60,299.44 L198.10,300.26 L198.60,301.07 L199.10,301.86 L199.60,302.61 L200.10,303.31 L200.60,303.92 L201.10,304.45 L201.60,304.91 L202.10,305.31 L202.60,305.67 L203.10,305.98 L203.60,306.25 L204.10,306.43 L204.60,306.51 L205.10,306.46 L205.60,306.30 L206.10,306.05 L206.60,305.72 L207.10,305.35 L207.60,304.93 L208.10,304.49 L208.60,304.03 L209.10,303.57 L209.60,303.14 L210.10,302.74 L210.60,302.37 L211.10,302.05 L211.60,301.76 L212.10,301.52 L212.60,301.32 L213.10,301.16 L213.60,301.03 L214.10,300.93 L214.60,300.86 L215.10,300.81 L215.60,300.79 L216.10,300.80 L216.60,300.81 L217.10,300.85 L217.60,300.89 L218.10,300.93 L218.60,300.97 L219.10,301.02 L219.60,301.06 L220.10,301.12 L220.60,301.18 L221.10,301.26 L221.60,301.35 L222.10,301.46 L222.60,301.59 L223.10,301.74 L223.60,301.90 L224.10,302.08 L224.60,302.27 L225.10,302.47 L225.60,302.68 L226.10,302.88 L226.60,303.09 L227.10,303.29 L227.60,303.50 L228.10,303.71 L228.60,303.91 L229.10,304.11 L229.60,304.32 L230.10,304.52 L230.60,304.72 L231.10,304.91 L231.60,305.10 L232.10,305.28 L232.60,305.45 L233.10,305.62 L233.60,305.78 L234.10,305.94 L234.60,306.10 L235.10,306.27 L235.60,306.45 L236.10,306.64 L236.60,306.84 L237.10,307.05 L237.60,307.26 L238.10,307.46 L238.60,307.66 L239.10,307.83 L239.60,307.99 L240.10,308.12 L240.60,308.23 L241.10,308.32 L241.60,308.40 L242.10,308.46 L242.60,308.50 L243.10,308.53 L243.60,308.55 L244.10,308.56 L244.60,308.56 L245.10,308.55 L245.60,308.53 L246.10,308.49 L246.60,308.45 L247.10,308.39 L247.60,308.33 L248.10,308.25 L248.60,308.15 L249.10,308.05 L249.60,307.92 L250.10,307.79 L250.60,307.64 L251.10,307.49 L251.60,307.33 L252.10,307.16 L252.60,307.00 L253.10,306.84 L253.60,306.68 L254.10,306.53 L254.60,306.38 L255.10,306.23 L255.60,306.08 L256.10,305.93 L256.20,305.90" stroke="#ED7D31" stroke-width="1.6" stroke-dasharray="4.6 3.2" fill="none" stroke-linejoin="round" clip-path="url(#cl3)"/>
<path d="M53.60,306.20 L54.10,305.97 L54.60,305.74 L55.10,305.51 L55.60,305.27 L56.10,305.04 L56.60,304.80 L57.10,304.55 L57.60,304.30 L58.10,304.04 L58.60,303.77 L59.10,303.50 L59.60,303.22 L60.10,302.93 L60.60,302.62 L61.10,302.31 L61.60,301.98 L62.10,301.65 L62.60,301.30 L63.10,300.93 L63.60,300.55 L64.10,300.16 L64.60,299.74 L65.10,299.32 L65.60,298.87 L66.10,298.41 L66.60,297.92 L67.10,297.42 L67.60,296.90 L68.10,296.37 L68.60,295.82 L69.10,295.26 L69.60,294.69 L70.10,294.10 L70.60,293.50 L71.10,292.89 L71.60,292.28 L72.10,291.65 L72.60,291.02 L73.10,290.37 L73.60,289.72 L74.10,289.06 L74.60,288.38 L75.10,287.70 L75.60,287.01 L76.10,286.30 L76.60,285.58 L77.10,284.85 L77.60,284.11 L78.10,283.35 L78.60,282.57 L79.10,281.78 L79.60,280.95 L80.10,280.11 L80.60,279.23 L81.10,278.32 L81.60,277.38 L82.10,276.40 L82.60,275.39 L83.10,274.35 L83.60,273.28 L84.10,272.19 L84.60,271.10 L85.10,269.99 L85.60,268.88 L86.10,267.78 L86.60,266.68 L87.10,265.59 L87.60,264.48 L88.10,263.35 L88.60,262.19 L89.10,260.99 L89.60,259.75 L90.10,258.45 L90.60,257.12 L91.10,255.76 L91.60,254.40 L92.10,253.04 L92.60,251.70 L93.10,250.38 L93.60,249.09 L94.10,247.81 L94.60,246.53 L95.10,245.27 L95.60,244.01 L96.10,242.74 L96.60,241.47 L97.10,240.21 L97.60,238.96 L98.10,237.73 L98.60,236.51 L99.10,235.33 L99.60,234.17 L100.10,233.06 L100.60,231.99 L101.10,230.96 L101.60,229.97 L102.10,229.02 L102.60,228.11 L103.10,227.23 L103.60,226.40 L104.10,225.60 L104.60,224.84 L105.10,224.11 L105.60,223.43 L106.10,222.79 L106.60,222.19 L107.10,221.64 L107.60,221.14 L108.10,220.68 L108.60,220.28 L109.10,219.93 L109.60,219.63 L110.10,219.37 L110.60,219.15 L111.10,218.96 L111.60,218.81 L112.10,218.68 L112.60,218.59 L113.10,218.51 L113.60,218.46 L114.10,218.43 L114.60,218.43 L115.10,218.47 L115.60,218.55 L116.10,218.69 L116.60,218.89 L117.10,219.15 L117.60,219.49 L118.10,219.91 L118.60,220.41 L119.10,221.00 L119.60,221.67 L120.10,222.40 L120.60,223.20 L121.10,224.06 L121.60,224.96 L122.10,225.91 L122.60,226.90 L123.10,227.91 L123.60,228.94 L124.10,230.00 L124.60,231.09 L125.10,232.19 L125.60,233.31 L126.10,234.45 L126.60,235.60 L127.10,236.78 L127.60,237.96 L128.10,239.16 L128.60,240.37 L129.10,241.60 L129.60,242.85 L130.10,244.12 L130.60,245.41 L131.10,246.72 L131.60,248.05 L132.10,249.41 L132.60,250.80 L133.10,252.22 L133.60,253.65 L134.10,255.10 L134.60,256.56 L135.10,258.01 L135.60,259.45 L136.10,260.87 L136.60,262.26 L137.10,263.61 L137.60,264.92 L138.10,266.19 L138.60,267.44 L139.10,268.70 L139.60,270.00 L140.10,271.36 L140.60,272.80 L141.10,274.32 L141.60,275.87 L142.10,277.39 L142.60,278.82 L143.10,280.10 L143.60,281.18 L144.10,282.08 L144.60,282.85 L145.10,283.51 L145.60,284.12 L146.10,284.69 L146.60,285.20 L147.10,285.65 L147.60,286.00 L148.10,286.24 L148.60,286.38 L149.10,286.41 L149.60,286.32 L150.10,286.06 L150.60,285.52 L151.10,284.61 L151.60,283.32 L152.10,281.72 L152.60,279.87 L153.10,277.83 L153.60,275.66 L154.10,273.42 L154.60,271.13 L155.10,268.85 L155.60,266.61 L156.10,264.44 L156.60,262.40 L157.10,260.48 L157.60,258.72 L158.10,257.11 L158.60,255.68 L159.10,254.44 L159.60,253.37 L160.10,252.45 L160.60,251.68 L161.10,251.04 L161.60,250.51 L162.10,250.08 L162.60,249.74 L163.10,249.49 L163.60,249.32 L164.10,249.22 L164.60,249.20 L165.10,249.24 L165.60,249.38 L166.10,249.60 L166.60,249.94 L167.10,250.39 L167.60,250.96 L168.10,251.63 L168.60,252.36 L169.10,253.13 L169.60,253.91 L170.10,254.70 L170.60,255.48 L171.10,256.27 L171.60,257.08 L172.10,257.90 L172.60,258.75 L173.10,259.63 L173.60,260.52 L174.10,261.42 L174.60,262.33 L175.10,263.24 L175.60,264.14 L176.10,265.03 L176.60,265.89 L177.10,266.74 L177.60,267.58 L178.10,268.40 L178.60,269.21 L179.10,270.02 L179.60,270.83 L180.10,271.65 L180.60,272.46 L181.10,273.29 L181.60,274.13 L182.10,274.97 L182.60,275.80 L183.10,276.64 L183.60,277.48 L184.10,278.31 L184.60,279.12 L185.10,279.93 L185.60,280.73 L186.10,281.52 L186.60,282.30 L187.10,283.08 L187.60,283.85 L188.10,284.62 L188.60,285.39 L189.10,286.16 L189.60,286.93 L190.10,287.70 L190.60,288.46 L191.10,289.20 L191.60,289.94 L192.10,290.65 L192.60,291.35 L193.10,292.02 L193.60,292.67 L194.10,293.31 L194.60,293.93 L195.10,294.54 L195.60,295.14 L196.10,295.74 L196.60,296.34 L197.10,296.95 L197.60,297.56 L198.10,298.16 L198.60,298.76 L199.10,299.35 L199.60,299.91 L200.10,300.45 L200.60,300.94 L201.10,301.40 L201.60,301.81 L202.10,302.16 L202.60,302.45 L203.10,302.68 L203.60,302.83 L204.10,302.93 L204.60,302.97 L205.10,302.97 L205.60,302.92 L206.10,302.84 L206.60,302.73 L207.10,302.60 L207.60,302.44 L208.10,302.27 L208.60,302.10 L209.10,301.94 L209.60,301.80 L210.10,301.68 L210.60,301.59 L211.10,301.51 L211.60,301.45 L212.10,301.40 L212.60,301.36 L213.10,301.33 L213.60,301.30 L214.10,301.28 L214.60,301.27 L215.10,301.26 L215.60,301.26 L216.10,301.27 L216.60,301.28 L217.10,301.31 L217.60,301.34 L218.10,301.38 L218.60,301.43 L219.10,301.49 L219.60,301.55 L220.10,301.63 L220.60,301.71 L221.10,301.80 L221.60,301.90 L222.10,302.00 L222.60,302.11 L223.10,302.23 L223.60,302.35 L224.10,302.48 L224.60,302.61 L225.10,302.74 L225.60,302.89 L226.10,303.03 L226.60,303.18 L227.10,303.33 L227.60,303.49 L228.10,303.65 L228.60,303.81 L229.10,303.98 L229.60,304.16 L230.10,304.33 L230.60,304.51 L231.10,304.70 L231.60,304.88 L232.10,305.07 L232.60,305.26 L233.10,305.45 L233.60,305.64 L234.10,305.83 L234.60,306.03 L235.10,306.23 L235.60,306.43 L236.10,306.64 L236.60,306.85 L237.10,307.07 L237.60,307.28 L238.10,307.48 L238.60,307.67 L239.10,307.84 L239.60,307.99 L240.10,308.12 L240.60,308.23 L241.10,308.32 L241.60,308.39 L242.10,308.45 L242.60,308.50 L243.10,308.53 L243.60,308.55 L244.10,308.56 L244.60,308.56 L245.10,308.55 L245.60,308.53 L246.10,308.49 L246.60,308.45 L247.10,308.39 L247.60,308.33 L248.10,308.25 L248.60,308.15 L249.10,308.05 L249.60,307.92 L250.10,307.79 L250.60,307.64 L251.10,307.49 L251.60,307.33 L252.10,307.16 L252.60,307.00 L253.10,306.84 L253.60,306.68 L254.10,306.53 L254.60,306.38 L255.10,306.23 L255.60,306.08 L256.10,305.93 L256.20,305.90" stroke="#FF0000" stroke-width="1.1" stroke-dasharray="1 1.1" fill="none" stroke-linejoin="round" clip-path="url(#cl3)" stroke-opacity="0.75"/>
<path d="M53.60,306.20 L54.10,305.97 L54.60,305.74 L55.10,305.51 L55.60,305.27 L56.10,305.04 L56.60,304.80 L57.10,304.55 L57.60,304.30 L58.10,304.04 L58.60,303.77 L59.10,303.50 L59.60,303.22 L60.10,302.93 L60.60,302.62 L61.10,302.31 L61.60,301.98 L62.10,301.65 L62.60,301.30 L63.10,300.93 L63.60,300.55 L64.10,300.16 L64.60,299.74 L65.10,299.32 L65.60,298.87 L66.10,298.41 L66.60,297.92 L67.10,297.42 L67.60,296.90 L68.10,296.37 L68.60,295.82 L69.10,295.26 L69.60,294.69 L70.10,294.10 L70.60,293.50 L71.10,292.89 L71.60,292.28 L72.10,291.65 L72.60,291.02 L73.10,290.37 L73.60,289.72 L74.10,289.06 L74.60,288.38 L75.10,287.70 L75.60,287.01 L76.10,286.30 L76.60,285.58 L77.10,284.85 L77.60,284.11 L78.10,283.35 L78.60,282.57 L79.10,281.78 L79.60,280.95 L80.10,280.11 L80.60,279.23 L81.10,278.32 L81.60,277.38 L82.10,276.40 L82.60,275.39 L83.10,274.35 L83.60,273.28 L84.10,272.19 L84.60,271.10 L85.10,269.99 L85.60,268.88 L86.10,267.78 L86.60,266.68 L87.10,265.59 L87.60,264.48 L88.10,263.35 L88.60,262.19 L89.10,260.99 L89.60,259.75 L90.10,258.45 L90.60,257.12 L91.10,255.76 L91.60,254.40 L92.10,253.04 L92.60,251.70 L93.10,250.38 L93.60,249.09 L94.10,247.81 L94.60,246.53 L95.10,245.27 L95.60,244.01 L96.10,242.74 L96.60,241.47 L97.10,240.21 L97.60,238.96 L98.10,237.73 L98.60,236.51 L99.10,235.33 L99.60,234.17 L100.10,233.06 L100.60,231.99 L101.10,230.96 L101.60,229.97 L102.10,229.02 L102.60,228.11 L103.10,227.23 L103.60,226.40 L104.10,225.60 L104.60,224.84 L105.10,224.11 L105.60,223.43 L106.10,222.79 L106.60,222.19 L107.10,221.64 L107.60,221.14 L108.10,220.68 L108.60,220.28 L109.10,219.93 L109.60,219.63 L110.10,219.37 L110.60,219.15 L111.10,218.96 L111.60,218.81 L112.10,218.68 L112.60,218.59 L113.10,218.51 L113.60,218.46 L114.10,218.43 L114.60,218.43 L115.10,218.47 L115.60,218.55 L116.10,218.69 L116.60,218.89 L117.10,219.15 L117.60,219.49 L118.10,219.91 L118.60,220.41 L119.10,221.00 L119.60,221.67 L120.10,222.40 L120.60,223.20 L121.10,224.06 L121.60,224.96 L122.10,225.91 L122.60,226.90 L123.10,227.91 L123.60,228.94 L124.10,230.00 L124.60,231.09 L125.10,232.19 L125.60,233.31 L126.10,234.45 L126.60,235.60 L127.10,236.78 L127.60,237.96 L128.10,239.16 L128.60,240.37 L129.10,241.60 L129.60,242.85 L130.10,244.12 L130.60,245.41 L131.10,246.72 L131.60,248.05 L132.10,249.41 L132.60,250.80 L133.10,252.22 L133.60,253.65 L134.10,255.10 L134.60,256.56 L135.10,258.01 L135.60,259.45 L136.10,260.87 L136.60,262.26 L137.10,263.61 L137.60,264.92 L138.10,266.19 L138.60,267.44 L139.10,268.70 L139.60,270.00 L140.10,271.36 L140.60,272.80 L141.10,274.32 L141.60,275.87 L142.10,277.39 L142.60,278.82 L143.10,280.10 L143.60,281.18 L144.10,282.08 L144.60,282.85 L145.10,283.51 L145.60,284.12 L146.10,284.68 L146.60,285.19 L147.10,285.64 L147.60,286.00 L148.10,286.26 L148.60,286.41 L149.10,286.42 L149.60,286.27 L150.10,285.96 L150.60,285.46 L151.10,284.76 L151.60,283.86 L152.10,282.78 L152.60,281.54 L153.10,280.14 L153.60,278.60 L154.10,276.94 L154.60,275.21 L155.10,273.45 L155.60,271.71 L156.10,270.04 L156.60,268.49 L157.10,267.08 L157.60,265.81 L158.10,264.67 L158.60,263.67 L159.10,262.81 L159.60,262.09 L160.10,261.49 L160.60,261.00 L161.10,260.60 L161.60,260.28 L162.10,260.03 L162.60,259.85 L163.10,259.71 L163.60,259.63 L164.10,259.58 L164.60,259.57 L165.10,259.60 L165.60,259.66 L166.10,259.76 L166.60,259.90 L167.10,260.08 L167.60,260.30 L168.10,260.56 L168.60,260.86 L169.10,261.19 L169.60,261.56 L170.10,261.97 L170.60,262.41 L171.10,262.89 L171.60,263.41 L172.10,263.95 L172.60,264.51 L173.10,265.08 L173.60,265.66 L174.10,266.24 L174.60,266.81 L175.10,267.36 L175.60,267.89 L176.10,268.41 L176.60,268.91 L177.10,269.41 L177.60,269.91 L178.10,270.42 L178.60,270.94 L179.10,271.49 L179.60,272.06 L180.10,272.68 L180.60,273.34 L181.10,274.04 L181.60,274.78 L182.10,275.55 L182.60,276.34 L183.10,277.14 L183.60,277.94 L184.10,278.73 L184.60,279.50 L185.10,280.25 L185.60,280.97 L186.10,281.69 L186.60,282.40 L187.10,283.11 L187.60,283.84 L188.10,284.60 L188.60,285.38 L189.10,286.20 L189.60,287.05 L190.10,287.93 L190.60,288.83 L191.10,289.72 L191.60,290.61 L192.10,291.48 L192.60,292.32 L193.10,293.13 L193.60,293.91 L194.10,294.66 L194.60,295.40 L195.10,296.14 L195.60,296.88 L196.10,297.64 L196.60,298.42 L197.10,299.24 L197.60,300.09 L198.10,300.96 L198.60,301.82 L199.10,302.65 L199.60,303.43 L200.10,304.14 L200.60,304.76 L201.10,305.29 L201.60,305.75 L202.10,306.15 L202.60,306.53 L203.10,306.89 L203.60,307.22 L204.10,307.46 L204.60,307.56 L205.10,307.50 L205.60,307.29 L206.10,306.98 L206.60,306.59 L207.10,306.15 L207.60,305.66 L208.10,305.14 L208.60,304.60 L209.10,304.04 L209.60,303.48 L210.10,302.94 L210.60,302.43 L211.10,301.95 L211.60,301.53 L212.10,301.17 L212.60,300.88 L213.10,300.65 L213.60,300.48 L214.10,300.36 L214.60,300.29 L215.10,300.27 L215.60,300.29 L216.10,300.33 L216.60,300.38 L217.10,300.45 L217.60,300.51 L218.10,300.57 L218.60,300.61 L219.10,300.63 L219.60,300.66 L220.10,300.69 L220.60,300.72 L221.10,300.78 L221.60,300.86 L222.10,300.97 L222.60,301.12 L223.10,301.30 L223.60,301.51 L224.10,301.74 L224.60,301.98 L225.10,302.23 L225.60,302.49 L226.10,302.75 L226.60,303.01 L227.10,303.25 L227.60,303.50 L228.10,303.74 L228.60,303.97 L229.10,304.19 L229.60,304.41 L230.10,304.62 L230.60,304.82 L231.10,305.03 L231.60,305.27 L232.10,305.51 L232.60,305.72 L233.10,305.90 L233.60,306.03 L234.10,306.11 L234.60,306.12 L235.10,306.04 L235.60,305.89 L236.10,305.65 L236.60,305.33 L237.10,304.96 L237.60,304.53 L238.10,304.08 L238.60,303.60 L239.10,303.11 L239.60,302.62 L240.10,302.13 L240.60,301.65 L241.10,301.18 L241.60,300.73 L242.10,300.30 L242.60,299.90 L243.10,299.53 L243.60,299.20 L244.10,298.92 L244.60,298.68 L245.10,298.49 L245.60,298.37 L246.10,298.30 L246.60,298.29 L247.10,298.35 L247.60,298.47 L248.10,298.65 L248.60,298.88 L249.10,299.17 L249.60,299.52 L250.10,299.90 L250.60,300.30 L251.10,300.69 L251.60,301.05 L252.10,301.35 L252.60,301.60 L253.10,301.84 L253.60,302.12 L254.10,302.48 L254.60,302.99 L255.10,303.68 L255.60,304.59 L256.10,305.67 L256.20,305.90" stroke="#FF0000" stroke-width="1.6" stroke-dasharray="4.6 3.2" fill="none" stroke-linejoin="round" clip-path="url(#cl3)"/>
<path d="M53.60,306.20 L54.10,305.97 L54.60,305.74 L55.10,305.51 L55.60,305.27 L56.10,305.04 L56.60,304.80 L57.10,304.55 L57.60,304.30 L58.10,304.04 L58.60,303.77 L59.10,303.50 L59.60,303.22 L60.10,302.93 L60.60,302.62 L61.10,302.31 L61.60,301.98 L62.10,301.65 L62.60,301.30 L63.10,300.93 L63.60,300.55 L64.10,300.16 L64.60,299.74 L65.10,299.32 L65.60,298.87 L66.10,298.41 L66.60,297.92 L67.10,297.42 L67.60,296.90 L68.10,296.37 L68.60,295.82 L69.10,295.26 L69.60,294.69 L70.10,294.10 L70.60,293.50 L71.10,292.89 L71.60,292.28 L72.10,291.65 L72.60,291.02 L73.10,290.37 L73.60,289.72 L74.10,289.06 L74.60,288.38 L75.10,287.70 L75.60,287.01 L76.10,286.30 L76.60,285.58 L77.10,284.85 L77.60,284.11 L78.10,283.35 L78.60,282.57 L79.10,281.78 L79.60,280.95 L80.10,280.11 L80.60,279.23 L81.10,278.32 L81.60,277.38 L82.10,276.40 L82.60,275.39 L83.10,274.35 L83.60,273.28 L84.10,272.19 L84.60,271.10 L85.10,269.99 L85.60,268.88 L86.10,267.78 L86.60,266.68 L87.10,265.59 L87.60,264.48 L88.10,263.35 L88.60,262.19 L89.10,260.99 L89.60,259.75 L90.10,258.45 L90.60,257.12 L91.10,255.76 L91.60,254.40 L92.10,253.04 L92.60,251.70 L93.10,250.38 L93.60,249.09 L94.10,247.81 L94.60,246.53 L95.10,245.27 L95.60,244.01 L96.10,242.74 L96.60,241.47 L97.10,240.21 L97.60,238.96 L98.10,237.73 L98.60,236.51 L99.10,235.33 L99.60,234.17 L100.10,233.06 L100.60,231.99 L101.10,230.96 L101.60,229.97 L102.10,229.02 L102.60,228.11 L103.10,227.23 L103.60,226.40 L104.10,225.60 L104.60,224.84 L105.10,224.11 L105.60,223.43 L106.10,222.79 L106.60,222.19 L107.10,221.64 L107.60,221.14 L108.10,220.68 L108.60,220.28 L109.10,219.93 L109.60,219.63 L110.10,219.37 L110.60,219.15 L111.10,218.96 L111.60,218.81 L112.10,218.68 L112.60,218.59 L113.10,218.51 L113.60,218.46 L114.10,218.43 L114.60,218.43 L115.10,218.47 L115.60,218.55 L116.10,218.69 L116.60,218.89 L117.10,219.15 L117.60,219.49 L118.10,219.91 L118.60,220.41 L119.10,221.00 L119.60,221.67 L120.10,222.40 L120.60,223.20 L121.10,224.06 L121.60,224.96 L122.10,225.91 L122.60,226.90 L123.10,227.91 L123.60,228.94 L124.10,230.00 L124.60,231.09 L125.10,232.19 L125.60,233.31 L126.10,234.45 L126.60,235.60 L127.10,236.78 L127.60,237.96 L128.10,239.16 L128.60,240.37 L129.10,241.60 L129.60,242.85 L130.10,244.12 L130.60,245.41 L131.10,246.72 L131.60,248.05 L132.10,249.41 L132.60,250.80 L133.10,252.22 L133.60,253.65 L134.10,255.10 L134.60,256.56 L135.10,258.01 L135.60,259.45 L136.10,260.87 L136.60,262.26 L137.10,263.61 L137.60,264.92 L138.10,266.19 L138.60,267.44 L139.10,268.70 L139.60,270.00 L140.10,271.36 L140.60,272.80 L141.10,274.32 L141.60,275.87 L142.10,277.39 L142.60,278.82 L143.10,280.10 L143.60,281.18 L144.10,282.08 L144.60,282.84 L145.10,283.51 L145.60,284.12 L146.10,284.69 L146.60,285.21 L147.10,285.65 L147.60,286.00 L148.10,286.24 L148.60,286.37 L149.10,286.40 L149.60,286.34 L150.10,286.08 L150.60,285.53 L151.10,284.57 L151.60,283.20 L152.10,281.48 L152.60,279.51 L153.10,277.35 L153.60,275.09 L154.10,272.77 L154.60,270.43 L155.10,268.11 L155.60,265.83 L156.10,263.63 L156.60,261.53 L157.10,259.54 L157.60,257.70 L158.10,256.01 L158.60,254.50 L159.10,253.18 L159.60,252.04 L160.10,251.07 L160.60,250.24 L161.10,249.55 L161.60,248.96 L162.10,248.49 L162.60,248.11 L163.10,247.82 L163.60,247.62 L164.10,247.50 L164.60,247.45 L165.10,247.49 L165.60,247.63 L166.10,247.87 L166.60,248.22 L167.10,248.71 L167.60,249.32 L168.10,250.03 L168.60,250.81 L169.10,251.63 L169.60,252.47 L170.10,253.29 L170.60,254.10 L171.10,254.93 L171.60,255.76 L172.10,256.62 L172.60,257.52 L173.10,258.44 L173.60,259.39 L174.10,260.35 L174.60,261.32 L175.10,262.30 L175.60,263.27 L176.10,264.22 L176.60,265.16 L177.10,266.08 L177.60,266.98 L178.10,267.86 L178.60,268.73 L179.10,269.60 L179.60,270.46 L180.10,271.31 L180.60,272.17 L181.10,273.03 L181.60,273.89 L182.10,274.75 L182.60,275.61 L183.10,276.47 L183.60,277.32 L184.10,278.16 L184.60,279.00 L185.10,279.83 L185.60,280.65 L186.10,281.46 L186.60,282.26 L187.10,283.05 L187.60,283.84 L188.10,284.62 L188.60,285.39 L189.10,286.16 L189.60,286.92 L190.10,287.66 L190.60,288.40 L191.10,289.12 L191.60,289.83 L192.10,290.53 L192.60,291.20 L193.10,291.85 L193.60,292.49 L194.10,293.11 L194.60,293.72 L195.10,294.31 L195.60,294.90 L196.10,295.48 L196.60,296.05 L197.10,296.61 L197.60,297.18 L198.10,297.73 L198.60,298.28 L199.10,298.81 L199.60,299.32 L200.10,299.81 L200.60,300.27 L201.10,300.70 L201.60,301.09 L202.10,301.43 L202.60,301.71 L203.10,301.92 L203.60,302.06 L204.10,302.15 L204.60,302.19 L205.10,302.20 L205.60,302.18 L206.10,302.13 L206.60,302.07 L207.10,301.98 L207.60,301.89 L208.10,301.78 L208.60,301.67 L209.10,301.57 L209.60,301.48 L210.10,301.41 L210.60,301.34 L211.10,301.29 L211.60,301.26 L212.10,301.23 L212.60,301.21 L213.10,301.19 L213.60,301.19 L214.10,301.19 L214.60,301.19 L215.10,301.20 L215.60,301.22 L216.10,301.24 L216.60,301.27 L217.10,301.31 L217.60,301.35 L218.10,301.39 L218.60,301.44 L219.10,301.50 L219.60,301.56 L220.10,301.63 L220.60,301.71 L221.10,301.80 L221.60,301.89 L222.10,302.00 L222.60,302.11 L223.10,302.22 L223.60,302.35 L224.10,302.47 L224.60,302.61 L225.10,302.74 L225.60,302.88 L226.10,303.03 L226.60,303.18 L227.10,303.33 L227.60,303.48 L228.10,303.64 L228.60,303.80 L229.10,303.97 L229.60,304.14 L230.10,304.31 L230.60,304.49 L231.10,304.67 L231.60,304.85 L232.10,305.03 L232.60,305.22 L233.10,305.42 L233.60,305.61 L234.10,305.81 L234.60,306.01 L235.10,306.22 L235.60,306.43 L236.10,306.64 L236.60,306.86 L237.10,307.07 L237.60,307.28 L238.10,307.48 L238.60,307.67 L239.10,307.84 L239.60,307.99 L240.10,308.12 L240.60,308.23 L241.10,308.32 L241.60,308.39 L242.10,308.45 L242.60,308.50 L243.10,308.53 L243.60,308.55 L244.10,308.56 L244.60,308.56 L245.10,308.55 L245.60,308.53 L246.10,308.49 L246.60,308.45 L247.10,308.39 L247.60,308.33 L248.10,308.25 L248.60,308.15 L249.10,308.05 L249.60,307.92 L250.10,307.79 L250.60,307.64 L251.10,307.49 L251.60,307.33 L252.10,307.16 L252.60,307.00 L253.10,306.84 L253.60,306.68 L254.10,306.53 L254.60,306.38 L255.10,306.23 L255.60,306.08 L256.10,305.93 L256.20,305.90" stroke="#78BE3C" stroke-width="1.1" stroke-dasharray="1 1.1" fill="none" stroke-linejoin="round" clip-path="url(#cl3)" stroke-opacity="0.75"/>
<path d="M53.60,306.20 L54.10,305.97 L54.60,305.74 L55.10,305.51 L55.60,305.27 L56.10,305.04 L56.60,304.80 L57.10,304.55 L57.60,304.30 L58.10,304.04 L58.60,303.77 L59.10,303.50 L59.60,303.22 L60.10,302.93 L60.60,302.62 L61.10,302.31 L61.60,301.98 L62.10,301.65 L62.60,301.30 L63.10,300.93 L63.60,300.55 L64.10,300.16 L64.60,299.74 L65.10,299.32 L65.60,298.87 L66.10,298.41 L66.60,297.92 L67.10,297.42 L67.60,296.90 L68.10,296.37 L68.60,295.82 L69.10,295.26 L69.60,294.69 L70.10,294.10 L70.60,293.50 L71.10,292.89 L71.60,292.28 L72.10,291.65 L72.60,291.02 L73.10,290.37 L73.60,289.72 L74.10,289.06 L74.60,288.38 L75.10,287.70 L75.60,287.01 L76.10,286.30 L76.60,285.58 L77.10,284.85 L77.60,284.11 L78.10,283.35 L78.60,282.57 L79.10,281.78 L79.60,280.95 L80.10,280.11 L80.60,279.23 L81.10,278.32 L81.60,277.38 L82.10,276.40 L82.60,275.39 L83.10,274.35 L83.60,273.28 L84.10,272.19 L84.60,271.10 L85.10,269.99 L85.60,268.88 L86.10,267.78 L86.60,266.68 L87.10,265.59 L87.60,264.48 L88.10,263.35 L88.60,262.19 L89.10,260.99 L89.60,259.75 L90.10,258.45 L90.60,257.12 L91.10,255.76 L91.60,254.40 L92.10,253.04 L92.60,251.70 L93.10,250.38 L93.60,249.09 L94.10,247.81 L94.60,246.53 L95.10,245.27 L95.60,244.01 L96.10,242.74 L96.60,241.47 L97.10,240.21 L97.60,238.96 L98.10,237.73 L98.60,236.51 L99.10,235.33 L99.60,234.17 L100.10,233.06 L100.60,231.99 L101.10,230.96 L101.60,229.97 L102.10,229.02 L102.60,228.11 L103.10,227.23 L103.60,226.40 L104.10,225.60 L104.60,224.84 L105.10,224.11 L105.60,223.43 L106.10,222.79 L106.60,222.19 L107.10,221.64 L107.60,221.14 L108.10,220.68 L108.60,220.28 L109.10,219.93 L109.60,219.63 L110.10,219.37 L110.60,219.15 L111.10,218.96 L111.60,218.81 L112.10,218.68 L112.60,218.59 L113.10,218.51 L113.60,218.46 L114.10,218.43 L114.60,218.43 L115.10,218.47 L115.60,218.55 L116.10,218.69 L116.60,218.89 L117.10,219.15 L117.60,219.49 L118.10,219.91 L118.60,220.41 L119.10,221.00 L119.60,221.67 L120.10,222.40 L120.60,223.20 L121.10,224.06 L121.60,224.96 L122.10,225.91 L122.60,226.90 L123.10,227.91 L123.60,228.94 L124.10,230.00 L124.60,231.09 L125.10,232.19 L125.60,233.31 L126.10,234.45 L126.60,235.60 L127.10,236.78 L127.60,237.96 L128.10,239.16 L128.60,240.37 L129.10,241.60 L129.60,242.85 L130.10,244.12 L130.60,245.41 L131.10,246.72 L131.60,248.05 L132.10,249.41 L132.60,250.80 L133.10,252.22 L133.60,253.65 L134.10,255.10 L134.60,256.56 L135.10,258.01 L135.60,259.45 L136.10,260.87 L136.60,262.26 L137.10,263.61 L137.60,264.92 L138.10,266.19 L138.60,267.44 L139.10,268.70 L139.60,270.00 L140.10,271.36 L140.60,272.80 L141.10,274.32 L141.60,275.87 L142.10,277.39 L142.60,278.82 L143.10,280.10 L143.60,281.18 L144.10,282.08 L144.60,282.84 L145.10,283.51 L145.60,284.12 L146.10,284.69 L146.60,285.21 L147.10,285.65 L147.60,286.00 L148.10,286.24 L148.60,286.37 L149.10,286.40 L149.60,286.34 L150.10,286.08 L150.60,285.53 L151.10,284.57 L151.60,283.20 L152.10,281.48 L152.60,279.51 L153.10,277.35 L153.60,275.09 L154.10,272.77 L154.60,270.43 L155.10,268.11 L155.60,265.83 L156.10,263.63 L156.60,261.53 L157.10,259.54 L157.60,257.70 L158.10,256.01 L158.60,254.50 L159.10,253.18 L159.60,252.04 L160.10,251.07 L160.60,250.24 L161.10,249.55 L161.60,248.96 L162.10,248.49 L162.60,248.11 L163.10,247.82 L163.60,247.62 L164.10,247.50 L164.60,247.45 L165.10,247.49 L165.60,247.63 L166.10,247.87 L166.60,248.22 L167.10,248.71 L167.60,249.32 L168.10,250.03 L168.60,250.81 L169.10,251.63 L169.60,252.47 L170.10,253.29 L170.60,254.10 L171.10,254.93 L171.60,255.76 L172.10,256.62 L172.60,257.52 L173.10,258.44 L173.60,259.39 L174.10,260.35 L174.60,261.32 L175.10,262.30 L175.60,263.27 L176.10,264.22 L176.60,265.16 L177.10,266.08 L177.60,266.98 L178.10,267.86 L178.60,268.73 L179.10,269.60 L179.60,270.46 L180.10,271.31 L180.60,272.17 L181.10,273.03 L181.60,273.89 L182.10,274.75 L182.60,275.61 L183.10,276.47 L183.60,277.32 L184.10,278.16 L184.60,279.00 L185.10,279.83 L185.60,280.65 L186.10,281.46 L186.60,282.26 L187.10,283.05 L187.60,283.84 L188.10,284.62 L188.60,285.39 L189.10,286.16 L189.60,286.92 L190.10,287.66 L190.60,288.40 L191.10,289.12 L191.60,289.83 L192.10,290.53 L192.60,291.20 L193.10,291.85 L193.60,292.49 L194.10,293.11 L194.60,293.72 L195.10,294.31 L195.60,294.90 L196.10,295.48 L196.60,296.05 L197.10,296.61 L197.60,297.18 L198.10,297.73 L198.60,298.28 L199.10,298.81 L199.60,299.32 L200.10,299.81 L200.60,300.27 L201.10,300.70 L201.60,301.09 L202.10,301.43 L202.60,301.71 L203.10,301.92 L203.60,302.06 L204.10,302.15 L204.60,302.19 L205.10,302.20 L205.60,302.18 L206.10,302.13 L206.60,302.07 L207.10,301.98 L207.60,301.89 L208.10,301.78 L208.60,301.67 L209.10,301.57 L209.60,301.48 L210.10,301.41 L210.60,301.34 L211.10,301.29 L211.60,301.26 L212.10,301.23 L212.60,301.21 L213.10,301.19 L213.60,301.19 L214.10,301.19 L214.60,301.19 L215.10,301.20 L215.60,301.22 L216.10,301.24 L216.60,301.27 L217.10,301.31 L217.60,301.35 L218.10,301.39 L218.60,301.44 L219.10,301.50 L219.60,301.56 L220.10,301.63 L220.60,301.71 L221.10,301.80 L221.60,301.89 L222.10,302.00 L222.60,302.11 L223.10,302.22 L223.60,302.35 L224.10,302.47 L224.60,302.61 L225.10,302.74 L225.60,302.88 L226.10,303.03 L226.60,303.18 L227.10,303.33 L227.60,303.48 L228.10,303.64 L228.60,303.80 L229.10,303.97 L229.60,304.14 L230.10,304.31 L230.60,304.49 L231.10,304.67 L231.60,304.85 L232.10,305.03 L232.60,305.22 L233.10,305.42 L233.60,305.61 L234.10,305.81 L234.60,306.01 L235.10,306.22 L235.60,306.43 L236.10,306.64 L236.60,306.86 L237.10,307.07 L237.60,307.28 L238.10,307.48 L238.60,307.67 L239.10,307.84 L239.60,307.99 L240.10,308.12 L240.60,308.23 L241.10,308.32 L241.60,308.39 L242.10,308.45 L242.60,308.50 L243.10,308.53 L243.60,308.55 L244.10,308.56 L244.60,308.56 L245.10,308.55 L245.60,308.53 L246.10,308.49 L246.60,308.45 L247.10,308.39 L247.60,308.33 L248.10,308.25 L248.60,308.15 L249.10,308.05 L249.60,307.92 L250.10,307.79 L250.60,307.64 L251.10,307.49 L251.60,307.33 L252.10,307.16 L252.60,307.00 L253.10,306.84 L253.60,306.68 L254.10,306.53 L254.60,306.38 L255.10,306.23 L255.60,306.08 L256.10,305.93 L256.20,305.90" stroke="#78BE3C" stroke-width="1.1" stroke-dasharray="1 1.1" fill="none" stroke-linejoin="round" clip-path="url(#sh3)" stroke-opacity="1.0"/>
<path d="M53.60,306.20 L54.10,305.97 L54.60,305.74 L55.10,305.51 L55.60,305.27 L56.10,305.04 L56.60,304.80 L57.10,304.55 L57.60,304.30 L58.10,304.04 L58.60,303.77 L59.10,303.50 L59.60,303.22 L60.10,302.93 L60.60,302.62 L61.10,302.31 L61.60,301.98 L62.10,301.65 L62.60,301.30 L63.10,300.93 L63.60,300.55 L64.10,300.16 L64.60,299.74 L65.10,299.32 L65.60,298.87 L66.10,298.41 L66.60,297.92 L67.10,297.42 L67.60,296.90 L68.10,296.37 L68.60,295.82 L69.10,295.26 L69.60,294.69 L70.10,294.10 L70.60,293.50 L71.10,292.89 L71.60,292.28 L72.10,291.65 L72.60,291.02 L73.10,290.37 L73.60,289.72 L74.10,289.06 L74.60,288.38 L75.10,287.70 L75.60,287.01 L76.10,286.30 L76.60,285.58 L77.10,284.85 L77.60,284.11 L78.10,283.35 L78.60,282.57 L79.10,281.78 L79.60,280.95 L80.10,280.11 L80.60,279.23 L81.10,278.32 L81.60,277.38 L82.10,276.40 L82.60,275.39 L83.10,274.35 L83.60,273.28 L84.10,272.19 L84.60,271.10 L85.10,269.99 L85.60,268.88 L86.10,267.78 L86.60,266.68 L87.10,265.59 L87.60,264.48 L88.10,263.35 L88.60,262.19 L89.10,260.99 L89.60,259.75 L90.10,258.45 L90.60,257.12 L91.10,255.76 L91.60,254.40 L92.10,253.04 L92.60,251.70 L93.10,250.38 L93.60,249.09 L94.10,247.81 L94.60,246.53 L95.10,245.27 L95.60,244.01 L96.10,242.74 L96.60,241.47 L97.10,240.21 L97.60,238.96 L98.10,237.73 L98.60,236.51 L99.10,235.33 L99.60,234.17 L100.10,233.06 L100.60,231.99 L101.10,230.96 L101.60,229.97 L102.10,229.02 L102.60,228.11 L103.10,227.23 L103.60,226.40 L104.10,225.60 L104.60,224.84 L105.10,224.11 L105.60,223.43 L106.10,222.79 L106.60,222.19 L107.10,221.64 L107.60,221.14 L108.10,220.68 L108.60,220.28 L109.10,219.93 L109.60,219.63 L110.10,219.37 L110.60,219.15 L111.10,218.96 L111.60,218.81 L112.10,218.68 L112.60,218.59 L113.10,218.51 L113.60,218.46 L114.10,218.43 L114.60,218.43 L115.10,218.47 L115.60,218.55 L116.10,218.69 L116.60,218.89 L117.10,219.15 L117.60,219.49 L118.10,219.91 L118.60,220.41 L119.10,221.00 L119.60,221.67 L120.10,222.40 L120.60,223.20 L121.10,224.06 L121.60,224.96 L122.10,225.91 L122.60,226.90 L123.10,227.91 L123.60,228.94 L124.10,230.00 L124.60,231.09 L125.10,232.19 L125.60,233.31 L126.10,234.45 L126.60,235.60 L127.10,236.78 L127.60,237.96 L128.10,239.16 L128.60,240.37 L129.10,241.60 L129.60,242.85 L130.10,244.12 L130.60,245.41 L131.10,246.72 L131.60,248.05 L132.10,249.41 L132.60,250.80 L133.10,252.22 L133.60,253.65 L134.10,255.10 L134.60,256.56 L135.10,258.01 L135.60,259.45 L136.10,260.87 L136.60,262.26 L137.10,263.61 L137.60,264.92 L138.10,266.19 L138.60,267.44 L139.10,268.70 L139.60,270.00 L140.10,271.36 L140.60,272.80 L141.10,274.32 L141.60,275.87 L142.10,277.39 L142.60,278.82 L143.10,280.10 L143.60,281.18 L144.10,282.08 L144.60,282.85 L145.10,283.51 L145.60,284.12 L146.10,284.68 L146.60,285.19 L147.10,285.64 L147.60,286.00 L148.10,286.26 L148.60,286.41 L149.10,286.42 L149.60,286.27 L150.10,285.95 L150.60,285.45 L151.10,284.77 L151.60,283.92 L152.10,282.90 L152.60,281.73 L153.10,280.43 L153.60,279.00 L154.10,277.47 L154.60,275.86 L155.10,274.24 L155.60,272.63 L156.10,271.09 L156.60,269.65 L157.10,268.34 L157.60,267.15 L158.10,266.08 L158.60,265.15 L159.10,264.35 L159.60,263.68 L160.10,263.12 L160.60,262.66 L161.10,262.30 L161.60,262.00 L162.10,261.77 L162.60,261.58 L163.10,261.45 L163.60,261.36 L164.10,261.31 L164.60,261.29 L165.10,261.30 L165.60,261.34 L166.10,261.41 L166.60,261.51 L167.10,261.63 L167.60,261.77 L168.10,261.94 L168.60,262.15 L169.10,262.39 L169.60,262.66 L170.10,262.98 L170.60,263.34 L171.10,263.75 L171.60,264.20 L172.10,264.68 L172.60,265.19 L173.10,265.72 L173.60,266.25 L174.10,266.78 L174.60,267.30 L175.10,267.80 L175.60,268.28 L176.10,268.74 L176.60,269.19 L177.10,269.63 L177.60,270.09 L178.10,270.55 L178.60,271.04 L179.10,271.55 L179.60,272.10 L180.10,272.69 L180.60,273.33 L181.10,274.03 L181.60,274.76 L182.10,275.53 L182.60,276.33 L183.10,277.13 L183.60,277.93 L184.10,278.73 L184.60,279.50 L185.10,280.25 L185.60,280.97 L186.10,281.68 L186.60,282.39 L187.10,283.10 L187.60,283.83 L188.10,284.58 L188.60,285.37 L189.10,286.20 L189.60,287.08 L190.10,287.97 L190.60,288.89 L191.10,289.81 L191.60,290.73 L192.10,291.63 L192.60,292.50 L193.10,293.33 L193.60,294.13 L194.10,294.91 L194.60,295.68 L195.10,296.45 L195.60,297.22 L196.10,298.01 L196.60,298.82 L197.10,299.67 L197.60,300.56 L198.10,301.46 L198.60,302.35 L199.10,303.21 L199.60,304.01 L200.10,304.74 L200.60,305.36 L201.10,305.89 L201.60,306.34 L202.10,306.75 L202.60,307.14 L203.10,307.54 L203.60,307.91 L204.10,308.19 L204.60,308.31 L205.10,308.24 L205.60,308.00 L206.10,307.65 L206.60,307.21 L207.10,306.71 L207.60,306.18 L208.10,305.61 L208.60,305.00 L209.10,304.37 L209.60,303.73 L210.10,303.09 L210.60,302.47 L211.10,301.89 L211.60,301.36 L212.10,300.92 L212.60,300.56 L213.10,300.28 L213.60,300.08 L214.10,299.96 L214.60,299.89 L215.10,299.88 L215.60,299.92 L216.10,299.99 L216.60,300.07 L217.10,300.17 L217.60,300.25 L218.10,300.31 L218.60,300.35 L219.10,300.36 L219.60,300.37 L220.10,300.38 L220.60,300.40 L221.10,300.44 L221.60,300.51 L222.10,300.63 L222.60,300.79 L223.10,300.99 L223.60,301.23 L224.10,301.49 L224.60,301.77 L225.10,302.06 L225.60,302.36 L226.10,302.66 L226.60,302.95 L227.10,303.23 L227.60,303.50 L228.10,303.76 L228.60,304.01 L229.10,304.25 L229.60,304.47 L230.10,304.69 L230.60,304.90 L231.10,305.09 L231.60,305.27 L232.10,305.43 L232.60,305.58 L233.10,305.73 L233.60,305.87 L234.10,306.01 L234.60,306.15 L235.10,306.30 L235.60,306.46 L236.10,306.64 L236.60,306.83 L237.10,307.04 L237.60,307.25 L238.10,307.45 L238.60,307.65 L239.10,307.83 L239.60,307.99 L240.10,308.13 L240.60,308.24 L241.10,308.33 L241.60,308.40 L242.10,308.46 L242.60,308.50 L243.10,308.53 L243.60,308.55 L244.10,308.56 L244.60,308.56 L245.10,308.55 L245.60,308.53 L246.10,308.49 L246.60,308.45 L247.10,308.39 L247.60,308.33 L248.10,308.25 L248.60,308.15 L249.10,308.05 L249.60,307.92 L250.10,307.79 L250.60,307.64 L251.10,307.49 L251.60,307.33 L252.10,307.16 L252.60,307.00 L253.10,306.84 L253.60,306.68 L254.10,306.53 L254.60,306.38 L255.10,306.23 L255.60,306.08 L256.10,305.93 L256.20,305.90" stroke="#78BE3C" stroke-width="1.6" stroke-dasharray="4.6 3.2" fill="none" stroke-linejoin="round"/>
<text class="cap" x="131" y="178.1" font-size="11.6" text-anchor="middle" fill="#000">(a)</text>
<text class="cap" x="418.3" y="178.1" font-size="11.6" text-anchor="middle" fill="#000">(b)</text>
<text class="cap" x="131" y="354.4" font-size="11.6" text-anchor="middle" fill="#000">(c)</text>
</svg>
</body></html>
